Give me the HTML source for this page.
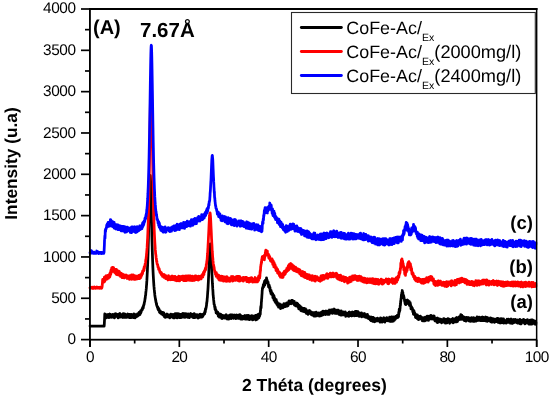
<!DOCTYPE html>
<html><head><meta charset="utf-8"><style>
html,body{margin:0;padding:0;background:#fff;}
svg{display:block;}
text{font-family:"Liberation Sans",Arial,sans-serif;text-rendering:geometricPrecision;}
</style></head><body>
<svg width="550" height="399" viewBox="0 0 550 399">
<rect width="550" height="399" fill="#fff"/>
<g fill="none" stroke-width="2.75" stroke-linejoin="round" stroke-linecap="round">
<path d="M90.00 326.1 90.12 326.1 90.24 326.1 90.36 326.1 90.48 326.1 90.60 326.1 90.72 326.1 90.84 326.1 90.96 326.1 91.08 326.1 91.20 326.1 91.32 326.1 91.44 326.1 91.56 326.1 91.68 326.1 91.80 326.1 91.92 326.1 92.04 326.1 92.16 326.1 92.28 326.1 92.40 326.1 92.52 326.1 92.64 326.1 92.76 326.1 92.88 326.1 93.00 326.1 93.12 326.1 93.24 326.1 93.36 326.1 93.48 326.1 93.60 326.1 93.72 326.1 93.84 326.1 93.96 326.1 94.08 326.1 94.20 326.1 94.32 326.1 94.44 326.1 94.56 326.1 94.68 326.1 94.80 326.1 94.92 326.1 95.04 326.1 95.16 326.1 95.28 326.1 95.40 326.1 95.52 326.1 95.64 326.1 95.76 326.1 95.88 326.1 96.00 326.1 96.12 326.1 96.24 326.1 96.36 326.1 96.48 326.1 96.60 326.1 96.72 326.1 96.84 326.1 96.96 326.1 97.08 326.1 97.20 326.1 97.32 326.1 97.44 326.1 97.56 326.1 97.68 326.1 97.80 326.1 97.92 326.1 98.04 326.1 98.16 326.1 98.28 326.1 98.40 326.1 98.52 326.1 98.64 326.1 98.76 326.1 98.88 326.1 99.00 326.1 99.12 326.1 99.24 326.1 99.36 326.1 99.48 326.1 99.60 326.1 99.72 326.1 99.84 326.1 99.96 326.1 100.08 326.1 100.20 326.1 100.32 326.1 100.44 326.1 100.56 326.1 100.68 326.1 100.80 326.1 100.92 326.1 101.04 326.1 101.16 326.1 101.28 326.1 101.40 326.1 101.52 326.1 101.64 326.1 101.76 326.1 101.88 326.1 102.00 326.1 102.12 326.1 102.24 326.1 102.36 326.0 102.48 326.0 102.60 326.0 102.72 326.0 102.84 326.0 102.96 326.0 103.08 326.0 103.20 326.0 103.32 326.0 103.44 326.0 103.56 326.0 103.68 326.0 103.80 326.0 103.92 326.0 104.04 326.0 104.16 326.0 104.28 324.7 104.40 322.3 104.52 319.8 104.64 317.4 104.76 314.0 104.88 315.0 105.00 316.6 105.12 314.0 105.24 317.1 105.36 314.3 105.48 317.0 105.60 315.2 105.72 317.0 105.84 316.3 105.96 314.5 106.08 317.5 106.20 317.7 106.32 316.0 106.44 315.8 106.56 315.9 106.68 315.0 106.80 317.3 106.92 315.5 107.04 316.0 107.16 315.2 107.28 315.4 107.40 314.7 107.52 317.4 107.64 315.9 107.76 317.1 107.88 316.0 108.00 315.3 108.12 315.7 108.24 315.4 108.36 316.0 108.48 315.6 108.60 315.7 108.72 314.5 108.84 315.1 108.96 317.7 109.08 315.2 109.20 314.8 109.32 316.3 109.44 317.4 109.56 314.4 109.68 315.7 109.80 315.2 109.92 314.0 110.04 316.7 110.16 315.9 110.28 316.0 110.40 315.1 110.52 316.4 110.64 315.3 110.76 315.7 110.88 314.7 111.00 314.6 111.12 317.3 111.24 315.3 111.36 316.2 111.48 315.8 111.60 315.4 111.72 315.3 111.84 316.6 111.96 315.6 112.08 315.7 112.20 315.9 112.32 317.1 112.44 316.6 112.56 316.3 112.68 315.3 112.80 314.4 112.92 316.9 113.04 316.9 113.16 315.7 113.28 316.4 113.40 316.7 113.52 316.7 113.64 316.8 113.76 315.4 113.88 317.5 114.00 314.5 114.12 316.8 114.24 316.4 114.36 316.8 114.48 317.8 114.60 317.4 114.72 314.6 114.84 314.0 114.96 316.7 115.08 314.7 115.20 315.8 115.32 316.7 115.44 314.1 115.56 313.7 115.68 316.1 115.80 315.9 115.92 315.5 116.04 315.8 116.16 314.9 116.28 314.2 116.40 315.6 116.52 314.8 116.64 314.0 116.76 316.3 116.88 315.7 117.00 316.2 117.12 314.7 117.24 315.1 117.36 314.7 117.48 314.8 117.60 316.0 117.72 314.9 117.84 316.1 117.96 316.1 118.08 317.9 118.20 314.3 118.32 316.7 118.44 315.7 118.56 315.7 118.68 314.2 118.80 315.2 118.92 316.5 119.04 315.6 119.16 315.8 119.28 315.4 119.40 316.9 119.52 315.7 119.64 313.6 119.76 315.0 119.88 313.6 120.00 313.6 120.12 315.1 120.24 317.1 120.36 315.8 120.48 314.5 120.60 314.7 120.72 316.9 120.84 315.9 120.96 315.8 121.08 315.7 121.20 315.8 121.32 316.6 121.44 316.3 121.56 315.9 121.68 314.6 121.80 316.3 121.92 315.0 122.04 316.9 122.16 314.4 122.28 315.6 122.40 315.7 122.52 314.3 122.64 317.5 122.76 317.3 122.88 315.2 123.00 316.5 123.12 316.1 123.24 313.6 123.36 316.0 123.48 315.7 123.60 315.8 123.72 314.6 123.84 315.4 123.96 315.5 124.08 317.0 124.20 316.1 124.32 315.7 124.44 317.3 124.56 315.1 124.68 315.3 124.80 313.8 124.92 317.3 125.04 316.7 125.16 316.7 125.28 316.4 125.40 315.8 125.52 315.9 125.64 315.4 125.76 315.5 125.88 315.7 126.00 317.3 126.12 316.3 126.24 315.6 126.36 315.1 126.48 315.0 126.60 317.3 126.72 316.2 126.84 315.7 126.96 315.3 127.08 314.5 127.20 315.6 127.32 316.5 127.44 315.2 127.56 315.4 127.68 315.4 127.80 315.7 127.92 314.0 128.04 315.4 128.16 314.7 128.28 316.5 128.40 314.8 128.52 316.2 128.64 317.1 128.76 315.3 128.88 315.0 129.00 315.8 129.12 315.6 129.24 314.5 129.36 316.0 129.48 317.6 129.60 315.3 129.72 315.3 129.84 314.5 129.96 315.8 130.08 314.3 130.20 314.4 130.32 316.8 130.44 314.6 130.56 316.7 130.68 317.1 130.80 315.9 130.92 316.2 131.04 317.6 131.16 315.5 131.28 315.1 131.40 314.3 131.52 315.7 131.64 317.2 131.76 316.7 131.88 314.8 132.00 314.9 132.12 315.3 132.24 316.1 132.36 315.6 132.48 316.0 132.60 316.1 132.72 315.5 132.84 315.8 132.96 316.0 133.08 315.8 133.20 316.3 133.32 317.7 133.44 316.4 133.56 315.9 133.68 314.2 133.80 316.2 133.92 314.0 134.04 314.5 134.16 316.7 134.28 316.6 134.40 315.7 134.52 314.2 134.64 315.5 134.76 315.2 134.88 316.5 135.00 317.8 135.12 316.1 135.24 315.1 135.36 314.8 135.48 315.8 135.60 315.7 135.72 314.8 135.84 316.0 135.96 314.8 136.08 316.9 136.20 316.8 136.32 316.8 136.44 315.3 136.56 316.2 136.68 315.6 136.80 315.4 136.92 315.4 137.04 314.5 137.16 314.3 137.28 316.2 137.40 315.2 137.52 315.5 137.64 316.1 137.76 313.6 137.88 314.3 138.00 315.1 138.12 315.2 138.24 314.4 138.36 315.6 138.48 314.7 138.60 313.4 138.72 313.5 138.84 314.9 138.96 314.5 139.08 312.4 139.20 315.0 139.32 314.3 139.44 314.8 139.56 313.2 139.68 313.1 139.80 312.3 139.92 314.7 140.04 312.8 140.16 314.1 140.28 312.1 140.40 312.6 140.52 311.0 140.64 311.9 140.76 312.8 140.88 310.8 141.00 312.5 141.12 311.7 141.24 310.5 141.36 310.7 141.48 310.5 141.60 310.6 141.72 310.1 141.84 309.6 141.96 309.8 142.08 309.0 142.20 308.6 142.32 309.2 142.44 309.6 142.56 307.7 142.68 308.4 142.80 307.7 142.92 307.2 143.04 308.1 143.16 306.8 143.28 307.8 143.40 305.9 143.52 306.3 143.64 305.5 143.76 304.8 143.88 305.1 144.00 304.2 144.12 304.2 144.24 303.3 144.36 302.2 144.48 302.2 144.60 301.7 144.72 301.5 144.84 299.9 144.96 299.6 145.08 298.0 145.20 298.5 145.32 296.8 145.44 295.6 145.56 295.5 145.68 295.0 145.80 292.8 145.92 291.9 146.04 290.9 146.16 289.5 146.28 288.7 146.40 286.8 146.52 285.3 146.64 284.1 146.76 281.9 146.88 280.4 147.00 277.9 147.12 275.7 147.24 273.2 147.36 271.7 147.48 268.4 147.60 265.7 147.72 262.5 147.84 259.2 147.96 255.6 148.08 252.1 148.20 247.4 148.32 243.0 148.44 238.5 148.56 233.5 148.68 228.8 148.80 223.4 148.92 217.7 149.04 212.0 149.16 206.6 149.28 201.2 149.40 195.5 149.52 190.8 149.64 186.0 149.76 182.4 149.88 179.0 150.00 176.8 150.12 175.5 150.24 175.4 150.36 176.5 150.48 178.4 150.60 181.1 150.72 184.7 150.84 188.9 150.96 194.0 151.08 199.3 151.20 204.7 151.32 210.3 151.44 215.8 151.56 221.5 151.68 226.8 151.80 232.2 151.92 237.3 152.04 241.6 152.16 246.0 152.28 250.3 152.40 254.1 152.52 257.7 152.64 261.2 152.76 264.2 152.88 267.6 153.00 270.1 153.12 272.8 153.24 275.1 153.36 277.1 153.48 279.1 153.60 281.2 153.72 282.9 153.84 284.9 153.96 286.4 154.08 287.3 154.20 289.2 154.32 289.9 154.44 291.4 154.56 292.7 154.68 293.0 154.80 294.9 154.92 295.8 155.04 296.6 155.16 297.3 155.28 298.1 155.40 298.5 155.52 299.6 155.64 300.1 155.76 301.0 155.88 300.9 156.00 302.3 156.12 302.8 156.24 303.1 156.36 303.4 156.48 304.5 156.60 303.5 156.72 305.3 156.84 305.5 156.96 305.9 157.08 306.4 157.20 306.0 157.32 306.6 157.44 307.5 157.56 307.7 157.68 307.9 157.80 306.9 157.92 308.6 158.04 309.4 158.16 309.5 158.28 309.2 158.40 308.1 158.52 310.2 158.64 309.6 158.76 308.4 158.88 310.4 159.00 309.1 159.12 309.5 159.24 310.2 159.36 311.8 159.48 310.7 159.60 311.4 159.72 312.7 159.84 312.7 159.96 311.5 160.08 311.6 160.20 310.9 160.32 311.5 160.44 312.5 160.56 312.6 160.68 312.5 160.80 313.4 160.92 312.0 161.04 312.7 161.16 313.5 161.28 313.5 161.40 314.0 161.52 313.5 161.64 313.0 161.76 313.7 161.88 312.6 162.00 312.2 162.12 314.2 162.24 313.7 162.36 314.1 162.48 312.4 162.60 313.7 162.72 313.6 162.84 313.4 162.96 312.5 163.08 314.0 163.20 315.2 163.32 314.8 163.44 314.0 163.56 314.6 163.68 315.4 163.80 312.9 163.92 314.7 164.04 315.4 164.16 315.6 164.28 316.6 164.40 316.2 164.52 315.5 164.64 315.5 164.76 316.0 164.88 314.8 165.00 315.4 165.12 316.3 165.24 317.3 165.36 315.3 165.48 315.4 165.60 315.7 165.72 316.8 165.84 315.5 165.96 317.0 166.08 314.7 166.20 315.4 166.32 315.4 166.44 316.4 166.56 316.7 166.68 314.2 166.80 314.8 166.92 316.0 167.04 315.1 167.16 314.2 167.28 316.8 167.40 316.2 167.52 316.2 167.64 315.3 167.76 316.8 167.88 315.6 168.00 316.9 168.12 314.9 168.24 315.0 168.36 316.0 168.48 315.1 168.60 316.5 168.72 316.1 168.84 314.9 168.96 315.9 169.08 315.5 169.20 316.8 169.32 315.2 169.44 315.4 169.56 317.1 169.68 317.9 169.80 317.9 169.92 316.0 170.04 316.1 170.16 317.4 170.28 315.8 170.40 314.9 170.52 316.0 170.64 316.4 170.76 315.1 170.88 314.2 171.00 314.5 171.12 316.6 171.24 315.1 171.36 315.8 171.48 316.1 171.60 316.5 171.72 315.6 171.84 316.4 171.96 315.0 172.08 315.5 172.20 314.9 172.32 317.1 172.44 315.9 172.56 315.1 172.68 315.5 172.80 315.7 172.92 316.6 173.04 314.3 173.16 314.8 173.28 315.5 173.40 317.9 173.52 316.9 173.64 315.8 173.76 316.6 173.88 317.9 174.00 315.6 174.12 315.5 174.24 317.1 174.36 316.4 174.48 316.5 174.60 315.3 174.72 317.8 174.84 317.6 174.96 316.4 175.08 316.5 175.20 313.7 175.32 316.5 175.44 315.6 175.56 316.2 175.68 316.5 175.80 315.4 175.92 314.0 176.04 316.1 176.16 315.0 176.28 315.4 176.40 315.1 176.52 315.4 176.64 313.7 176.76 317.0 176.88 316.0 177.00 316.9 177.12 317.8 177.24 315.7 177.36 313.8 177.48 314.8 177.60 314.4 177.72 315.1 177.84 315.7 177.96 313.6 178.08 316.0 178.20 314.1 178.32 315.9 178.44 315.5 178.56 315.3 178.68 315.5 178.80 315.0 178.92 314.9 179.04 313.8 179.16 315.5 179.28 317.5 179.40 317.6 179.52 316.9 179.64 316.3 179.76 314.8 179.88 317.0 180.00 315.4 180.12 315.4 180.24 315.2 180.36 315.6 180.48 315.1 180.60 315.4 180.72 314.4 180.84 315.1 180.96 317.6 181.08 315.5 181.20 315.3 181.32 316.1 181.44 316.3 181.56 314.4 181.68 315.3 181.80 316.5 181.92 315.8 182.04 315.7 182.16 317.2 182.28 314.9 182.40 315.7 182.52 315.0 182.64 317.1 182.76 313.5 182.88 314.9 183.00 315.0 183.12 316.3 183.24 316.2 183.36 317.1 183.48 314.0 183.60 316.4 183.72 315.3 183.84 314.9 183.96 316.2 184.08 314.7 184.20 313.5 184.32 315.2 184.44 314.1 184.56 314.9 184.68 316.0 184.80 316.0 184.92 317.3 185.04 315.4 185.16 314.0 185.28 314.8 185.40 314.7 185.52 314.4 185.64 316.1 185.76 315.0 185.88 313.6 186.00 316.4 186.12 315.5 186.24 316.0 186.36 315.8 186.48 316.3 186.60 315.7 186.72 316.9 186.84 316.1 186.96 316.1 187.08 316.1 187.20 314.1 187.32 315.5 187.44 315.4 187.56 315.9 187.68 314.2 187.80 317.4 187.92 315.8 188.04 314.4 188.16 313.9 188.28 315.4 188.40 315.6 188.52 314.9 188.64 315.7 188.76 315.0 188.88 316.2 189.00 314.9 189.12 315.6 189.24 316.7 189.36 317.7 189.48 314.6 189.60 315.2 189.72 314.8 189.84 316.5 189.96 314.4 190.08 315.1 190.20 315.6 190.32 314.6 190.44 314.6 190.56 315.1 190.68 313.5 190.80 314.1 190.92 315.2 191.04 315.8 191.16 315.4 191.28 313.8 191.40 315.1 191.52 316.4 191.64 316.2 191.76 315.5 191.88 314.7 192.00 316.2 192.12 315.0 192.24 314.4 192.36 314.7 192.48 317.1 192.60 315.8 192.72 316.7 192.84 315.0 192.96 316.5 193.08 314.9 193.20 315.4 193.32 317.6 193.44 316.3 193.56 315.0 193.68 315.4 193.80 315.8 193.92 316.7 194.04 315.0 194.16 313.7 194.28 315.2 194.40 315.5 194.52 315.6 194.64 316.8 194.76 315.7 194.88 316.2 195.00 314.3 195.12 316.3 195.24 317.5 195.36 316.3 195.48 315.8 195.60 315.7 195.72 317.4 195.84 314.6 195.96 315.5 196.08 316.1 196.20 316.4 196.32 315.2 196.44 316.0 196.56 315.5 196.68 315.9 196.80 315.7 196.92 314.7 197.04 315.8 197.16 316.7 197.28 314.9 197.40 315.6 197.52 316.6 197.64 314.9 197.76 316.1 197.88 314.9 198.00 317.1 198.12 318.0 198.24 318.0 198.36 315.8 198.48 316.8 198.60 316.2 198.72 316.2 198.84 317.6 198.96 314.8 199.08 317.1 199.20 316.1 199.32 317.5 199.44 316.3 199.56 315.5 199.68 316.4 199.80 316.8 199.92 316.2 200.04 316.6 200.16 315.6 200.28 314.2 200.40 317.0 200.52 316.8 200.64 316.2 200.76 316.1 200.88 317.0 201.00 315.6 201.12 315.4 201.24 315.8 201.36 317.1 201.48 314.7 201.60 317.1 201.72 315.3 201.84 314.9 201.96 317.0 202.08 315.7 202.20 314.6 202.32 315.4 202.44 316.5 202.56 316.7 202.68 315.2 202.80 315.9 202.92 316.1 203.04 314.8 203.16 315.5 203.28 315.0 203.40 314.4 203.52 314.2 203.64 314.5 203.76 314.3 203.88 313.5 204.00 313.4 204.12 314.5 204.24 313.5 204.36 313.8 204.48 313.8 204.60 313.0 204.72 313.8 204.84 311.3 204.96 312.3 205.08 311.1 205.20 312.3 205.32 311.8 205.44 308.8 205.56 309.1 205.68 309.7 205.80 309.3 205.92 308.8 206.04 307.6 206.16 307.4 206.28 306.8 206.40 305.7 206.52 305.5 206.64 302.9 206.76 303.5 206.88 301.6 207.00 301.6 207.12 299.9 207.24 298.3 207.36 297.6 207.48 295.5 207.60 294.0 207.72 292.0 207.84 290.8 207.96 289.1 208.08 287.2 208.20 284.6 208.32 282.6 208.44 279.8 208.56 277.1 208.68 274.6 208.80 271.9 208.92 268.6 209.04 265.7 209.16 262.7 209.28 259.7 209.40 256.6 209.52 254.2 209.64 251.3 209.76 249.2 209.88 247.0 210.00 245.6 210.12 244.5 210.24 243.8 210.36 244.2 210.48 244.4 210.60 245.6 210.72 246.9 210.84 248.5 210.96 250.7 211.08 253.4 211.20 256.0 211.32 258.8 211.44 261.6 211.56 264.1 211.68 267.4 211.80 269.7 211.92 273.1 212.04 275.4 212.16 278.0 212.28 280.6 212.40 283.2 212.52 284.8 212.64 286.7 212.76 288.9 212.88 290.3 213.00 292.4 213.12 295.1 213.24 295.3 213.36 297.5 213.48 297.7 213.60 299.7 213.72 300.4 213.84 301.6 213.96 302.8 214.08 304.4 214.20 304.2 214.32 304.9 214.44 304.8 214.56 306.5 214.68 306.5 214.80 307.7 214.92 307.6 215.04 309.3 215.16 307.1 215.28 308.7 215.40 310.0 215.52 309.4 215.64 309.4 215.76 310.1 215.88 309.5 216.00 311.0 216.12 312.8 216.24 312.3 216.36 310.8 216.48 311.2 216.60 311.8 216.72 313.2 216.84 311.9 216.96 312.2 217.08 313.7 217.20 313.9 217.32 313.0 217.44 312.5 217.56 312.3 217.68 313.2 217.80 312.2 217.92 314.8 218.04 313.7 218.16 314.8 218.28 316.2 218.40 315.8 218.52 313.8 218.64 315.8 218.76 316.1 218.88 314.5 219.00 314.4 219.12 315.3 219.24 314.1 219.36 317.1 219.48 313.9 219.60 314.8 219.72 315.6 219.84 315.7 219.96 316.1 220.08 316.3 220.20 315.9 220.32 317.2 220.44 314.2 220.56 316.2 220.68 315.5 220.80 316.4 220.92 316.5 221.04 315.4 221.16 315.7 221.28 317.1 221.40 316.7 221.52 315.7 221.64 318.4 221.76 318.5 221.88 315.0 222.00 316.8 222.12 318.5 222.24 317.3 222.36 316.8 222.48 316.4 222.60 316.1 222.72 316.4 222.84 316.1 222.96 317.4 223.08 316.3 223.20 316.2 223.32 315.5 223.44 316.7 223.56 315.8 223.68 316.6 223.80 317.8 223.92 317.1 224.04 317.3 224.16 317.2 224.28 316.9 224.40 316.7 224.52 316.5 224.64 317.6 224.76 315.7 224.88 318.2 225.00 316.9 225.12 316.1 225.24 316.4 225.36 316.2 225.48 317.0 225.60 316.1 225.72 318.1 225.84 316.1 225.96 314.8 226.08 316.2 226.20 314.8 226.32 316.9 226.44 318.0 226.56 317.6 226.68 315.5 226.80 316.1 226.92 318.8 227.04 317.3 227.16 316.9 227.28 318.0 227.40 319.0 227.52 318.3 227.64 317.1 227.76 317.3 227.88 317.6 228.00 316.3 228.12 315.8 228.24 317.0 228.36 316.0 228.48 316.9 228.60 317.1 228.72 319.1 228.84 316.1 228.96 316.8 229.08 316.8 229.20 317.4 229.32 318.1 229.44 316.4 229.56 316.1 229.68 315.2 229.80 316.0 229.92 317.5 230.04 317.0 230.16 315.9 230.28 316.5 230.40 317.0 230.52 317.5 230.64 316.3 230.76 316.7 230.88 315.0 231.00 315.7 231.12 318.6 231.24 314.8 231.36 316.6 231.48 317.2 231.60 316.5 231.72 316.1 231.84 316.8 231.96 316.9 232.08 316.8 232.20 314.9 232.32 316.7 232.44 316.0 232.56 316.3 232.68 317.1 232.80 317.6 232.92 317.8 233.04 316.3 233.16 317.9 233.28 318.1 233.40 318.1 233.52 318.3 233.64 316.7 233.76 316.7 233.88 317.7 234.00 315.4 234.12 317.1 234.24 316.3 234.36 316.4 234.48 315.0 234.60 315.9 234.72 316.8 234.84 317.8 234.96 317.9 235.08 316.7 235.20 316.6 235.32 315.9 235.44 317.2 235.56 316.5 235.68 317.4 235.80 318.7 235.92 316.7 236.04 315.2 236.16 315.8 236.28 315.2 236.40 315.5 236.52 318.1 236.64 317.0 236.76 315.1 236.88 317.4 237.00 318.1 237.12 316.3 237.24 316.0 237.36 316.3 237.48 317.0 237.60 317.4 237.72 318.0 237.84 318.0 237.96 318.0 238.08 318.2 238.20 317.5 238.32 315.1 238.44 316.6 238.56 317.1 238.68 316.4 238.80 317.8 238.92 316.4 239.04 315.8 239.16 318.4 239.28 317.5 239.40 317.1 239.52 317.8 239.64 318.0 239.76 317.2 239.88 314.7 240.00 316.2 240.12 316.4 240.24 315.8 240.36 317.1 240.48 318.2 240.60 316.4 240.72 315.7 240.84 319.1 240.96 316.5 241.08 315.6 241.20 317.2 241.32 317.4 241.44 316.2 241.56 317.8 241.68 316.5 241.80 316.0 241.92 317.2 242.04 317.9 242.16 316.3 242.28 317.4 242.40 316.9 242.52 319.2 242.64 316.3 242.76 318.6 242.88 317.0 243.00 317.0 243.12 317.9 243.24 318.1 243.36 318.5 243.48 317.5 243.60 316.5 243.72 316.6 243.84 317.7 243.96 317.8 244.08 318.7 244.20 317.6 244.32 318.3 244.44 318.8 244.56 317.4 244.68 315.6 244.80 315.9 244.92 315.7 245.04 319.0 245.16 316.3 245.28 318.6 245.40 317.9 245.52 319.1 245.64 318.4 245.76 317.2 245.88 317.1 246.00 317.4 246.12 317.5 246.24 316.7 246.36 317.3 246.48 319.1 246.60 315.5 246.72 317.6 246.84 316.4 246.96 317.6 247.08 318.3 247.20 317.3 247.32 318.2 247.44 315.7 247.56 318.6 247.68 316.7 247.80 318.1 247.92 317.6 248.04 315.3 248.16 316.6 248.28 317.7 248.40 319.1 248.52 317.8 248.64 317.7 248.76 315.9 248.88 319.0 249.00 319.5 249.12 317.5 249.24 317.3 249.36 315.8 249.48 318.5 249.60 319.7 249.72 318.3 249.84 318.9 249.96 318.1 250.08 316.5 250.20 319.0 250.32 316.2 250.44 317.4 250.56 317.9 250.68 318.6 250.80 318.1 250.92 318.0 251.04 316.8 251.16 316.2 251.28 317.7 251.40 316.9 251.52 316.2 251.64 316.3 251.76 317.1 251.88 315.7 252.00 316.2 252.12 315.9 252.24 317.9 252.36 318.1 252.48 319.9 252.60 316.1 252.72 317.0 252.84 318.7 252.96 317.5 253.08 317.4 253.20 319.6 253.32 317.4 253.44 316.5 253.56 316.3 253.68 318.1 253.80 318.1 253.92 316.3 254.04 316.7 254.16 318.4 254.28 318.4 254.40 317.1 254.52 318.5 254.64 318.5 254.76 315.9 254.88 317.5 255.00 318.3 255.12 317.2 255.24 315.7 255.36 317.6 255.48 318.7 255.60 319.6 255.72 315.7 255.84 320.0 255.96 316.5 256.08 318.7 256.20 319.0 256.32 318.6 256.44 317.7 256.56 316.2 256.68 318.1 256.80 316.6 256.92 315.1 257.04 319.4 257.16 318.0 257.28 319.1 257.40 316.1 257.52 318.6 257.64 318.7 257.76 318.6 257.88 316.8 258.00 315.5 258.12 316.5 258.24 314.3 258.36 314.5 258.48 316.3 258.60 315.0 258.72 315.8 258.84 315.7 258.96 317.8 259.08 317.0 259.20 315.4 259.32 316.6 259.44 314.3 259.56 314.6 259.68 315.9 259.80 313.4 259.92 314.3 260.04 312.7 260.16 313.4 260.28 314.1 260.40 310.5 260.52 310.6 260.64 308.5 260.76 307.2 260.88 306.2 261.00 308.2 261.12 307.8 261.24 305.0 261.36 302.0 261.48 301.8 261.60 299.0 261.72 298.6 261.84 296.4 261.96 294.7 262.08 293.3 262.20 290.4 262.32 290.1 262.44 288.1 262.56 289.0 262.68 287.4 262.80 288.3 262.92 286.9 263.04 287.6 263.16 287.4 263.28 284.9 263.40 285.0 263.52 284.4 263.64 286.0 263.76 286.8 263.88 285.7 264.00 284.1 264.12 285.9 264.24 282.4 264.36 285.4 264.48 282.8 264.60 281.1 264.72 285.2 264.84 284.5 264.96 281.5 265.08 282.6 265.20 281.9 265.32 282.1 265.44 280.1 265.56 280.8 265.68 281.9 265.80 281.4 265.92 282.3 266.04 280.9 266.16 282.8 266.28 279.6 266.40 280.4 266.52 277.9 266.64 278.9 266.76 282.0 266.88 279.7 267.00 281.6 267.12 281.2 267.24 280.3 267.36 281.3 267.48 281.4 267.60 281.7 267.72 283.3 267.84 283.4 267.96 282.3 268.08 282.2 268.20 283.9 268.32 283.8 268.44 285.4 268.56 286.8 268.68 285.8 268.80 285.2 268.92 285.4 269.04 285.0 269.16 285.3 269.28 285.5 269.40 286.5 269.52 286.8 269.64 288.5 269.76 287.6 269.88 288.1 270.00 287.3 270.12 290.8 270.24 289.9 270.36 291.6 270.48 290.9 270.60 292.0 270.72 290.4 270.84 291.8 270.96 293.6 271.08 290.3 271.20 293.2 271.32 294.0 271.44 292.9 271.56 293.5 271.68 294.3 271.80 292.5 271.92 293.9 272.04 292.7 272.16 293.2 272.28 293.5 272.40 294.3 272.52 294.9 272.64 295.5 272.76 293.7 272.88 297.7 273.00 297.0 273.12 296.8 273.24 295.9 273.36 296.4 273.48 297.4 273.60 297.5 273.72 295.4 273.84 298.4 273.96 300.0 274.08 296.0 274.20 299.4 274.32 299.0 274.44 298.7 274.56 300.6 274.68 298.0 274.80 299.8 274.92 301.5 275.04 299.8 275.16 299.8 275.28 300.5 275.40 300.1 275.52 302.5 275.64 299.9 275.76 302.1 275.88 299.9 276.00 302.3 276.12 301.6 276.24 299.7 276.36 302.0 276.48 301.0 276.60 301.9 276.72 304.3 276.84 301.5 276.96 301.7 277.08 304.7 277.20 303.4 277.32 305.2 277.44 304.0 277.56 302.8 277.68 303.9 277.80 305.6 277.92 305.4 278.04 304.5 278.16 304.7 278.28 304.6 278.40 304.1 278.52 307.1 278.64 305.0 278.76 303.8 278.88 304.6 279.00 306.1 279.12 306.1 279.24 305.3 279.36 304.8 279.48 305.6 279.60 303.8 279.72 304.3 279.84 306.8 279.96 305.4 280.08 306.5 280.20 307.5 280.32 307.0 280.44 306.4 280.56 308.6 280.68 307.3 280.80 306.2 280.92 307.5 281.04 307.2 281.16 305.9 281.28 307.0 281.40 306.9 281.52 305.0 281.64 307.0 281.76 306.8 281.88 306.5 282.00 305.1 282.12 306.5 282.24 306.8 282.36 306.8 282.48 305.4 282.60 307.3 282.72 305.1 282.84 306.2 282.96 307.8 283.08 305.5 283.20 305.6 283.32 307.4 283.44 305.6 283.56 305.7 283.68 306.2 283.80 307.0 283.92 303.6 284.04 304.8 284.16 304.5 284.28 304.3 284.40 304.5 284.52 304.5 284.64 305.7 284.76 304.3 284.88 305.3 285.00 305.6 285.12 304.2 285.24 305.1 285.36 306.7 285.48 305.2 285.60 304.0 285.72 304.6 285.84 303.6 285.96 304.8 286.08 305.4 286.20 303.5 286.32 304.1 286.44 305.5 286.56 303.7 286.68 304.4 286.80 303.0 286.92 303.1 287.04 303.4 287.16 306.1 287.28 303.4 287.40 303.3 287.52 303.2 287.64 303.5 287.76 304.4 287.88 303.8 288.00 305.7 288.12 303.7 288.24 305.0 288.36 303.7 288.48 304.0 288.60 301.7 288.72 303.1 288.84 303.1 288.96 302.8 289.08 300.9 289.20 304.0 289.32 302.5 289.44 302.4 289.56 302.5 289.68 302.5 289.80 303.2 289.92 301.3 290.04 301.6 290.16 302.9 290.28 302.6 290.40 302.0 290.52 301.7 290.64 301.4 290.76 302.2 290.88 303.5 291.00 301.0 291.12 303.8 291.24 303.0 291.36 301.5 291.48 303.0 291.60 300.6 291.72 300.3 291.84 300.9 291.96 301.9 292.08 302.1 292.20 301.9 292.32 302.7 292.44 300.4 292.56 303.2 292.68 301.2 292.80 302.1 292.92 302.4 293.04 301.7 293.16 301.5 293.28 302.0 293.40 303.1 293.52 303.8 293.64 303.9 293.76 302.2 293.88 302.5 294.00 302.4 294.12 304.0 294.24 301.4 294.36 305.0 294.48 303.2 294.60 302.9 294.72 304.2 294.84 305.0 294.96 304.3 295.08 305.2 295.20 304.2 295.32 305.5 295.44 305.6 295.56 304.2 295.68 305.9 295.80 304.6 295.92 304.6 296.04 303.5 296.16 304.3 296.28 305.6 296.40 303.4 296.52 305.6 296.64 305.4 296.76 305.4 296.88 303.0 297.00 305.2 297.12 306.1 297.24 304.7 297.36 305.7 297.48 303.5 297.60 306.5 297.72 305.2 297.84 306.9 297.96 304.1 298.08 306.9 298.20 306.0 298.32 307.2 298.44 305.4 298.56 305.9 298.68 308.8 298.80 305.8 298.92 306.1 299.04 306.6 299.16 305.9 299.28 308.4 299.40 309.1 299.52 306.6 299.64 305.5 299.76 308.8 299.88 308.8 300.00 308.6 300.12 309.1 300.24 307.0 300.36 307.8 300.48 306.6 300.60 306.6 300.72 309.4 300.84 307.7 300.96 310.7 301.08 308.7 301.20 308.0 301.32 309.6 301.44 310.8 301.56 309.5 301.68 307.7 301.80 309.6 301.92 310.8 302.04 308.8 302.16 308.6 302.28 310.7 302.40 309.8 302.52 308.5 302.64 309.4 302.76 309.0 302.88 310.2 303.00 310.1 303.12 311.3 303.24 310.8 303.36 308.4 303.48 310.6 303.60 311.2 303.72 310.8 303.84 311.5 303.96 309.8 304.08 309.4 304.20 311.5 304.32 309.4 304.44 308.4 304.56 311.8 304.68 309.9 304.80 310.4 304.92 309.2 305.04 309.4 305.16 309.6 305.28 310.5 305.40 311.4 305.52 308.8 305.64 311.9 305.76 309.8 305.88 310.0 306.00 312.0 306.12 311.2 306.24 309.7 306.36 313.4 306.48 310.5 306.60 311.8 306.72 311.8 306.84 313.1 306.96 311.1 307.08 312.8 307.20 310.9 307.32 313.0 307.44 311.0 307.56 311.5 307.68 314.0 307.80 312.3 307.92 312.2 308.04 314.3 308.16 312.5 308.28 311.3 308.40 313.1 308.52 311.0 308.64 313.6 308.76 313.7 308.88 311.8 309.00 311.8 309.12 312.7 309.24 312.6 309.36 311.5 309.48 313.3 309.60 310.5 309.72 312.2 309.84 312.3 309.96 312.5 310.08 313.1 310.20 311.5 310.32 313.5 310.44 312.7 310.56 312.2 310.68 311.5 310.80 311.7 310.92 313.4 311.04 312.0 311.16 313.2 311.28 314.3 311.40 314.3 311.52 314.9 311.64 312.9 311.76 312.1 311.88 314.4 312.00 313.7 312.12 314.6 312.24 313.4 312.36 314.7 312.48 314.4 312.60 314.3 312.72 314.1 312.84 314.0 312.96 313.8 313.08 313.9 313.20 314.7 313.32 313.1 313.44 315.6 313.56 313.6 313.68 314.9 313.80 313.7 313.92 313.6 314.04 316.1 314.16 313.6 314.28 312.5 314.40 313.2 314.52 313.7 314.64 316.2 314.76 314.3 314.88 315.1 315.00 313.0 315.12 314.5 315.24 314.9 315.36 316.2 315.48 313.5 315.60 315.0 315.72 314.7 315.84 313.2 315.96 314.4 316.08 314.1 316.20 312.2 316.32 315.0 316.44 314.9 316.56 313.8 316.68 312.8 316.80 315.9 316.92 314.5 317.04 315.4 317.16 315.8 317.28 313.6 317.40 315.1 317.52 313.9 317.64 314.1 317.76 314.0 317.88 314.1 318.00 315.3 318.12 314.2 318.24 313.9 318.36 313.7 318.48 314.4 318.60 313.0 318.72 313.4 318.84 313.9 318.96 313.3 319.08 313.8 319.20 313.2 319.32 316.1 319.44 315.3 319.56 314.3 319.68 313.8 319.80 316.0 319.92 314.1 320.04 313.7 320.16 314.1 320.28 314.1 320.40 315.3 320.52 313.7 320.64 315.9 320.76 312.7 320.88 314.4 321.00 312.5 321.12 315.6 321.24 313.2 321.36 313.5 321.48 314.6 321.60 314.9 321.72 312.3 321.84 313.1 321.96 311.9 322.08 313.6 322.20 313.3 322.32 313.0 322.44 312.6 322.56 313.0 322.68 312.5 322.80 313.9 322.92 315.0 323.04 311.2 323.16 313.2 323.28 312.8 323.40 313.8 323.52 312.2 323.64 313.1 323.76 312.1 323.88 313.9 324.00 313.3 324.12 313.0 324.24 313.5 324.36 312.8 324.48 311.4 324.60 313.7 324.72 313.4 324.84 312.9 324.96 314.1 325.08 314.3 325.20 311.8 325.32 312.1 325.44 314.6 325.56 314.4 325.68 312.1 325.80 311.5 325.92 312.1 326.04 312.3 326.16 311.0 326.28 312.8 326.40 311.3 326.52 311.4 326.64 313.7 326.76 311.9 326.88 312.6 327.00 313.3 327.12 313.5 327.24 312.2 327.36 312.6 327.48 311.6 327.60 314.4 327.72 313.2 327.84 311.2 327.96 312.4 328.08 313.2 328.20 312.9 328.32 314.4 328.44 313.8 328.56 311.7 328.68 312.2 328.80 310.9 328.92 312.5 329.04 312.4 329.16 314.4 329.28 312.3 329.40 310.0 329.52 311.4 329.64 312.2 329.76 310.7 329.88 311.1 330.00 311.6 330.12 312.4 330.24 311.8 330.36 311.0 330.48 312.8 330.60 311.3 330.72 311.3 330.84 310.4 330.96 311.0 331.08 312.5 331.20 310.0 331.32 311.7 331.44 312.5 331.56 311.3 331.68 312.0 331.80 310.5 331.92 313.1 332.04 312.8 332.16 311.9 332.28 309.7 332.40 310.4 332.52 312.6 332.64 313.4 332.76 311.8 332.88 312.8 333.00 310.8 333.12 311.2 333.24 311.4 333.36 311.8 333.48 309.7 333.60 312.4 333.72 312.8 333.84 310.0 333.96 309.8 334.08 311.6 334.20 310.5 334.32 309.0 334.44 312.1 334.56 311.3 334.68 310.6 334.80 313.3 334.92 311.2 335.04 310.2 335.16 311.1 335.28 309.9 335.40 310.2 335.52 311.5 335.64 310.5 335.76 310.7 335.88 313.0 336.00 312.2 336.12 312.2 336.24 311.9 336.36 311.9 336.48 313.0 336.60 311.4 336.72 313.5 336.84 310.5 336.96 311.3 337.08 310.1 337.20 311.3 337.32 312.3 337.44 313.3 337.56 311.1 337.68 311.8 337.80 311.5 337.92 311.1 338.04 310.7 338.16 312.1 338.28 310.1 338.40 312.2 338.52 312.2 338.64 311.4 338.76 311.1 338.88 310.7 339.00 314.4 339.12 310.9 339.24 314.1 339.36 313.1 339.48 312.1 339.60 311.2 339.72 313.7 339.84 314.5 339.96 311.6 340.08 312.3 340.20 313.9 340.32 313.1 340.44 315.0 340.56 312.2 340.68 313.5 340.80 311.6 340.92 315.2 341.04 312.2 341.16 310.8 341.28 312.9 341.40 312.9 341.52 315.2 341.64 312.8 341.76 313.2 341.88 313.8 342.00 315.0 342.12 313.2 342.24 314.4 342.36 313.9 342.48 313.0 342.60 313.4 342.72 313.4 342.84 312.4 342.96 314.8 343.08 311.9 343.20 314.8 343.32 314.6 343.44 313.4 343.56 312.7 343.68 313.4 343.80 314.1 343.92 314.5 344.04 314.0 344.16 314.8 344.28 313.1 344.40 314.0 344.52 312.1 344.64 314.7 344.76 314.0 344.88 313.4 345.00 315.2 345.12 314.7 345.24 311.8 345.36 314.0 345.48 312.4 345.60 315.2 345.72 316.3 345.84 313.5 345.96 314.2 346.08 313.9 346.20 314.5 346.32 314.9 346.44 315.6 346.56 313.2 346.68 316.0 346.80 313.3 346.92 314.6 347.04 315.6 347.16 315.2 347.28 313.4 347.40 313.7 347.52 314.0 347.64 314.4 347.76 315.8 347.88 313.1 348.00 315.0 348.12 315.1 348.24 315.0 348.36 314.9 348.48 316.1 348.60 314.9 348.72 315.3 348.84 315.0 348.96 316.3 349.08 312.2 349.20 315.7 349.32 314.0 349.44 314.0 349.56 313.2 349.68 312.2 349.80 313.8 349.92 313.5 350.04 314.7 350.16 312.6 350.28 315.7 350.40 314.5 350.52 313.9 350.64 313.3 350.76 313.2 350.88 312.9 351.00 313.5 351.12 314.1 351.24 313.9 351.36 312.5 351.48 313.7 351.60 313.0 351.72 314.2 351.84 316.0 351.96 314.6 352.08 313.6 352.20 312.1 352.32 312.4 352.44 312.0 352.56 314.7 352.68 313.0 352.80 313.9 352.92 313.1 353.04 313.9 353.16 315.3 353.28 313.0 353.40 313.4 353.52 312.9 353.64 314.7 353.76 312.6 353.88 312.5 354.00 312.2 354.12 312.1 354.24 314.2 354.36 315.8 354.48 312.5 354.60 314.7 354.72 313.9 354.84 312.4 354.96 313.3 355.08 313.3 355.20 312.8 355.32 315.6 355.44 311.4 355.56 313.9 355.68 313.8 355.80 312.8 355.92 313.6 356.04 314.4 356.16 313.6 356.28 313.9 356.40 314.2 356.52 311.3 356.64 315.1 356.76 315.7 356.88 314.6 357.00 314.7 357.12 312.1 357.24 313.5 357.36 312.8 357.48 313.0 357.60 314.8 357.72 312.9 357.84 313.6 357.96 311.7 358.08 313.7 358.20 314.0 358.32 313.1 358.44 313.1 358.56 316.0 358.68 312.6 358.80 312.8 358.92 313.1 359.04 315.4 359.16 316.3 359.28 314.5 359.40 313.4 359.52 313.7 359.64 315.4 359.76 313.2 359.88 315.9 360.00 315.8 360.12 314.4 360.24 315.1 360.36 315.2 360.48 316.1 360.60 313.3 360.72 315.8 360.84 314.1 360.96 313.7 361.08 314.7 361.20 314.3 361.32 313.5 361.44 312.9 361.56 313.6 361.68 316.3 361.80 316.9 361.92 315.5 362.04 316.1 362.16 314.2 362.28 314.8 362.40 315.2 362.52 313.7 362.64 313.8 362.76 315.1 362.88 314.6 363.00 313.8 363.12 315.5 363.24 314.8 363.36 316.2 363.48 315.1 363.60 314.8 363.72 315.3 363.84 315.0 363.96 314.5 364.08 314.8 364.20 316.1 364.32 316.0 364.44 316.8 364.56 313.5 364.68 315.0 364.80 315.0 364.92 315.7 365.04 315.0 365.16 315.0 365.28 316.5 365.40 315.9 365.52 314.5 365.64 317.3 365.76 317.0 365.88 315.3 366.00 316.9 366.12 315.2 366.24 317.3 366.36 315.9 366.48 315.3 366.60 315.9 366.72 315.5 366.84 316.6 366.96 316.6 367.08 316.5 367.20 316.0 367.32 314.4 367.44 316.8 367.56 314.7 367.68 317.1 367.80 318.1 367.92 317.2 368.04 316.5 368.16 316.8 368.28 316.9 368.40 316.5 368.52 316.6 368.64 316.2 368.76 318.6 368.88 317.4 369.00 318.5 369.12 317.2 369.24 317.6 369.36 317.4 369.48 318.2 369.60 318.6 369.72 318.0 369.84 317.1 369.96 317.0 370.08 319.8 370.20 317.7 370.32 317.8 370.44 319.7 370.56 319.4 370.68 318.8 370.80 317.9 370.92 320.6 371.04 318.9 371.16 319.1 371.28 318.4 371.40 317.0 371.52 317.2 371.64 319.2 371.76 319.2 371.88 318.6 372.00 317.6 372.12 317.4 372.24 318.6 372.36 317.5 372.48 320.1 372.60 320.4 372.72 321.4 372.84 320.3 372.96 318.7 373.08 318.5 373.20 317.3 373.32 318.9 373.44 319.4 373.56 320.7 373.68 320.4 373.80 320.4 373.92 320.1 374.04 320.6 374.16 321.5 374.28 318.8 374.40 319.5 374.52 318.5 374.64 321.8 374.76 321.4 374.88 320.8 375.00 318.7 375.12 320.2 375.24 319.7 375.36 320.1 375.48 319.8 375.60 320.6 375.72 319.6 375.84 320.9 375.96 320.3 376.08 319.7 376.20 319.9 376.32 319.5 376.44 320.9 376.56 319.7 376.68 320.3 376.80 319.6 376.92 318.4 377.04 321.0 377.16 318.8 377.28 320.7 377.40 320.5 377.52 318.2 377.64 319.0 377.76 319.4 377.88 319.1 378.00 318.7 378.12 320.8 378.24 319.7 378.36 320.4 378.48 319.5 378.60 320.3 378.72 319.2 378.84 320.0 378.96 320.6 379.08 320.0 379.20 319.5 379.32 318.8 379.44 320.2 379.56 320.4 379.68 319.7 379.80 319.2 379.92 320.6 380.04 322.2 380.16 319.7 380.28 320.4 380.40 320.4 380.52 317.8 380.64 320.1 380.76 319.2 380.88 321.5 381.00 319.7 381.12 319.1 381.24 319.8 381.36 320.2 381.48 319.4 381.60 319.9 381.72 318.5 381.84 319.8 381.96 320.9 382.08 322.2 382.20 320.8 382.32 320.3 382.44 321.3 382.56 321.1 382.68 321.8 382.80 321.2 382.92 319.9 383.04 320.3 383.16 320.2 383.28 320.3 383.40 320.2 383.52 319.1 383.64 317.8 383.76 319.3 383.88 317.8 384.00 320.1 384.12 320.0 384.24 318.2 384.36 320.8 384.48 321.0 384.60 320.1 384.72 321.8 384.84 322.1 384.96 318.7 385.08 321.1 385.20 320.5 385.32 320.4 385.44 321.0 385.56 319.1 385.68 319.3 385.80 319.0 385.92 319.1 386.04 319.8 386.16 318.3 386.28 318.7 386.40 320.5 386.52 319.7 386.64 320.2 386.76 317.7 386.88 318.9 387.00 319.1 387.12 319.8 387.24 319.1 387.36 320.7 387.48 319.6 387.60 319.7 387.72 319.7 387.84 320.4 387.96 319.1 388.08 320.9 388.20 320.1 388.32 319.8 388.44 319.6 388.56 320.1 388.68 320.7 388.80 320.6 388.92 319.9 389.04 320.5 389.16 319.6 389.28 320.8 389.40 319.4 389.52 317.2 389.64 320.9 389.76 319.5 389.88 318.1 390.00 319.2 390.12 318.4 390.24 321.5 390.36 319.9 390.48 317.6 390.60 319.9 390.72 318.9 390.84 321.4 390.96 318.1 391.08 317.1 391.20 319.3 391.32 318.8 391.44 318.7 391.56 317.0 391.68 319.6 391.80 321.0 391.92 317.0 392.04 320.4 392.16 318.5 392.28 321.3 392.40 319.6 392.52 318.9 392.64 320.3 392.76 319.6 392.88 318.4 393.00 319.8 393.12 318.4 393.24 317.0 393.36 321.2 393.48 318.6 393.60 318.3 393.72 319.3 393.84 317.2 393.96 317.4 394.08 318.3 394.20 318.3 394.32 318.9 394.44 320.1 394.56 318.3 394.68 319.3 394.80 319.4 394.92 317.4 395.04 318.7 395.16 317.3 395.28 319.4 395.40 318.6 395.52 318.0 395.64 316.4 395.76 317.8 395.88 316.7 396.00 318.2 396.12 317.2 396.24 316.3 396.36 318.1 396.48 317.8 396.60 316.2 396.72 318.0 396.84 316.3 396.96 316.1 397.08 316.5 397.20 315.4 397.32 315.6 397.44 315.8 397.56 317.5 397.68 317.4 397.80 315.3 397.92 317.3 398.04 315.3 398.16 315.7 398.28 316.1 398.40 315.3 398.52 316.7 398.64 314.2 398.76 312.1 398.88 314.3 399.00 311.9 399.12 311.5 399.24 309.1 399.36 311.9 399.48 311.2 399.60 310.6 399.72 310.3 399.84 310.6 399.96 308.1 400.08 308.4 400.20 305.5 400.32 304.9 400.44 305.4 400.56 303.7 400.68 300.8 400.80 301.6 400.92 300.0 401.04 298.3 401.16 298.7 401.28 296.7 401.40 294.7 401.52 294.6 401.64 297.1 401.76 292.8 401.88 294.1 402.00 293.8 402.12 293.2 402.24 290.5 402.36 291.4 402.48 292.4 402.60 293.6 402.72 292.5 402.84 292.4 402.96 295.2 403.08 295.8 403.20 295.5 403.32 294.9 403.44 296.5 403.56 296.7 403.68 298.0 403.80 296.2 403.92 298.2 404.04 298.4 404.16 297.9 404.28 299.8 404.40 300.1 404.52 300.1 404.64 301.5 404.76 300.0 404.88 302.0 405.00 303.1 405.12 303.3 405.24 304.1 405.36 301.5 405.48 301.0 405.60 302.9 405.72 303.0 405.84 304.6 405.96 303.0 406.08 301.3 406.20 303.0 406.32 301.1 406.44 300.3 406.56 304.0 406.68 302.1 406.80 302.4 406.92 302.2 407.04 303.5 407.16 301.8 407.28 302.8 407.40 300.4 407.52 300.0 407.64 303.1 407.76 303.1 407.88 302.1 408.00 301.7 408.12 301.7 408.24 300.7 408.36 303.2 408.48 302.2 408.60 302.2 408.72 302.3 408.84 303.2 408.96 302.8 409.08 303.3 409.20 301.4 409.32 303.4 409.44 305.3 409.56 302.7 409.68 303.3 409.80 304.6 409.92 304.9 410.04 304.8 410.16 302.6 410.28 305.3 410.40 303.8 410.52 304.5 410.64 306.3 410.76 305.7 410.88 307.2 411.00 308.9 411.12 307.8 411.24 308.1 411.36 306.6 411.48 307.2 411.60 307.0 411.72 307.9 411.84 307.5 411.96 308.2 412.08 309.0 412.20 308.3 412.32 308.1 412.44 308.4 412.56 310.7 412.68 310.5 412.80 311.8 412.92 312.1 413.04 310.8 413.16 312.1 413.28 310.1 413.40 314.1 413.52 313.5 413.64 312.1 413.76 311.3 413.88 313.1 414.00 310.9 414.12 312.2 414.24 314.1 414.36 313.6 414.48 313.1 414.60 314.9 414.72 312.9 414.84 314.5 414.96 313.8 415.08 313.7 415.20 315.3 415.32 313.9 415.44 317.2 415.56 314.7 415.68 317.7 415.80 314.5 415.92 316.5 416.04 314.7 416.16 314.6 416.28 316.4 416.40 317.0 416.52 315.0 416.64 317.8 416.76 315.7 416.88 316.8 417.00 317.2 417.12 317.5 417.24 314.9 417.36 318.8 417.48 317.7 417.60 316.7 417.72 316.1 417.84 315.5 417.96 316.0 418.08 318.1 418.20 317.3 418.32 316.5 418.44 317.2 418.56 319.6 418.68 317.6 418.80 317.4 418.92 319.5 419.04 318.6 419.16 318.1 419.28 317.4 419.40 316.4 419.52 316.9 419.64 317.6 419.76 317.9 419.88 318.6 420.00 318.8 420.12 318.5 420.24 318.5 420.36 317.2 420.48 316.1 420.60 317.7 420.72 317.3 420.84 317.6 420.96 318.1 421.08 317.0 421.20 317.2 421.32 318.3 421.44 318.6 421.56 317.8 421.68 319.0 421.80 318.3 421.92 317.4 422.04 318.6 422.16 320.6 422.28 317.9 422.40 319.9 422.52 320.2 422.64 320.3 422.76 317.8 422.88 320.9 423.00 318.8 423.12 318.5 423.24 318.5 423.36 319.4 423.48 318.9 423.60 318.6 423.72 320.2 423.84 318.1 423.96 317.7 424.08 319.8 424.20 319.7 424.32 320.1 424.44 317.8 424.56 320.2 424.68 319.5 424.80 320.9 424.92 317.6 425.04 319.2 425.16 318.6 425.28 317.1 425.40 318.1 425.52 320.0 425.64 318.3 425.76 318.0 425.88 319.7 426.00 319.8 426.12 319.8 426.24 317.8 426.36 318.5 426.48 319.7 426.60 317.8 426.72 317.7 426.84 319.4 426.96 320.2 427.08 317.2 427.20 316.2 427.32 316.8 427.44 317.2 427.56 318.2 427.68 319.0 427.80 318.1 427.92 317.5 428.04 318.4 428.16 317.1 428.28 318.1 428.40 317.4 428.52 320.3 428.64 319.0 428.76 317.1 428.88 316.9 429.00 317.5 429.12 316.2 429.24 317.1 429.36 317.1 429.48 318.9 429.60 317.4 429.72 317.0 429.84 316.3 429.96 316.5 430.08 317.7 430.20 317.5 430.32 318.9 430.44 317.0 430.56 318.8 430.68 317.9 430.80 317.6 430.92 315.3 431.04 316.1 431.16 318.3 431.28 319.0 431.40 317.7 431.52 318.2 431.64 316.9 431.76 316.9 431.88 316.6 432.00 318.4 432.12 317.6 432.24 317.0 432.36 316.8 432.48 317.8 432.60 317.5 432.72 316.2 432.84 319.0 432.96 317.5 433.08 317.3 433.20 319.0 433.32 318.6 433.44 317.5 433.56 318.3 433.68 316.6 433.80 317.2 433.92 315.8 434.04 319.4 434.16 316.1 434.28 319.0 434.40 317.5 434.52 317.4 434.64 318.4 434.76 319.0 434.88 319.4 435.00 320.8 435.12 319.4 435.24 320.0 435.36 318.5 435.48 320.0 435.60 319.5 435.72 318.9 435.84 319.4 435.96 319.6 436.08 320.0 436.20 320.3 436.32 319.4 436.44 319.2 436.56 320.9 436.68 318.4 436.80 319.6 436.92 322.1 437.04 318.2 437.16 319.7 437.28 321.2 437.40 318.6 437.52 322.6 437.64 318.2 437.76 322.0 437.88 322.2 438.00 321.5 438.12 320.2 438.24 320.9 438.36 319.5 438.48 321.4 438.60 319.3 438.72 320.2 438.84 321.6 438.96 319.3 439.08 320.1 439.20 320.7 439.32 319.1 439.44 321.8 439.56 320.9 439.68 318.9 439.80 320.5 439.92 319.7 440.04 319.9 440.16 320.7 440.28 319.8 440.40 321.7 440.52 319.8 440.64 321.7 440.76 320.6 440.88 321.6 441.00 320.0 441.12 320.1 441.24 319.4 441.36 321.3 441.48 321.7 441.60 322.9 441.72 322.1 441.84 321.0 441.96 320.5 442.08 321.1 442.20 320.7 442.32 322.3 442.44 321.8 442.56 319.8 442.68 320.0 442.80 322.2 442.92 321.1 443.04 320.5 443.16 322.1 443.28 320.3 443.40 320.5 443.52 320.3 443.64 318.6 443.76 321.7 443.88 319.5 444.00 320.2 444.12 320.0 444.24 321.6 444.36 320.8 444.48 320.9 444.60 319.0 444.72 320.8 444.84 319.2 444.96 321.2 445.08 321.3 445.20 320.9 445.32 323.1 445.44 321.5 445.56 321.6 445.68 321.1 445.80 320.7 445.92 322.0 446.04 322.1 446.16 319.5 446.28 322.1 446.40 321.5 446.52 322.0 446.64 321.5 446.76 319.6 446.88 319.7 447.00 323.0 447.12 321.3 447.24 319.4 447.36 321.4 447.48 320.6 447.60 319.0 447.72 318.8 447.84 319.3 447.96 321.3 448.08 321.0 448.20 320.8 448.32 321.4 448.44 321.7 448.56 318.9 448.68 320.8 448.80 320.2 448.92 319.7 449.04 320.5 449.16 321.0 449.28 320.8 449.40 319.5 449.52 320.6 449.64 323.3 449.76 320.0 449.88 319.3 450.00 321.5 450.12 321.8 450.24 321.7 450.36 319.9 450.48 322.3 450.60 320.3 450.72 319.9 450.84 320.5 450.96 321.0 451.08 321.9 451.20 321.8 451.32 321.0 451.44 322.0 451.56 321.1 451.68 321.9 451.80 319.4 451.92 319.2 452.04 321.7 452.16 319.3 452.28 320.5 452.40 320.7 452.52 320.2 452.64 320.2 452.76 322.2 452.88 318.5 453.00 321.6 453.12 322.8 453.24 320.6 453.36 320.5 453.48 321.3 453.60 322.5 453.72 319.2 453.84 320.5 453.96 320.2 454.08 321.0 454.20 320.5 454.32 321.0 454.44 319.8 454.56 320.3 454.68 319.5 454.80 319.5 454.92 320.0 455.04 320.0 455.16 318.8 455.28 321.8 455.40 319.9 455.52 318.5 455.64 321.2 455.76 319.1 455.88 320.5 456.00 319.9 456.12 320.1 456.24 320.0 456.36 319.2 456.48 319.8 456.60 321.9 456.72 317.5 456.84 319.8 456.96 320.1 457.08 318.5 457.20 318.1 457.32 321.7 457.44 319.0 457.56 321.5 457.68 319.8 457.80 319.2 457.92 319.5 458.04 319.6 458.16 320.1 458.28 319.2 458.40 318.7 458.52 318.7 458.64 319.9 458.76 319.2 458.88 317.1 459.00 317.4 459.12 318.3 459.24 317.2 459.36 317.4 459.48 316.6 459.60 317.3 459.72 317.9 459.84 318.5 459.96 317.3 460.08 319.4 460.20 317.0 460.32 319.2 460.44 318.0 460.56 317.4 460.68 316.3 460.80 314.7 460.92 316.8 461.04 317.2 461.16 319.2 461.28 315.6 461.40 319.3 461.52 317.0 461.64 318.1 461.76 315.2 461.88 317.6 462.00 317.1 462.12 318.3 462.24 317.7 462.36 316.4 462.48 318.7 462.60 318.5 462.72 318.4 462.84 318.9 462.96 319.1 463.08 317.9 463.20 316.5 463.32 316.5 463.44 319.6 463.56 318.9 463.68 318.3 463.80 317.8 463.92 318.4 464.04 318.4 464.16 318.1 464.28 317.7 464.40 320.7 464.52 318.8 464.64 318.0 464.76 317.3 464.88 317.9 465.00 319.6 465.12 319.6 465.24 318.6 465.36 318.9 465.48 318.5 465.60 317.6 465.72 320.3 465.84 319.3 465.96 321.1 466.08 318.0 466.20 318.7 466.32 319.9 466.44 318.6 466.56 317.4 466.68 317.9 466.80 319.0 466.92 319.3 467.04 318.8 467.16 320.1 467.28 320.1 467.40 319.3 467.52 319.0 467.64 318.7 467.76 319.6 467.88 320.0 468.00 319.1 468.12 319.5 468.24 318.7 468.36 317.5 468.48 318.0 468.60 319.9 468.72 319.6 468.84 320.8 468.96 319.1 469.08 320.0 469.20 320.6 469.32 320.2 469.44 318.5 469.56 318.9 469.68 319.3 469.80 318.1 469.92 319.7 470.04 320.3 470.16 318.6 470.28 321.4 470.40 318.9 470.52 319.0 470.64 318.9 470.76 318.4 470.88 319.7 471.00 319.3 471.12 321.1 471.24 319.9 471.36 319.9 471.48 319.0 471.60 317.7 471.72 319.2 471.84 318.4 471.96 320.3 472.08 319.3 472.20 321.1 472.32 320.1 472.44 320.2 472.56 319.5 472.68 319.5 472.80 320.0 472.92 320.3 473.04 318.5 473.16 319.8 473.28 321.4 473.40 319.1 473.52 319.0 473.64 318.5 473.76 317.6 473.88 320.5 474.00 319.3 474.12 319.5 474.24 321.2 474.36 321.4 474.48 318.2 474.60 320.4 474.72 319.9 474.84 319.6 474.96 319.7 475.08 319.2 475.20 320.9 475.32 319.8 475.44 319.5 475.56 320.5 475.68 320.1 475.80 319.7 475.92 319.5 476.04 321.1 476.16 319.7 476.28 319.0 476.40 318.2 476.52 318.8 476.64 318.0 476.76 319.2 476.88 319.4 477.00 316.9 477.12 319.1 477.24 319.8 477.36 319.3 477.48 318.0 477.60 320.5 477.72 318.3 477.84 317.7 477.96 317.9 478.08 319.1 478.20 320.1 478.32 320.3 478.44 319.3 478.56 317.7 478.68 318.3 478.80 318.1 478.92 318.8 479.04 317.1 479.16 319.2 479.28 319.7 479.40 318.9 479.52 319.5 479.64 318.0 479.76 317.4 479.88 318.3 480.00 320.3 480.12 320.1 480.24 318.5 480.36 320.3 480.48 318.6 480.60 320.6 480.72 319.5 480.84 318.5 480.96 319.8 481.08 318.1 481.20 317.9 481.32 317.3 481.44 319.2 481.56 318.9 481.68 318.8 481.80 318.5 481.92 320.5 482.04 318.5 482.16 318.1 482.28 320.3 482.40 320.5 482.52 319.3 482.64 317.0 482.76 318.3 482.88 319.6 483.00 319.0 483.12 320.7 483.24 317.5 483.36 319.7 483.48 318.3 483.60 320.5 483.72 318.9 483.84 320.2 483.96 318.3 484.08 317.5 484.20 317.9 484.32 318.4 484.44 318.0 484.56 320.4 484.68 320.6 484.80 319.4 484.92 318.0 485.04 319.0 485.16 318.4 485.28 320.8 485.40 319.6 485.52 319.8 485.64 318.8 485.76 317.0 485.88 318.4 486.00 318.0 486.12 319.7 486.24 319.4 486.36 318.4 486.48 318.9 486.60 321.1 486.72 318.3 486.84 318.4 486.96 319.1 487.08 318.6 487.20 318.9 487.32 320.0 487.44 321.3 487.56 317.5 487.68 319.4 487.80 319.5 487.92 319.4 488.04 319.3 488.16 319.1 488.28 320.6 488.40 319.0 488.52 319.4 488.64 319.6 488.76 319.7 488.88 319.4 489.00 320.7 489.12 319.6 489.24 319.8 489.36 319.6 489.48 318.5 489.60 318.7 489.72 318.5 489.84 319.9 489.96 318.9 490.08 318.5 490.20 320.0 490.32 320.3 490.44 317.8 490.56 321.6 490.68 319.8 490.80 319.7 490.92 321.0 491.04 319.9 491.16 319.2 491.28 322.0 491.40 318.7 491.52 319.8 491.64 320.8 491.76 318.7 491.88 319.8 492.00 320.3 492.12 322.1 492.24 319.0 492.36 319.9 492.48 320.7 492.60 320.1 492.72 318.7 492.84 320.4 492.96 320.1 493.08 320.5 493.20 321.3 493.32 321.2 493.44 320.5 493.56 320.4 493.68 318.9 493.80 320.0 493.92 320.4 494.04 319.7 494.16 320.2 494.28 319.2 494.40 321.9 494.52 322.4 494.64 319.8 494.76 320.6 494.88 320.0 495.00 321.6 495.12 320.7 495.24 320.3 495.36 320.0 495.48 320.4 495.60 319.2 495.72 321.0 495.84 319.5 495.96 320.9 496.08 320.5 496.20 321.6 496.32 320.4 496.44 321.5 496.56 319.4 496.68 321.1 496.80 320.2 496.92 320.6 497.04 320.5 497.16 321.5 497.28 318.3 497.40 320.8 497.52 318.9 497.64 321.8 497.76 318.4 497.88 319.4 498.00 318.7 498.12 322.4 498.24 319.2 498.36 320.7 498.48 320.0 498.60 318.6 498.72 320.3 498.84 321.4 498.96 320.4 499.08 321.7 499.20 320.3 499.32 320.7 499.44 320.3 499.56 321.1 499.68 322.8 499.80 321.1 499.92 321.0 500.04 320.1 500.16 319.9 500.28 322.4 500.40 319.6 500.52 319.8 500.64 320.7 500.76 320.4 500.88 323.0 501.00 318.7 501.12 321.3 501.24 321.7 501.36 319.7 501.48 320.2 501.60 321.4 501.72 322.7 501.84 319.9 501.96 319.2 502.08 322.1 502.20 322.7 502.32 320.6 502.44 318.8 502.56 322.6 502.68 320.8 502.80 322.3 502.92 321.0 503.04 320.7 503.16 320.6 503.28 322.7 503.40 322.7 503.52 318.9 503.64 320.1 503.76 323.1 503.88 320.7 504.00 319.6 504.12 321.1 504.24 321.0 504.36 321.0 504.48 320.6 504.60 320.8 504.72 320.6 504.84 321.5 504.96 320.3 505.08 320.8 505.20 321.0 505.32 322.6 505.44 321.6 505.56 321.1 505.68 321.8 505.80 321.6 505.92 322.4 506.04 321.7 506.16 323.2 506.28 322.7 506.40 321.2 506.52 320.7 506.64 322.2 506.76 321.8 506.88 321.1 507.00 319.6 507.12 319.2 507.24 321.6 507.36 322.1 507.48 322.1 507.60 319.8 507.72 322.4 507.84 320.7 507.96 321.7 508.08 321.7 508.20 320.4 508.32 320.6 508.44 319.1 508.56 320.3 508.68 319.3 508.80 321.8 508.92 321.3 509.04 322.3 509.16 321.7 509.28 320.6 509.40 321.7 509.52 320.9 509.64 322.0 509.76 321.6 509.88 320.2 510.00 321.3 510.12 321.4 510.24 321.0 510.36 322.3 510.48 323.2 510.60 320.9 510.72 320.9 510.84 319.1 510.96 321.2 511.08 320.9 511.20 319.1 511.32 321.7 511.44 322.0 511.56 320.5 511.68 320.9 511.80 320.3 511.92 322.2 512.04 319.7 512.16 321.0 512.28 323.5 512.40 321.4 512.52 321.9 512.64 321.2 512.76 320.1 512.88 321.4 513.00 321.8 513.12 320.3 513.24 321.8 513.36 322.8 513.48 322.6 513.60 319.7 513.72 320.3 513.84 319.7 513.96 322.6 514.08 322.1 514.20 322.2 514.32 320.5 514.44 320.2 514.56 321.5 514.68 321.6 514.80 320.5 514.92 321.6 515.04 322.2 515.16 321.7 515.28 320.3 515.40 319.3 515.52 321.2 515.64 321.7 515.76 321.2 515.88 321.0 516.00 320.7 516.12 322.3 516.24 321.4 516.36 321.6 516.48 320.4 516.60 320.8 516.72 321.7 516.84 320.4 516.96 320.1 517.08 321.2 517.20 322.8 517.32 321.7 517.44 323.1 517.56 321.4 517.68 321.2 517.80 320.0 517.92 320.9 518.04 323.1 518.16 321.9 518.28 322.4 518.40 322.3 518.52 321.6 518.64 321.3 518.76 321.7 518.88 322.3 519.00 322.1 519.12 322.1 519.24 321.8 519.36 320.7 519.48 321.3 519.60 320.6 519.72 322.7 519.84 319.4 519.96 321.4 520.08 323.8 520.20 321.2 520.32 320.4 520.44 321.6 520.56 323.0 520.68 321.5 520.80 322.3 520.92 321.8 521.04 321.2 521.16 323.8 521.28 321.7 521.40 321.1 521.52 321.1 521.64 322.1 521.76 322.1 521.88 322.5 522.00 321.8 522.12 320.1 522.24 322.3 522.36 321.3 522.48 321.4 522.60 320.1 522.72 321.1 522.84 320.9 522.96 321.7 523.08 320.1 523.20 321.8 523.32 321.9 523.44 320.5 523.56 321.0 523.68 320.8 523.80 322.7 523.92 319.5 524.04 321.4 524.16 319.9 524.28 321.3 524.40 322.7 524.52 321.1 524.64 321.9 524.76 320.8 524.88 323.9 525.00 322.8 525.12 323.0 525.24 320.3 525.36 320.6 525.48 323.0 525.60 321.6 525.72 321.5 525.84 322.2 525.96 320.4 526.08 322.6 526.20 321.8 526.32 322.3 526.44 321.1 526.56 322.4 526.68 321.0 526.80 322.9 526.92 323.1 527.04 322.8 527.16 322.4 527.28 322.5 527.40 319.6 527.52 322.8 527.64 321.5 527.76 322.0 527.88 321.5 528.00 320.3 528.12 321.3 528.24 322.6 528.36 323.4 528.48 321.2 528.60 320.9 528.72 323.5 528.84 320.9 528.96 324.1 529.08 321.9 529.20 320.9 529.32 323.0 529.44 323.8 529.56 320.3 529.68 323.6 529.80 321.6 529.92 323.5 530.04 321.5 530.16 320.2 530.28 322.5 530.40 322.9 530.52 324.1 530.64 323.8 530.76 322.7 530.88 321.7 531.00 321.4 531.12 321.6 531.24 321.0 531.36 321.7 531.48 319.8 531.60 322.2 531.72 321.9 531.84 324.2 531.96 322.8 532.08 321.5 532.20 322.6 532.32 320.6 532.44 321.3 532.56 319.9 532.68 323.6 532.80 322.7 532.92 320.7 533.04 321.9 533.16 323.1 533.28 322.6 533.40 322.4 533.52 321.1 533.64 321.3 533.76 322.1 533.88 323.0 534.00 321.1 534.12 320.8 534.24 323.3 534.36 321.0 534.48 323.2 534.60 322.3 534.72 323.0 534.84 324.0 534.96 322.8 535.08 322.9 535.20 321.1 535.32 321.3 535.44 322.8 535.56 323.8 535.68 323.6 535.80 324.3 535.92 322.4" stroke="#000000" />
<path d="M90.00 287.9 90.12 288.1 90.24 287.8 90.36 287.8 90.48 287.5 90.60 288.1 90.72 287.5 90.84 288.0 90.96 287.4 91.08 288.2 91.20 287.5 91.32 288.1 91.44 287.3 91.56 287.7 91.68 288.2 91.80 287.6 91.92 287.8 92.04 287.7 92.16 287.1 92.28 287.9 92.40 287.9 92.52 287.5 92.64 288.0 92.76 287.6 92.88 287.5 93.00 287.8 93.12 287.6 93.24 288.5 93.36 287.3 93.48 288.0 93.60 288.1 93.72 287.2 93.84 287.3 93.96 288.0 94.08 287.7 94.20 287.9 94.32 288.1 94.44 287.7 94.56 287.5 94.68 287.0 94.80 287.9 94.92 287.5 95.04 287.9 95.16 287.9 95.28 287.4 95.40 288.3 95.52 288.1 95.64 288.1 95.76 287.4 95.88 287.7 96.00 287.6 96.12 287.7 96.24 287.5 96.36 287.9 96.48 287.9 96.60 287.9 96.72 287.6 96.84 288.2 96.96 287.8 97.08 287.0 97.20 287.6 97.32 287.8 97.44 288.1 97.56 287.7 97.68 287.7 97.80 287.6 97.92 288.0 98.04 287.6 98.16 287.6 98.28 287.6 98.40 287.9 98.52 287.6 98.64 287.3 98.76 288.0 98.88 287.6 99.00 287.9 99.12 287.9 99.24 288.1 99.36 288.1 99.48 287.6 99.60 287.7 99.72 287.4 99.84 288.3 99.96 287.9 100.08 288.2 100.20 287.7 100.32 287.1 100.44 288.2 100.56 287.8 100.68 287.8 100.80 287.8 100.92 287.9 101.04 287.9 101.16 287.3 101.28 288.1 101.40 287.6 101.52 287.6 101.64 288.3 101.76 288.0 101.88 287.6 102.00 287.4 102.12 286.6 102.24 285.4 102.36 283.8 102.48 282.0 102.60 280.0 102.72 279.3 102.84 281.0 102.96 281.6 103.08 281.7 103.20 279.5 103.32 280.5 103.44 280.8 103.56 279.3 103.68 279.7 103.80 282.2 103.92 279.8 104.04 280.6 104.16 278.9 104.28 279.4 104.40 277.1 104.52 279.1 104.64 280.5 104.76 281.5 104.88 280.4 105.00 279.7 105.12 278.8 105.24 278.0 105.36 278.4 105.48 279.3 105.60 277.5 105.72 279.5 105.84 277.1 105.96 276.0 106.08 276.9 106.20 276.0 106.32 276.3 106.44 279.3 106.56 277.6 106.68 278.0 106.80 279.1 106.92 279.1 107.04 276.9 107.16 279.0 107.28 277.8 107.40 277.3 107.52 277.7 107.64 275.3 107.76 276.0 107.88 276.8 108.00 277.6 108.12 276.3 108.24 276.5 108.36 277.8 108.48 278.2 108.60 277.3 108.72 277.8 108.84 275.6 108.96 275.5 109.08 276.1 109.20 275.2 109.32 274.8 109.44 277.3 109.56 274.8 109.68 273.7 109.80 275.4 109.92 276.8 110.04 274.5 110.16 275.5 110.28 273.1 110.40 272.7 110.52 272.1 110.64 272.4 110.76 274.4 110.88 270.4 111.00 273.4 111.12 269.8 111.24 270.4 111.36 271.4 111.48 271.0 111.60 270.4 111.72 267.8 111.84 270.1 111.96 268.2 112.08 271.7 112.20 268.8 112.32 269.2 112.44 267.4 112.56 268.4 112.68 267.5 112.80 270.3 112.92 268.9 113.04 270.0 113.16 268.6 113.28 268.9 113.40 271.2 113.52 268.6 113.64 267.7 113.76 270.4 113.88 268.7 114.00 269.6 114.12 271.4 114.24 269.4 114.36 271.5 114.48 269.7 114.60 272.5 114.72 272.4 114.84 270.3 114.96 270.7 115.08 270.0 115.20 271.4 115.32 272.6 115.44 269.5 115.56 272.5 115.68 269.8 115.80 270.5 115.92 269.4 116.04 274.1 116.16 271.8 116.28 272.1 116.40 271.1 116.52 273.3 116.64 269.7 116.76 272.2 116.88 274.7 117.00 271.9 117.12 272.4 117.24 273.3 117.36 271.6 117.48 272.7 117.60 273.9 117.72 273.0 117.84 273.3 117.96 272.5 118.08 273.4 118.20 273.2 118.32 275.0 118.44 274.2 118.56 273.1 118.68 271.0 118.80 274.4 118.92 274.5 119.04 272.6 119.16 271.3 119.28 272.5 119.40 275.0 119.52 272.7 119.64 273.5 119.76 274.4 119.88 275.7 120.00 274.3 120.12 274.2 120.24 273.8 120.36 276.4 120.48 275.8 120.60 274.5 120.72 273.0 120.84 273.8 120.96 275.5 121.08 274.0 121.20 276.0 121.32 275.4 121.44 275.4 121.56 275.9 121.68 275.7 121.80 274.2 121.92 274.9 122.04 277.7 122.16 274.0 122.28 274.9 122.40 276.8 122.52 275.4 122.64 274.7 122.76 274.1 122.88 276.4 123.00 277.0 123.12 277.5 123.24 276.0 123.36 277.2 123.48 274.8 123.60 276.3 123.72 275.4 123.84 276.4 123.96 277.2 124.08 277.6 124.20 275.2 124.32 278.0 124.44 276.0 124.56 275.4 124.68 276.4 124.80 275.0 124.92 276.8 125.04 277.1 125.16 276.6 125.28 277.5 125.40 276.5 125.52 276.8 125.64 275.2 125.76 276.9 125.88 275.9 126.00 276.3 126.12 276.8 126.24 277.1 126.36 275.0 126.48 275.1 126.60 276.6 126.72 277.5 126.84 277.4 126.96 278.0 127.08 278.5 127.20 277.5 127.32 276.9 127.44 275.8 127.56 275.9 127.68 276.4 127.80 277.3 127.92 277.2 128.04 277.0 128.16 276.8 128.28 277.7 128.40 277.3 128.52 277.4 128.64 277.4 128.76 276.4 128.88 275.8 129.00 277.6 129.12 277.5 129.24 276.8 129.36 276.6 129.48 279.4 129.60 276.2 129.72 276.8 129.84 277.4 129.96 275.7 130.08 277.2 130.20 279.1 130.32 278.1 130.44 277.8 130.56 277.8 130.68 277.2 130.80 278.2 130.92 276.9 131.04 276.6 131.16 277.2 131.28 278.1 131.40 277.5 131.52 277.8 131.64 274.8 131.76 278.4 131.88 279.3 132.00 278.6 132.12 276.7 132.24 276.1 132.36 277.4 132.48 275.9 132.60 277.9 132.72 276.5 132.84 278.1 132.96 278.6 133.08 274.8 133.20 277.4 133.32 276.2 133.44 275.4 133.56 276.3 133.68 276.8 133.80 278.2 133.92 275.4 134.04 278.2 134.16 279.3 134.28 277.8 134.40 277.7 134.52 277.1 134.64 275.9 134.76 277.7 134.88 277.6 135.00 278.0 135.12 279.4 135.24 278.0 135.36 277.7 135.48 278.9 135.60 275.8 135.72 276.0 135.84 276.8 135.96 276.5 136.08 278.0 136.20 276.9 136.32 279.1 136.44 278.9 136.56 278.1 136.68 276.8 136.80 277.9 136.92 278.1 137.04 276.1 137.16 277.6 137.28 278.0 137.40 277.4 137.52 278.8 137.64 278.4 137.76 276.3 137.88 277.3 138.00 276.3 138.12 277.7 138.24 276.2 138.36 278.0 138.48 277.5 138.60 278.0 138.72 276.9 138.84 275.5 138.96 278.7 139.08 276.8 139.20 278.3 139.32 277.3 139.44 277.5 139.56 278.6 139.68 277.1 139.80 278.0 139.92 275.2 140.04 277.4 140.16 276.3 140.28 276.3 140.40 276.4 140.52 276.7 140.64 277.8 140.76 274.4 140.88 275.9 141.00 275.1 141.12 276.6 141.24 274.9 141.36 275.5 141.48 274.6 141.60 275.3 141.72 275.4 141.84 273.9 141.96 274.1 142.08 272.6 142.20 273.9 142.32 274.1 142.44 272.6 142.56 273.8 142.68 270.9 142.80 270.8 142.92 270.9 143.04 271.3 143.16 271.4 143.28 271.0 143.40 270.7 143.52 271.0 143.64 269.7 143.76 268.8 143.88 268.4 144.00 270.4 144.12 267.1 144.24 268.0 144.36 268.7 144.48 267.5 144.60 266.1 144.72 266.2 144.84 266.2 144.96 265.9 145.08 264.0 145.20 264.4 145.32 263.4 145.44 263.2 145.56 262.7 145.68 260.9 145.80 259.5 145.92 259.7 146.04 259.5 146.16 257.9 146.28 256.6 146.40 256.4 146.52 253.7 146.64 253.4 146.76 251.3 146.88 250.1 147.00 248.6 147.12 247.4 147.24 244.6 147.36 242.7 147.48 240.2 147.60 238.5 147.72 235.6 147.84 233.1 147.96 229.6 148.08 226.5 148.20 223.3 148.32 219.1 148.44 215.1 148.56 210.6 148.68 205.5 148.80 200.0 148.92 194.9 149.04 188.7 149.16 182.4 149.28 175.1 149.40 168.0 149.52 160.4 149.64 152.6 149.76 144.7 149.88 136.3 150.00 127.7 150.12 119.4 150.24 111.3 150.36 103.4 150.48 96.3 150.60 90.0 150.72 84.5 150.84 80.6 150.96 78.2 151.08 77.0 151.20 77.6 151.32 79.7 151.44 83.3 151.56 88.4 151.68 94.3 151.80 101.2 151.92 108.7 152.04 116.9 152.16 125.1 152.28 133.6 152.40 142.3 152.52 150.5 152.64 158.1 152.76 166.1 152.88 173.4 153.00 180.1 153.12 186.9 153.24 192.5 153.36 198.3 153.48 203.6 153.60 208.6 153.72 213.7 153.84 217.4 153.96 221.4 154.08 225.1 154.20 228.7 154.32 231.7 154.44 234.9 154.56 237.0 154.68 239.2 154.80 241.7 154.92 243.9 155.04 245.4 155.16 247.6 155.28 249.9 155.40 250.3 155.52 252.0 155.64 253.9 155.76 254.1 155.88 255.1 156.00 256.0 156.12 257.7 156.24 258.6 156.36 259.1 156.48 260.0 156.60 261.5 156.72 261.9 156.84 261.2 156.96 262.7 157.08 263.4 157.20 264.3 157.32 264.2 157.44 264.4 157.56 265.0 157.68 264.6 157.80 266.2 157.92 266.2 158.04 267.4 158.16 266.7 158.28 267.5 158.40 267.4 158.52 267.7 158.64 269.3 158.76 268.7 158.88 269.7 159.00 268.8 159.12 270.0 159.24 268.9 159.36 270.1 159.48 270.3 159.60 271.4 159.72 271.3 159.84 271.2 159.96 272.3 160.08 272.0 160.20 272.4 160.32 272.8 160.44 272.3 160.56 272.3 160.68 273.0 160.80 272.5 160.92 273.4 161.04 274.2 161.16 274.1 161.28 273.2 161.40 272.5 161.52 273.7 161.64 273.8 161.76 275.1 161.88 273.8 162.00 274.1 162.12 275.1 162.24 274.1 162.36 274.5 162.48 276.4 162.60 276.3 162.72 275.6 162.84 275.4 162.96 274.3 163.08 275.9 163.20 275.5 163.32 275.7 163.44 275.1 163.56 275.7 163.68 275.6 163.80 276.2 163.92 277.4 164.04 276.4 164.16 274.5 164.28 275.2 164.40 274.7 164.52 275.6 164.64 277.0 164.76 276.9 164.88 276.0 165.00 277.0 165.12 276.0 165.24 275.3 165.36 275.4 165.48 276.1 165.60 278.5 165.72 275.7 165.84 278.5 165.96 278.6 166.08 277.1 166.20 277.3 166.32 276.7 166.44 277.3 166.56 278.1 166.68 277.4 166.80 278.5 166.92 278.8 167.04 277.9 167.16 277.9 167.28 277.5 167.40 278.0 167.52 276.4 167.64 278.1 167.76 277.9 167.88 276.8 168.00 280.0 168.12 276.7 168.24 276.8 168.36 278.1 168.48 275.7 168.60 277.0 168.72 276.2 168.84 276.8 168.96 277.7 169.08 278.3 169.20 279.1 169.32 278.8 169.44 279.3 169.56 278.6 169.68 277.5 169.80 279.2 169.92 277.5 170.04 277.3 170.16 279.8 170.28 278.9 170.40 278.3 170.52 278.9 170.64 279.1 170.76 276.6 170.88 278.0 171.00 276.8 171.12 278.3 171.24 277.4 171.36 279.7 171.48 278.8 171.60 277.3 171.72 278.2 171.84 276.8 171.96 278.3 172.08 278.8 172.20 278.5 172.32 276.0 172.44 277.9 172.56 278.8 172.68 278.6 172.80 279.6 172.92 276.8 173.04 278.9 173.16 277.5 173.28 278.5 173.40 278.8 173.52 279.1 173.64 277.6 173.76 278.5 173.88 277.0 174.00 276.7 174.12 279.0 174.24 278.3 174.36 276.5 174.48 277.4 174.60 278.4 174.72 280.2 174.84 279.6 174.96 279.3 175.08 276.3 175.20 278.3 175.32 278.9 175.44 278.8 175.56 278.9 175.68 278.1 175.80 280.4 175.92 280.1 176.04 278.3 176.16 277.3 176.28 280.8 176.40 277.8 176.52 279.8 176.64 280.6 176.76 277.3 176.88 278.8 177.00 278.0 177.12 279.0 177.24 278.8 177.36 280.7 177.48 279.1 177.60 278.4 177.72 279.7 177.84 278.1 177.96 278.0 178.08 280.8 178.20 277.5 178.32 277.9 178.44 278.5 178.56 277.2 178.68 276.1 178.80 279.7 178.92 277.5 179.04 277.8 179.16 278.0 179.28 277.3 179.40 277.2 179.52 278.6 179.64 280.9 179.76 279.3 179.88 279.3 180.00 276.6 180.12 278.4 180.24 277.0 180.36 279.3 180.48 278.1 180.60 278.5 180.72 278.3 180.84 277.7 180.96 276.6 181.08 279.1 181.20 276.8 181.32 277.0 181.44 278.1 181.56 277.6 181.68 278.7 181.80 279.6 181.92 278.7 182.04 278.6 182.16 278.4 182.28 279.4 182.40 276.2 182.52 278.8 182.64 277.3 182.76 276.9 182.88 278.4 183.00 277.9 183.12 279.1 183.24 279.7 183.36 276.1 183.48 278.3 183.60 280.7 183.72 279.4 183.84 280.1 183.96 278.5 184.08 276.6 184.20 277.0 184.32 279.2 184.44 279.5 184.56 277.5 184.68 278.0 184.80 278.6 184.92 276.2 185.04 277.9 185.16 280.2 185.28 280.7 185.40 278.2 185.52 280.5 185.64 277.7 185.76 277.3 185.88 276.0 186.00 279.4 186.12 277.8 186.24 280.7 186.36 278.7 186.48 278.5 186.60 276.1 186.72 280.0 186.84 277.8 186.96 278.0 187.08 275.9 187.20 279.3 187.32 279.4 187.44 277.5 187.56 278.3 187.68 278.7 187.80 279.3 187.92 278.3 188.04 280.2 188.16 277.9 188.28 277.4 188.40 277.6 188.52 275.9 188.64 277.2 188.76 279.3 188.88 278.4 189.00 277.2 189.12 278.6 189.24 275.8 189.36 277.8 189.48 278.8 189.60 279.0 189.72 277.3 189.84 279.3 189.96 280.4 190.08 277.7 190.20 279.1 190.32 276.4 190.44 275.9 190.56 278.9 190.68 278.3 190.80 278.5 190.92 277.5 191.04 277.9 191.16 279.2 191.28 280.3 191.40 278.0 191.52 276.3 191.64 279.8 191.76 279.0 191.88 279.1 192.00 278.5 192.12 280.7 192.24 278.4 192.36 278.9 192.48 276.1 192.60 277.6 192.72 277.5 192.84 278.3 192.96 278.7 193.08 277.4 193.20 280.3 193.32 277.1 193.44 277.8 193.56 278.6 193.68 276.8 193.80 279.0 193.92 279.1 194.04 278.0 194.16 280.5 194.28 278.4 194.40 278.6 194.52 277.2 194.64 276.4 194.76 277.6 194.88 277.9 195.00 277.8 195.12 279.2 195.24 276.0 195.36 277.0 195.48 276.2 195.60 279.8 195.72 277.6 195.84 277.7 195.96 277.0 196.08 279.3 196.20 277.8 196.32 278.5 196.44 276.0 196.56 279.6 196.68 278.7 196.80 278.9 196.92 279.6 197.04 278.0 197.16 278.0 197.28 279.0 197.40 278.7 197.52 277.9 197.64 278.2 197.76 277.6 197.88 278.9 198.00 279.2 198.12 278.1 198.24 280.2 198.36 276.3 198.48 277.8 198.60 280.0 198.72 277.5 198.84 276.2 198.96 279.6 199.08 278.6 199.20 276.6 199.32 278.8 199.44 276.8 199.56 276.4 199.68 277.7 199.80 277.3 199.92 276.6 200.04 277.4 200.16 276.6 200.28 277.8 200.40 277.6 200.52 278.4 200.64 277.1 200.76 276.1 200.88 276.1 201.00 277.2 201.12 279.0 201.24 278.1 201.36 276.3 201.48 277.9 201.60 275.5 201.72 277.7 201.84 276.0 201.96 277.1 202.08 276.8 202.20 275.7 202.32 276.1 202.44 274.5 202.56 275.4 202.68 276.4 202.80 277.2 202.92 275.6 203.04 274.8 203.16 273.5 203.28 275.4 203.40 272.5 203.52 273.1 203.64 274.0 203.76 272.3 203.88 274.7 204.00 274.0 204.12 272.2 204.24 271.9 204.36 270.9 204.48 270.6 204.60 271.9 204.72 271.8 204.84 271.2 204.96 270.7 205.08 269.7 205.20 270.2 205.32 268.3 205.44 269.2 205.56 269.9 205.68 269.4 205.80 267.5 205.92 267.1 206.04 267.8 206.16 267.4 206.28 264.4 206.40 264.5 206.52 264.1 206.64 263.9 206.76 261.6 206.88 261.5 207.00 259.9 207.12 260.0 207.24 257.8 207.36 256.1 207.48 254.5 207.60 253.5 207.72 251.6 207.84 248.9 207.96 247.5 208.08 244.8 208.20 242.8 208.32 240.3 208.44 237.9 208.56 235.6 208.68 233.0 208.80 230.8 208.92 228.3 209.04 225.4 209.16 222.7 209.28 220.8 209.40 218.0 209.52 216.1 209.64 215.3 209.76 214.1 209.88 213.5 210.00 212.9 210.12 212.9 210.24 213.8 210.36 215.2 210.48 216.4 210.60 218.3 210.72 220.3 210.84 222.7 210.96 225.7 211.08 228.2 211.20 230.3 211.32 232.9 211.44 235.7 211.56 238.6 211.68 240.4 211.80 243.1 211.92 244.6 212.04 246.9 212.16 249.7 212.28 251.8 212.40 252.6 212.52 254.5 212.64 256.8 212.76 257.6 212.88 258.9 213.00 260.7 213.12 261.7 213.24 263.4 213.36 264.2 213.48 264.2 213.60 265.3 213.72 266.1 213.84 265.9 213.96 266.8 214.08 268.9 214.20 267.5 214.32 270.0 214.44 269.9 214.56 270.1 214.68 271.0 214.80 271.4 214.92 272.4 215.04 271.4 215.16 271.8 215.28 272.1 215.40 274.3 215.52 273.8 215.64 272.3 215.76 273.1 215.88 273.0 216.00 273.9 216.12 274.3 216.24 276.3 216.36 272.7 216.48 275.7 216.60 275.3 216.72 274.3 216.84 275.1 216.96 274.9 217.08 275.6 217.20 276.7 217.32 274.3 217.44 277.3 217.56 275.7 217.68 277.8 217.80 276.8 217.92 277.8 218.04 277.2 218.16 277.9 218.28 276.9 218.40 276.1 218.52 277.8 218.64 278.0 218.76 279.5 218.88 275.3 219.00 277.3 219.12 278.8 219.24 276.4 219.36 277.6 219.48 280.2 219.60 279.6 219.72 277.1 219.84 279.7 219.96 279.4 220.08 279.0 220.20 278.6 220.32 278.5 220.44 277.3 220.56 277.7 220.68 279.1 220.80 278.5 220.92 280.4 221.04 278.0 221.16 276.2 221.28 278.1 221.40 278.8 221.52 278.9 221.64 278.6 221.76 277.6 221.88 280.3 222.00 277.8 222.12 279.4 222.24 278.3 222.36 277.2 222.48 280.3 222.60 276.4 222.72 277.7 222.84 279.2 222.96 278.3 223.08 279.6 223.20 278.6 223.32 278.2 223.44 281.1 223.56 278.5 223.68 278.6 223.80 277.5 223.92 277.9 224.04 279.6 224.16 279.5 224.28 278.8 224.40 278.0 224.52 279.6 224.64 276.8 224.76 278.4 224.88 278.6 225.00 277.9 225.12 279.0 225.24 278.1 225.36 277.9 225.48 281.0 225.60 279.8 225.72 280.3 225.84 279.0 225.96 280.1 226.08 279.8 226.20 280.4 226.32 281.3 226.44 278.7 226.56 279.2 226.68 278.9 226.80 276.6 226.92 277.3 227.04 279.0 227.16 279.7 227.28 278.3 227.40 280.3 227.52 280.5 227.64 278.5 227.76 280.7 227.88 281.1 228.00 279.5 228.12 277.8 228.24 280.7 228.36 278.8 228.48 278.5 228.60 279.1 228.72 278.3 228.84 280.3 228.96 279.9 229.08 280.4 229.20 279.7 229.32 278.0 229.44 278.8 229.56 280.0 229.68 278.5 229.80 281.4 229.92 278.7 230.04 278.3 230.16 280.4 230.28 279.9 230.40 278.9 230.52 278.7 230.64 279.5 230.76 280.0 230.88 279.9 231.00 278.6 231.12 279.5 231.24 280.0 231.36 279.9 231.48 276.5 231.60 277.9 231.72 278.0 231.84 278.7 231.96 279.2 232.08 280.1 232.20 279.7 232.32 278.8 232.44 279.0 232.56 281.1 232.68 278.2 232.80 279.3 232.92 280.8 233.04 279.4 233.16 276.5 233.28 279.4 233.40 278.5 233.52 278.8 233.64 280.2 233.76 279.5 233.88 278.6 234.00 280.0 234.12 279.4 234.24 279.0 234.36 279.3 234.48 279.2 234.60 278.5 234.72 278.3 234.84 278.9 234.96 277.7 235.08 277.3 235.20 280.5 235.32 278.6 235.44 278.8 235.56 278.7 235.68 278.9 235.80 278.9 235.92 278.9 236.04 277.9 236.16 280.0 236.28 278.0 236.40 280.1 236.52 276.5 236.64 277.5 236.76 280.0 236.88 278.6 237.00 278.0 237.12 279.3 237.24 277.5 237.36 278.9 237.48 276.4 237.60 278.2 237.72 278.0 237.84 279.5 237.96 279.9 238.08 277.8 238.20 280.8 238.32 278.1 238.44 276.4 238.56 276.4 238.68 280.8 238.80 278.8 238.92 278.1 239.04 278.0 239.16 277.6 239.28 280.6 239.40 278.8 239.52 281.1 239.64 278.7 239.76 276.5 239.88 280.0 240.00 278.5 240.12 278.7 240.24 280.9 240.36 278.7 240.48 280.4 240.60 279.0 240.72 278.1 240.84 279.7 240.96 278.3 241.08 280.6 241.20 280.3 241.32 279.2 241.44 279.8 241.56 279.8 241.68 278.8 241.80 280.2 241.92 278.8 242.04 279.9 242.16 278.0 242.28 279.3 242.40 279.7 242.52 278.2 242.64 278.7 242.76 278.5 242.88 280.1 243.00 278.3 243.12 279.8 243.24 281.1 243.36 279.7 243.48 277.3 243.60 279.4 243.72 280.5 243.84 278.9 243.96 280.6 244.08 280.0 244.20 279.8 244.32 279.0 244.44 278.7 244.56 279.0 244.68 279.4 244.80 280.0 244.92 279.9 245.04 279.0 245.16 279.4 245.28 279.9 245.40 277.4 245.52 278.4 245.64 278.4 245.76 279.2 245.88 279.1 246.00 279.1 246.12 278.4 246.24 280.3 246.36 279.8 246.48 277.4 246.60 279.5 246.72 278.1 246.84 281.6 246.96 278.9 247.08 279.0 247.20 279.6 247.32 279.3 247.44 279.5 247.56 281.5 247.68 279.8 247.80 280.6 247.92 281.0 248.04 278.4 248.16 281.7 248.28 280.4 248.40 280.8 248.52 278.5 248.64 280.6 248.76 280.1 248.88 279.0 249.00 282.1 249.12 280.3 249.24 279.4 249.36 279.9 249.48 280.8 249.60 281.1 249.72 280.4 249.84 281.2 249.96 281.5 250.08 278.2 250.20 279.1 250.32 278.6 250.44 279.9 250.56 281.5 250.68 280.6 250.80 278.5 250.92 279.4 251.04 281.1 251.16 279.1 251.28 279.7 251.40 280.2 251.52 277.6 251.64 280.8 251.76 280.2 251.88 280.5 252.00 278.6 252.12 278.9 252.24 279.1 252.36 280.2 252.48 280.0 252.60 280.0 252.72 282.1 252.84 281.5 252.96 279.0 253.08 279.1 253.20 282.0 253.32 279.5 253.44 281.6 253.56 281.9 253.68 279.3 253.80 279.6 253.92 280.1 254.04 278.9 254.16 278.8 254.28 279.5 254.40 281.1 254.52 279.5 254.64 279.8 254.76 279.4 254.88 278.3 255.00 281.9 255.12 277.5 255.24 279.2 255.36 280.8 255.48 278.3 255.60 280.8 255.72 281.6 255.84 279.0 255.96 280.4 256.08 278.7 256.20 280.7 256.32 280.2 256.44 280.4 256.56 281.8 256.68 280.7 256.80 281.8 256.92 280.9 257.04 278.7 257.16 280.5 257.28 280.8 257.40 278.4 257.52 281.9 257.64 280.3 257.76 280.7 257.88 279.1 258.00 280.1 258.12 280.2 258.24 279.1 258.36 279.4 258.48 276.6 258.60 280.5 258.72 277.2 258.84 275.8 258.96 276.9 259.08 276.8 259.20 278.3 259.32 276.3 259.44 277.5 259.56 275.4 259.68 278.2 259.80 275.5 259.92 276.4 260.04 271.9 260.16 273.1 260.28 270.2 260.40 271.2 260.52 270.5 260.64 266.8 260.76 266.5 260.88 265.6 261.00 264.3 261.12 264.4 261.24 263.3 261.36 261.8 261.48 262.9 261.60 262.7 261.72 259.5 261.84 259.6 261.96 259.5 262.08 258.4 262.20 257.0 262.32 258.1 262.44 257.6 262.56 257.5 262.68 256.5 262.80 259.3 262.92 259.1 263.04 256.5 263.16 257.0 263.28 258.7 263.40 256.4 263.52 257.9 263.64 257.6 263.76 256.8 263.88 257.5 264.00 255.9 264.12 257.3 264.24 255.4 264.36 259.8 264.48 258.7 264.60 257.9 264.72 256.3 264.84 256.7 264.96 256.5 265.08 255.7 265.20 255.1 265.32 252.3 265.44 253.5 265.56 251.8 265.68 250.5 265.80 250.1 265.92 252.2 266.04 253.1 266.16 250.3 266.28 254.3 266.40 254.1 266.52 252.0 266.64 252.1 266.76 252.7 266.88 254.2 267.00 252.7 267.12 251.9 267.24 253.9 267.36 251.1 267.48 254.0 267.60 255.4 267.72 254.5 267.84 255.3 267.96 255.1 268.08 255.5 268.20 255.0 268.32 254.0 268.44 255.0 268.56 255.4 268.68 257.2 268.80 257.9 268.92 256.6 269.04 255.3 269.16 255.6 269.28 256.5 269.40 258.6 269.52 257.5 269.64 257.2 269.76 256.6 269.88 258.8 270.00 258.3 270.12 258.1 270.24 258.4 270.36 260.6 270.48 258.5 270.60 261.0 270.72 260.7 270.84 259.4 270.96 260.6 271.08 259.6 271.20 258.9 271.32 259.8 271.44 259.2 271.56 261.2 271.68 260.8 271.80 261.7 271.92 262.2 272.04 258.9 272.16 262.0 272.28 259.5 272.40 262.2 272.52 261.1 272.64 262.5 272.76 264.3 272.88 260.7 273.00 263.2 273.12 263.1 273.24 261.0 273.36 264.4 273.48 263.8 273.60 263.4 273.72 263.3 273.84 266.9 273.96 264.1 274.08 262.5 274.20 263.8 274.32 264.7 274.44 264.9 274.56 265.5 274.68 264.5 274.80 266.7 274.92 265.6 275.04 264.7 275.16 265.6 275.28 266.3 275.40 268.1 275.52 267.8 275.64 267.0 275.76 267.6 275.88 268.1 276.00 270.5 276.12 267.4 276.24 269.0 276.36 269.5 276.48 267.6 276.60 269.2 276.72 269.4 276.84 268.8 276.96 270.2 277.08 271.0 277.20 271.3 277.32 269.9 277.44 270.5 277.56 273.0 277.68 269.3 277.80 271.2 277.92 272.2 278.04 271.5 278.16 272.3 278.28 271.9 278.40 272.8 278.52 273.6 278.64 271.9 278.76 272.7 278.88 272.5 279.00 272.3 279.12 273.0 279.24 271.8 279.36 274.3 279.48 275.7 279.60 275.9 279.72 275.5 279.84 272.9 279.96 276.2 280.08 273.6 280.20 274.7 280.32 277.2 280.44 273.8 280.56 276.3 280.68 275.8 280.80 275.5 280.92 274.8 281.04 276.5 281.16 275.4 281.28 277.2 281.40 277.4 281.52 274.2 281.64 275.2 281.76 275.4 281.88 274.3 282.00 274.4 282.12 275.8 282.24 275.4 282.36 273.6 282.48 275.0 282.60 276.2 282.72 274.1 282.84 274.4 282.96 277.5 283.08 277.0 283.20 273.2 283.32 273.4 283.44 275.4 283.56 273.3 283.68 274.3 283.80 273.9 283.92 275.0 284.04 271.6 284.16 271.5 284.28 272.3 284.40 274.9 284.52 273.3 284.64 271.2 284.76 273.8 284.88 273.9 285.00 272.5 285.12 272.3 285.24 273.1 285.36 273.9 285.48 272.4 285.60 272.7 285.72 271.8 285.84 271.2 285.96 270.4 286.08 271.7 286.20 270.8 286.32 270.7 286.44 272.0 286.56 271.3 286.68 271.6 286.80 268.4 286.92 270.8 287.04 269.2 287.16 268.8 287.28 268.5 287.40 270.9 287.52 270.3 287.64 268.2 287.76 267.5 287.88 268.7 288.00 268.0 288.12 270.4 288.24 266.4 288.36 265.7 288.48 267.5 288.60 267.7 288.72 267.6 288.84 268.2 288.96 269.6 289.08 266.5 289.20 266.1 289.32 264.4 289.44 266.7 289.56 267.3 289.68 265.7 289.80 267.4 289.92 265.8 290.04 267.4 290.16 265.8 290.28 264.0 290.40 264.7 290.52 263.6 290.64 263.5 290.76 266.1 290.88 266.9 291.00 268.4 291.12 266.0 291.24 265.8 291.36 264.9 291.48 267.6 291.60 266.9 291.72 265.8 291.84 267.5 291.96 267.4 292.08 264.5 292.20 267.8 292.32 267.2 292.44 266.6 292.56 266.7 292.68 269.5 292.80 269.3 292.92 269.8 293.04 266.2 293.16 266.9 293.28 268.9 293.40 266.4 293.52 267.1 293.64 265.8 293.76 270.5 293.88 269.6 294.00 269.0 294.12 268.7 294.24 268.1 294.36 268.2 294.48 269.5 294.60 268.0 294.72 270.5 294.84 268.4 294.96 268.1 295.08 270.9 295.20 269.2 295.32 270.1 295.44 269.0 295.56 267.2 295.68 270.4 295.80 268.2 295.92 271.3 296.04 268.1 296.16 267.8 296.28 270.5 296.40 270.8 296.52 270.4 296.64 268.9 296.76 271.6 296.88 268.7 297.00 270.0 297.12 269.7 297.24 270.3 297.36 271.9 297.48 270.1 297.60 271.6 297.72 271.9 297.84 269.0 297.96 269.7 298.08 270.8 298.20 270.6 298.32 271.8 298.44 269.0 298.56 272.4 298.68 272.5 298.80 271.4 298.92 270.0 299.04 271.8 299.16 271.2 299.28 272.6 299.40 271.9 299.52 273.0 299.64 271.6 299.76 274.0 299.88 269.8 300.00 271.1 300.12 273.0 300.24 270.6 300.36 273.5 300.48 271.1 300.60 272.8 300.72 271.6 300.84 272.3 300.96 273.1 301.08 272.9 301.20 272.6 301.32 275.6 301.44 273.2 301.56 272.1 301.68 274.5 301.80 274.4 301.92 275.0 302.04 275.8 302.16 272.5 302.28 275.0 302.40 275.2 302.52 273.9 302.64 274.2 302.76 271.5 302.88 273.3 303.00 276.3 303.12 271.9 303.24 273.5 303.36 274.6 303.48 275.0 303.60 276.4 303.72 272.2 303.84 274.6 303.96 275.6 304.08 273.0 304.20 274.6 304.32 277.1 304.44 276.4 304.56 275.5 304.68 272.4 304.80 274.8 304.92 275.5 305.04 274.7 305.16 275.1 305.28 277.7 305.40 275.0 305.52 274.1 305.64 275.7 305.76 275.0 305.88 275.1 306.00 275.4 306.12 276.6 306.24 276.0 306.36 274.2 306.48 275.6 306.60 276.4 306.72 275.3 306.84 277.4 306.96 277.0 307.08 274.8 307.20 276.5 307.32 278.7 307.44 278.2 307.56 276.2 307.68 277.5 307.80 275.6 307.92 274.7 308.04 277.2 308.16 276.9 308.28 277.3 308.40 276.7 308.52 277.2 308.64 276.2 308.76 277.5 308.88 278.0 309.00 276.9 309.12 278.1 309.24 274.9 309.36 276.2 309.48 279.0 309.60 279.5 309.72 277.7 309.84 277.3 309.96 275.9 310.08 278.0 310.20 278.5 310.32 275.7 310.44 278.3 310.56 278.2 310.68 278.2 310.80 276.3 310.92 278.4 311.04 275.9 311.16 279.6 311.28 278.0 311.40 276.4 311.52 279.5 311.64 279.3 311.76 277.1 311.88 280.4 312.00 276.7 312.12 278.4 312.24 279.5 312.36 275.6 312.48 279.3 312.60 278.0 312.72 278.1 312.84 276.8 312.96 278.6 313.08 276.8 313.20 277.1 313.32 277.7 313.44 276.8 313.56 280.3 313.68 276.7 313.80 277.5 313.92 278.0 314.04 278.5 314.16 279.5 314.28 279.5 314.40 278.2 314.52 278.1 314.64 278.6 314.76 279.7 314.88 279.5 315.00 278.0 315.12 276.2 315.24 281.2 315.36 280.0 315.48 279.1 315.60 279.3 315.72 278.2 315.84 277.6 315.96 278.5 316.08 278.7 316.20 278.2 316.32 277.2 316.44 278.6 316.56 279.8 316.68 278.5 316.80 279.1 316.92 276.7 317.04 278.9 317.16 279.1 317.28 277.7 317.40 277.1 317.52 279.8 317.64 278.3 317.76 280.0 317.88 278.9 318.00 280.2 318.12 279.0 318.24 277.6 318.36 279.4 318.48 279.1 318.60 280.2 318.72 278.8 318.84 278.8 318.96 280.4 319.08 280.7 319.20 280.1 319.32 280.4 319.44 279.7 319.56 280.0 319.68 280.1 319.80 279.5 319.92 279.0 320.04 279.1 320.16 281.3 320.28 278.8 320.40 278.4 320.52 278.2 320.64 278.6 320.76 278.9 320.88 277.2 321.00 276.0 321.12 278.8 321.24 276.4 321.36 278.7 321.48 278.5 321.60 279.7 321.72 280.3 321.84 278.7 321.96 277.5 322.08 276.6 322.20 277.1 322.32 278.1 322.44 275.5 322.56 278.0 322.68 277.9 322.80 278.6 322.92 277.4 323.04 277.9 323.16 276.8 323.28 277.1 323.40 275.4 323.52 277.7 323.64 279.4 323.76 277.7 323.88 277.9 324.00 276.2 324.12 279.1 324.24 276.3 324.36 278.2 324.48 277.3 324.60 276.0 324.72 278.4 324.84 277.1 324.96 277.2 325.08 277.5 325.20 276.9 325.32 276.4 325.44 277.4 325.56 276.3 325.68 276.8 325.80 275.9 325.92 274.8 326.04 275.8 326.16 275.9 326.28 276.5 326.40 278.0 326.52 274.3 326.64 276.5 326.76 273.8 326.88 275.0 327.00 275.6 327.12 273.7 327.24 273.8 327.36 276.3 327.48 276.2 327.60 275.9 327.72 275.0 327.84 278.4 327.96 275.7 328.08 274.8 328.20 277.9 328.32 276.5 328.44 275.2 328.56 277.2 328.68 275.8 328.80 276.4 328.92 275.8 329.04 274.2 329.16 276.7 329.28 275.6 329.40 274.1 329.52 274.4 329.64 276.5 329.76 274.8 329.88 275.2 330.00 275.9 330.12 275.2 330.24 273.1 330.36 275.8 330.48 276.1 330.60 276.0 330.72 276.9 330.84 275.3 330.96 275.7 331.08 276.7 331.20 274.3 331.32 276.8 331.44 276.7 331.56 275.5 331.68 276.8 331.80 275.5 331.92 273.3 332.04 275.8 332.16 274.7 332.28 274.8 332.40 274.4 332.52 275.9 332.64 274.8 332.76 273.2 332.88 274.7 333.00 274.9 333.12 273.2 333.24 273.6 333.36 273.7 333.48 273.5 333.60 274.7 333.72 275.6 333.84 276.8 333.96 276.0 334.08 275.8 334.20 276.0 334.32 276.3 334.44 274.3 334.56 275.6 334.68 275.2 334.80 274.7 334.92 274.4 335.04 274.4 335.16 274.7 335.28 273.6 335.40 275.9 335.52 275.2 335.64 275.5 335.76 275.8 335.88 276.3 336.00 274.8 336.12 275.4 336.24 273.6 336.36 273.2 336.48 273.3 336.60 277.7 336.72 273.6 336.84 276.5 336.96 277.8 337.08 275.5 337.20 278.1 337.32 278.5 337.44 277.4 337.56 278.8 337.68 277.1 337.80 275.5 337.92 277.1 338.04 276.0 338.16 275.0 338.28 275.1 338.40 279.2 338.52 276.1 338.64 276.8 338.76 276.1 338.88 277.1 339.00 276.7 339.12 276.6 339.24 275.6 339.36 275.4 339.48 276.3 339.60 277.7 339.72 279.9 339.84 278.8 339.96 279.8 340.08 278.2 340.20 277.5 340.32 276.0 340.44 277.7 340.56 275.2 340.68 277.4 340.80 279.9 340.92 278.3 341.04 279.3 341.16 277.5 341.28 276.3 341.40 277.5 341.52 277.6 341.64 279.7 341.76 280.7 341.88 277.4 342.00 277.9 342.12 278.2 342.24 278.0 342.36 276.9 342.48 278.6 342.60 279.0 342.72 279.1 342.84 277.2 342.96 278.6 343.08 276.6 343.20 280.0 343.32 277.6 343.44 278.6 343.56 278.4 343.68 278.3 343.80 277.7 343.92 276.9 344.04 281.3 344.16 279.5 344.28 279.6 344.40 281.8 344.52 279.2 344.64 280.1 344.76 279.5 344.88 281.0 345.00 280.2 345.12 280.0 345.24 279.3 345.36 280.0 345.48 281.2 345.60 277.3 345.72 279.7 345.84 279.4 345.96 279.6 346.08 277.5 346.20 280.9 346.32 279.0 346.44 279.8 346.56 279.6 346.68 278.1 346.80 279.7 346.92 278.0 347.04 279.2 347.16 280.0 347.28 280.5 347.40 280.6 347.52 280.4 347.64 283.1 347.76 281.2 347.88 279.0 348.00 279.7 348.12 279.6 348.24 280.2 348.36 279.6 348.48 279.2 348.60 282.3 348.72 280.2 348.84 279.7 348.96 279.7 349.08 279.7 349.20 281.6 349.32 280.4 349.44 281.2 349.56 277.2 349.68 280.1 349.80 280.9 349.92 282.0 350.04 279.5 350.16 277.3 350.28 280.1 350.40 278.6 350.52 277.0 350.64 278.4 350.76 280.5 350.88 280.6 351.00 279.9 351.12 277.7 351.24 281.4 351.36 277.4 351.48 278.7 351.60 276.9 351.72 280.3 351.84 279.2 351.96 279.7 352.08 278.6 352.20 278.3 352.32 278.6 352.44 276.0 352.56 279.5 352.68 279.3 352.80 277.6 352.92 278.1 353.04 278.4 353.16 279.9 353.28 278.4 353.40 277.9 353.52 277.2 353.64 275.9 353.76 276.9 353.88 277.7 354.00 277.2 354.12 277.7 354.24 278.5 354.36 278.2 354.48 278.0 354.60 278.5 354.72 278.0 354.84 277.7 354.96 278.4 355.08 275.6 355.20 279.4 355.32 276.2 355.44 278.9 355.56 277.9 355.68 279.3 355.80 278.0 355.92 276.8 356.04 279.4 356.16 278.3 356.28 278.2 356.40 278.2 356.52 279.4 356.64 279.2 356.76 278.5 356.88 276.3 357.00 277.7 357.12 278.4 357.24 280.5 357.36 278.8 357.48 278.2 357.60 279.9 357.72 278.3 357.84 278.4 357.96 278.7 358.08 276.6 358.20 279.7 358.32 279.1 358.44 278.2 358.56 277.2 358.68 278.9 358.80 280.4 358.92 277.9 359.04 277.4 359.16 279.3 359.28 276.8 359.40 276.2 359.52 278.3 359.64 278.0 359.76 278.5 359.88 278.2 360.00 279.4 360.12 278.7 360.24 278.2 360.36 278.4 360.48 279.8 360.60 280.3 360.72 280.2 360.84 280.0 360.96 276.6 361.08 277.9 361.20 278.8 361.32 279.5 361.44 277.3 361.56 281.1 361.68 279.7 361.80 278.6 361.92 279.6 362.04 279.0 362.16 278.5 362.28 280.1 362.40 278.9 362.52 277.8 362.64 278.8 362.76 279.4 362.88 278.3 363.00 281.2 363.12 278.3 363.24 281.9 363.36 280.8 363.48 278.6 363.60 279.9 363.72 281.3 363.84 279.6 363.96 278.4 364.08 280.0 364.20 282.3 364.32 278.1 364.44 280.7 364.56 280.0 364.68 279.9 364.80 279.6 364.92 279.7 365.04 281.4 365.16 280.9 365.28 278.9 365.40 282.1 365.52 278.6 365.64 281.1 365.76 280.5 365.88 281.8 366.00 280.8 366.12 281.7 366.24 280.3 366.36 281.6 366.48 280.9 366.60 282.9 366.72 279.6 366.84 282.0 366.96 281.1 367.08 280.8 367.20 279.9 367.32 281.2 367.44 278.8 367.56 279.0 367.68 281.6 367.80 278.8 367.92 282.5 368.04 280.4 368.16 281.1 368.28 280.9 368.40 281.3 368.52 280.4 368.64 280.3 368.76 280.7 368.88 282.1 369.00 282.3 369.12 282.4 369.24 281.3 369.36 280.6 369.48 278.8 369.60 281.7 369.72 282.0 369.84 280.4 369.96 282.0 370.08 282.6 370.20 281.1 370.32 282.3 370.44 281.4 370.56 278.8 370.68 280.4 370.80 280.5 370.92 281.7 371.04 280.0 371.16 280.5 371.28 279.9 371.40 281.1 371.52 281.2 371.64 282.3 371.76 282.1 371.88 281.4 372.00 281.5 372.12 281.3 372.24 281.3 372.36 283.1 372.48 278.6 372.60 281.0 372.72 281.6 372.84 282.7 372.96 279.9 373.08 281.7 373.20 282.4 373.32 280.7 373.44 278.9 373.56 280.9 373.68 279.8 373.80 282.2 373.92 280.3 374.04 283.6 374.16 281.6 374.28 280.4 374.40 280.8 374.52 280.1 374.64 281.9 374.76 283.3 374.88 281.2 375.00 282.6 375.12 280.3 375.24 281.9 375.36 283.9 375.48 279.8 375.60 283.1 375.72 283.0 375.84 279.2 375.96 279.8 376.08 280.4 376.20 282.8 376.32 281.1 376.44 281.4 376.56 282.5 376.68 281.8 376.80 282.0 376.92 281.3 377.04 283.1 377.16 280.7 377.28 283.8 377.40 281.3 377.52 280.8 377.64 282.6 377.76 282.3 377.88 279.3 378.00 282.1 378.12 280.1 378.24 280.8 378.36 282.8 378.48 280.8 378.60 282.3 378.72 281.4 378.84 284.3 378.96 281.8 379.08 280.4 379.20 280.5 379.32 280.7 379.44 282.0 379.56 281.8 379.68 283.1 379.80 282.0 379.92 282.0 380.04 282.2 380.16 281.7 380.28 282.2 380.40 282.8 380.52 282.8 380.64 281.1 380.76 279.6 380.88 280.8 381.00 282.1 381.12 279.2 381.24 281.2 381.36 282.3 381.48 281.0 381.60 280.3 381.72 283.9 381.84 283.4 381.96 281.4 382.08 283.4 382.20 283.3 382.32 280.3 382.44 284.1 382.56 280.5 382.68 281.3 382.80 280.3 382.92 281.7 383.04 280.0 383.16 281.6 383.28 283.0 383.40 281.9 383.52 281.3 383.64 283.5 383.76 280.5 383.88 282.8 384.00 281.2 384.12 281.9 384.24 281.6 384.36 281.7 384.48 281.5 384.60 280.6 384.72 280.8 384.84 282.1 384.96 281.4 385.08 280.1 385.20 280.6 385.32 280.6 385.44 281.4 385.56 281.7 385.68 281.6 385.80 280.7 385.92 281.5 386.04 279.8 386.16 278.9 386.28 281.4 386.40 279.4 386.52 280.2 386.64 279.9 386.76 282.2 386.88 279.9 387.00 281.7 387.12 280.8 387.24 279.8 387.36 279.4 387.48 281.9 387.60 281.8 387.72 282.3 387.84 283.6 387.96 281.7 388.08 281.7 388.20 281.2 388.32 281.4 388.44 280.9 388.56 280.2 388.68 283.8 388.80 279.0 388.92 281.6 389.04 281.8 389.16 281.4 389.28 280.0 389.40 281.0 389.52 280.7 389.64 279.9 389.76 281.2 389.88 280.7 390.00 280.5 390.12 282.0 390.24 279.9 390.36 281.7 390.48 280.4 390.60 281.7 390.72 281.2 390.84 281.4 390.96 279.9 391.08 280.2 391.20 280.1 391.32 281.3 391.44 282.0 391.56 282.4 391.68 280.5 391.80 281.2 391.92 279.1 392.04 278.6 392.16 280.0 392.28 280.2 392.40 279.1 392.52 278.8 392.64 281.7 392.76 280.0 392.88 278.9 393.00 283.5 393.12 281.2 393.24 280.6 393.36 281.8 393.48 280.0 393.60 283.0 393.72 279.1 393.84 279.3 393.96 280.8 394.08 280.0 394.20 282.7 394.32 279.0 394.44 280.1 394.56 281.3 394.68 281.7 394.80 282.2 394.92 281.4 395.04 283.5 395.16 280.2 395.28 280.9 395.40 281.7 395.52 280.1 395.64 280.1 395.76 279.7 395.88 279.4 396.00 278.7 396.12 279.3 396.24 278.0 396.36 280.3 396.48 277.7 396.60 282.2 396.72 281.6 396.84 280.8 396.96 279.1 397.08 278.5 397.20 280.6 397.32 279.2 397.44 279.6 397.56 277.9 397.68 280.0 397.80 277.6 397.92 278.6 398.04 276.2 398.16 277.1 398.28 278.2 398.40 276.6 398.52 276.2 398.64 277.3 398.76 275.9 398.88 277.1 399.00 272.8 399.12 275.5 399.24 275.0 399.36 272.1 399.48 272.0 399.60 274.3 399.72 271.5 399.84 271.7 399.96 272.8 400.08 270.9 400.20 270.9 400.32 268.3 400.44 268.8 400.56 268.8 400.68 266.9 400.80 263.1 400.92 265.4 401.04 263.8 401.16 262.0 401.28 264.3 401.40 259.8 401.52 263.7 401.64 259.9 401.76 262.1 401.88 260.1 402.00 258.9 402.12 261.0 402.24 261.7 402.36 262.3 402.48 263.3 402.60 261.2 402.72 263.3 402.84 264.1 402.96 263.5 403.08 263.3 403.20 263.9 403.32 266.7 403.44 267.4 403.56 266.0 403.68 266.0 403.80 269.9 403.92 267.1 404.04 269.7 404.16 268.9 404.28 268.0 404.40 270.7 404.52 270.6 404.64 272.9 404.76 274.0 404.88 271.5 405.00 273.4 405.12 273.7 405.24 272.1 405.36 272.0 405.48 275.4 405.60 272.6 405.72 272.7 405.84 271.9 405.96 271.7 406.08 270.7 406.20 272.0 406.32 272.3 406.44 269.8 406.56 268.2 406.68 269.6 406.80 267.2 406.92 267.9 407.04 269.8 407.16 270.5 407.28 268.0 407.40 265.9 407.52 267.8 407.64 264.0 407.76 265.2 407.88 267.6 408.00 266.3 408.12 263.3 408.24 262.5 408.36 265.5 408.48 264.3 408.60 263.5 408.72 264.7 408.84 263.4 408.96 261.7 409.08 265.0 409.20 263.2 409.32 262.7 409.44 262.6 409.56 264.8 409.68 263.7 409.80 265.7 409.92 264.9 410.04 266.8 410.16 265.2 410.28 265.2 410.40 263.8 410.52 265.1 410.64 267.8 410.76 270.0 410.88 266.3 411.00 267.0 411.12 269.1 411.24 269.7 411.36 268.7 411.48 270.1 411.60 268.5 411.72 270.5 411.84 272.5 411.96 273.8 412.08 271.9 412.20 272.1 412.32 273.3 412.44 274.4 412.56 273.9 412.68 272.7 412.80 274.4 412.92 275.4 413.04 273.6 413.16 273.2 413.28 275.8 413.40 275.9 413.52 276.9 413.64 276.1 413.76 275.5 413.88 276.1 414.00 275.7 414.12 275.9 414.24 276.5 414.36 276.7 414.48 278.8 414.60 276.0 414.72 277.5 414.84 277.0 414.96 279.7 415.08 278.3 415.20 277.6 415.32 279.2 415.44 278.4 415.56 277.8 415.68 280.4 415.80 279.5 415.92 280.9 416.04 280.3 416.16 279.9 416.28 279.2 416.40 277.8 416.52 280.2 416.64 279.5 416.76 280.4 416.88 279.6 417.00 278.9 417.12 278.5 417.24 280.7 417.36 281.4 417.48 279.5 417.60 280.5 417.72 281.6 417.84 278.9 417.96 279.6 418.08 278.6 418.20 281.5 418.32 280.4 418.44 279.5 418.56 278.1 418.68 279.9 418.80 281.4 418.92 279.9 419.04 279.7 419.16 281.1 419.28 278.8 419.40 280.4 419.52 281.1 419.64 279.4 419.76 279.4 419.88 280.8 420.00 280.4 420.12 280.2 420.24 280.8 420.36 280.9 420.48 279.5 420.60 279.8 420.72 281.2 420.84 282.1 420.96 282.4 421.08 279.7 421.20 282.2 421.32 281.8 421.44 280.8 421.56 281.5 421.68 282.0 421.80 283.2 421.92 279.7 422.04 281.8 422.16 280.9 422.28 280.8 422.40 282.5 422.52 282.2 422.64 279.9 422.76 280.8 422.88 281.5 423.00 279.5 423.12 282.3 423.24 281.1 423.36 281.3 423.48 281.5 423.60 283.3 423.72 281.1 423.84 280.5 423.96 283.1 424.08 280.3 424.20 280.2 424.32 279.1 424.44 282.1 424.56 281.1 424.68 281.3 424.80 280.9 424.92 280.5 425.04 279.6 425.16 279.6 425.28 281.0 425.40 280.6 425.52 282.5 425.64 279.5 425.76 279.8 425.88 279.1 426.00 282.0 426.12 278.7 426.24 281.2 426.36 281.9 426.48 279.9 426.60 281.0 426.72 277.6 426.84 279.5 426.96 277.9 427.08 280.1 427.20 279.9 427.32 278.9 427.44 281.0 427.56 280.2 427.68 279.1 427.80 279.1 427.92 277.8 428.04 279.4 428.16 282.1 428.28 278.7 428.40 280.0 428.52 278.8 428.64 280.4 428.76 279.9 428.88 279.0 429.00 277.1 429.12 278.6 429.24 280.7 429.36 278.9 429.48 279.9 429.60 278.5 429.72 276.8 429.84 279.5 429.96 279.4 430.08 278.2 430.20 278.5 430.32 279.3 430.44 278.2 430.56 279.3 430.68 278.7 430.80 276.4 430.92 278.7 431.04 278.1 431.16 277.8 431.28 279.3 431.40 278.2 431.52 279.5 431.64 280.2 431.76 279.0 431.88 276.9 432.00 277.9 432.12 280.1 432.24 278.9 432.36 278.4 432.48 279.5 432.60 280.4 432.72 280.3 432.84 281.0 432.96 279.4 433.08 280.3 433.20 280.5 433.32 281.0 433.44 278.8 433.56 281.1 433.68 280.0 433.80 283.6 433.92 284.0 434.04 284.3 434.16 283.5 434.28 282.1 434.40 284.1 434.52 282.6 434.64 283.7 434.76 281.8 434.88 282.2 435.00 283.5 435.12 285.1 435.24 282.9 435.36 285.5 435.48 285.5 435.60 281.4 435.72 283.0 435.84 281.9 435.96 282.9 436.08 282.4 436.20 283.0 436.32 284.3 436.44 284.3 436.56 283.4 436.68 283.1 436.80 283.3 436.92 283.3 437.04 283.9 437.16 283.2 437.28 283.8 437.40 281.6 437.52 284.2 437.64 285.4 437.76 283.5 437.88 281.5 438.00 285.0 438.12 282.9 438.24 280.8 438.36 283.1 438.48 284.1 438.60 283.8 438.72 284.9 438.84 284.2 438.96 283.6 439.08 281.0 439.20 282.1 439.32 283.7 439.44 284.3 439.56 282.2 439.68 282.7 439.80 284.1 439.92 281.2 440.04 281.1 440.16 283.3 440.28 283.9 440.40 283.0 440.52 281.1 440.64 283.6 440.76 282.0 440.88 284.4 441.00 283.5 441.12 284.0 441.24 284.5 441.36 283.0 441.48 284.7 441.60 285.2 441.72 284.2 441.84 285.4 441.96 283.0 442.08 284.9 442.20 284.1 442.32 282.6 442.44 283.7 442.56 283.2 442.68 283.1 442.80 284.0 442.92 285.2 443.04 283.5 443.16 284.0 443.28 282.1 443.40 284.0 443.52 285.4 443.64 284.9 443.76 284.5 443.88 283.3 444.00 282.8 444.12 283.9 444.24 282.4 444.36 282.5 444.48 285.2 444.60 282.9 444.72 286.3 444.84 282.3 444.96 284.6 445.08 282.7 445.20 284.3 445.32 282.8 445.44 284.2 445.56 284.0 445.68 283.6 445.80 284.8 445.92 286.0 446.04 283.4 446.16 285.2 446.28 284.2 446.40 284.1 446.52 286.6 446.64 281.6 446.76 283.2 446.88 281.8 447.00 283.6 447.12 283.7 447.24 286.5 447.36 284.4 447.48 286.2 447.60 285.5 447.72 283.4 447.84 284.5 447.96 285.9 448.08 284.1 448.20 284.1 448.32 284.4 448.44 281.9 448.56 282.8 448.68 284.2 448.80 284.4 448.92 282.6 449.04 283.3 449.16 283.5 449.28 283.5 449.40 284.5 449.52 283.8 449.64 283.8 449.76 281.9 449.88 282.3 450.00 284.0 450.12 281.6 450.24 283.9 450.36 282.7 450.48 282.5 450.60 284.3 450.72 282.6 450.84 282.4 450.96 282.6 451.08 283.5 451.20 285.9 451.32 280.9 451.44 283.3 451.56 283.0 451.68 284.5 451.80 282.9 451.92 280.8 452.04 284.9 452.16 281.9 452.28 283.2 452.40 281.5 452.52 281.8 452.64 282.6 452.76 284.2 452.88 284.2 453.00 282.4 453.12 283.7 453.24 282.6 453.36 283.2 453.48 283.3 453.60 283.8 453.72 282.3 453.84 282.8 453.96 283.3 454.08 283.1 454.20 282.0 454.32 285.1 454.44 282.3 454.56 283.8 454.68 283.1 454.80 284.4 454.92 280.3 455.04 285.3 455.16 282.4 455.28 281.1 455.40 282.7 455.52 285.0 455.64 283.1 455.76 280.9 455.88 281.8 456.00 283.9 456.12 280.5 456.24 281.9 456.36 281.7 456.48 284.6 456.60 281.6 456.72 283.5 456.84 281.0 456.96 280.8 457.08 283.0 457.20 282.5 457.32 279.5 457.44 282.4 457.56 282.3 457.68 280.7 457.80 281.7 457.92 281.7 458.04 280.7 458.16 280.5 458.28 280.3 458.40 280.8 458.52 279.4 458.64 280.9 458.76 279.1 458.88 280.9 459.00 280.7 459.12 279.4 459.24 281.7 459.36 283.0 459.48 282.2 459.60 278.8 459.72 282.0 459.84 280.6 459.96 280.3 460.08 279.5 460.20 280.2 460.32 281.9 460.44 280.8 460.56 279.5 460.68 279.1 460.80 279.4 460.92 280.6 461.04 282.1 461.16 278.4 461.28 279.7 461.40 279.2 461.52 278.8 461.64 280.3 461.76 280.5 461.88 278.1 462.00 278.6 462.12 281.4 462.24 280.4 462.36 280.7 462.48 279.5 462.60 279.7 462.72 280.8 462.84 279.6 462.96 278.9 463.08 280.3 463.20 281.5 463.32 279.1 463.44 281.8 463.56 281.4 463.68 279.5 463.80 280.6 463.92 280.6 464.04 281.5 464.16 281.6 464.28 279.2 464.40 279.2 464.52 282.1 464.64 281.1 464.76 281.5 464.88 281.4 465.00 282.9 465.12 279.6 465.24 282.5 465.36 280.2 465.48 282.1 465.60 282.9 465.72 279.6 465.84 281.9 465.96 281.1 466.08 281.1 466.20 281.6 466.32 280.3 466.44 280.4 466.56 282.5 466.68 282.7 466.80 281.0 466.92 280.0 467.04 284.4 467.16 283.2 467.28 282.4 467.40 280.7 467.52 281.3 467.64 282.3 467.76 280.9 467.88 284.1 468.00 282.4 468.12 282.7 468.24 281.0 468.36 281.2 468.48 281.4 468.60 282.8 468.72 282.1 468.84 282.1 468.96 282.9 469.08 282.9 469.20 284.5 469.32 282.4 469.44 281.5 469.56 282.8 469.68 284.6 469.80 282.2 469.92 283.0 470.04 282.5 470.16 283.5 470.28 283.4 470.40 282.1 470.52 282.9 470.64 284.3 470.76 284.6 470.88 284.4 471.00 284.4 471.12 283.0 471.24 283.0 471.36 284.6 471.48 282.1 471.60 283.5 471.72 281.3 471.84 283.2 471.96 282.8 472.08 282.2 472.20 284.3 472.32 282.7 472.44 283.1 472.56 283.2 472.68 282.6 472.80 285.3 472.92 282.9 473.04 283.7 473.16 281.9 473.28 282.9 473.40 283.0 473.52 283.0 473.64 282.7 473.76 283.6 473.88 285.3 474.00 283.2 474.12 283.2 474.24 282.8 474.36 285.8 474.48 285.2 474.60 283.9 474.72 284.1 474.84 282.3 474.96 283.0 475.08 283.4 475.20 283.3 475.32 282.1 475.44 282.2 475.56 283.7 475.68 283.5 475.80 280.6 475.92 283.2 476.04 284.6 476.16 282.2 476.28 283.3 476.40 281.2 476.52 284.0 476.64 281.6 476.76 281.4 476.88 282.5 477.00 285.4 477.12 282.1 477.24 281.3 477.36 283.4 477.48 283.1 477.60 284.8 477.72 281.2 477.84 280.8 477.96 282.4 478.08 283.2 478.20 283.1 478.32 284.0 478.44 280.8 478.56 281.6 478.68 282.5 478.80 283.6 478.92 283.2 479.04 282.1 479.16 281.3 479.28 283.6 479.40 283.7 479.52 285.0 479.64 282.3 479.76 284.5 479.88 281.0 480.00 281.8 480.12 281.6 480.24 281.8 480.36 281.3 480.48 281.7 480.60 282.3 480.72 281.8 480.84 283.1 480.96 282.2 481.08 282.3 481.20 284.1 481.32 282.6 481.44 282.4 481.56 282.2 481.68 282.3 481.80 282.9 481.92 281.2 482.04 283.5 482.16 284.0 482.28 283.5 482.40 281.5 482.52 280.1 482.64 281.5 482.76 282.3 482.88 283.1 483.00 281.9 483.12 281.7 483.24 284.0 483.36 281.3 483.48 283.5 483.60 283.3 483.72 280.5 483.84 282.5 483.96 281.5 484.08 281.0 484.20 280.0 484.32 280.3 484.44 282.7 484.56 281.8 484.68 282.6 484.80 281.0 484.92 281.9 485.04 282.0 485.16 280.4 485.28 280.3 485.40 282.9 485.52 282.5 485.64 281.2 485.76 282.2 485.88 283.2 486.00 284.6 486.12 281.3 486.24 283.2 486.36 285.0 486.48 282.5 486.60 284.2 486.72 280.0 486.84 284.2 486.96 282.5 487.08 280.2 487.20 283.4 487.32 283.8 487.44 284.0 487.56 284.0 487.68 282.5 487.80 281.6 487.92 282.0 488.04 282.5 488.16 283.1 488.28 282.0 488.40 282.7 488.52 283.7 488.64 283.0 488.76 285.2 488.88 285.2 489.00 281.3 489.12 282.0 489.24 281.1 489.36 281.3 489.48 283.4 489.60 281.5 489.72 281.4 489.84 282.4 489.96 283.7 490.08 282.3 490.20 282.3 490.32 283.9 490.44 283.4 490.56 283.4 490.68 284.0 490.80 281.6 490.92 283.1 491.04 282.1 491.16 284.1 491.28 283.9 491.40 281.6 491.52 284.5 491.64 281.5 491.76 284.3 491.88 283.2 492.00 281.9 492.12 281.6 492.24 282.6 492.36 282.9 492.48 282.1 492.60 283.7 492.72 281.3 492.84 283.0 492.96 283.0 493.08 280.7 493.20 283.4 493.32 281.5 493.44 280.6 493.56 282.3 493.68 282.8 493.80 284.2 493.92 282.5 494.04 284.9 494.16 284.9 494.28 284.5 494.40 284.8 494.52 283.6 494.64 282.5 494.76 284.0 494.88 284.4 495.00 283.5 495.12 282.9 495.24 281.3 495.36 284.1 495.48 283.7 495.60 281.7 495.72 283.4 495.84 284.2 495.96 283.2 496.08 284.3 496.20 284.2 496.32 281.5 496.44 283.0 496.56 283.9 496.68 284.5 496.80 285.1 496.92 281.0 497.04 283.3 497.16 284.3 497.28 284.9 497.40 285.5 497.52 282.3 497.64 283.0 497.76 282.2 497.88 284.5 498.00 281.9 498.12 285.0 498.24 284.7 498.36 284.1 498.48 281.1 498.60 282.7 498.72 284.5 498.84 281.8 498.96 283.3 499.08 283.5 499.20 284.7 499.32 284.0 499.44 284.0 499.56 283.1 499.68 283.6 499.80 283.5 499.92 284.6 500.04 283.5 500.16 285.0 500.28 281.6 500.40 285.2 500.52 283.5 500.64 285.1 500.76 283.8 500.88 284.8 501.00 285.6 501.12 283.1 501.24 283.9 501.36 283.6 501.48 284.1 501.60 281.8 501.72 283.6 501.84 283.5 501.96 282.9 502.08 283.6 502.20 282.0 502.32 285.6 502.44 284.4 502.56 286.2 502.68 282.8 502.80 282.5 502.92 284.3 503.04 281.9 503.16 284.2 503.28 283.1 503.40 283.6 503.52 284.3 503.64 284.0 503.76 286.3 503.88 284.8 504.00 282.4 504.12 285.2 504.24 282.3 504.36 284.1 504.48 282.5 504.60 283.0 504.72 285.6 504.84 283.3 504.96 283.2 505.08 283.3 505.20 283.6 505.32 285.8 505.44 282.6 505.56 282.5 505.68 284.7 505.80 282.1 505.92 283.6 506.04 285.4 506.16 284.0 506.28 283.4 506.40 283.2 506.52 282.9 506.64 283.3 506.76 284.2 506.88 285.6 507.00 285.2 507.12 283.4 507.24 283.2 507.36 284.9 507.48 281.8 507.60 283.5 507.72 283.7 507.84 282.7 507.96 282.8 508.08 284.5 508.20 282.0 508.32 283.0 508.44 283.3 508.56 284.2 508.68 282.4 508.80 285.4 508.92 283.7 509.04 283.8 509.16 283.6 509.28 283.3 509.40 282.9 509.52 285.5 509.64 284.4 509.76 284.0 509.88 285.3 510.00 283.2 510.12 284.9 510.24 284.1 510.36 283.0 510.48 285.1 510.60 282.3 510.72 284.9 510.84 283.0 510.96 284.6 511.08 285.8 511.20 284.8 511.32 283.4 511.44 284.1 511.56 283.7 511.68 282.7 511.80 282.8 511.92 284.2 512.04 284.8 512.16 282.0 512.28 284.1 512.40 284.8 512.52 284.3 512.64 282.9 512.76 285.4 512.88 282.7 513.00 285.0 513.12 286.1 513.24 281.8 513.36 284.5 513.48 284.6 513.60 284.5 513.72 283.2 513.84 283.8 513.96 282.5 514.08 284.4 514.20 284.9 514.32 283.4 514.44 283.1 514.56 283.6 514.68 284.2 514.80 284.3 514.92 284.1 515.04 284.3 515.16 282.6 515.28 281.8 515.40 285.0 515.52 286.0 515.64 282.5 515.76 283.4 515.88 284.6 516.00 285.4 516.12 285.0 516.24 285.8 516.36 284.2 516.48 284.8 516.60 284.8 516.72 283.7 516.84 285.7 516.96 285.0 517.08 285.5 517.20 283.8 517.32 285.5 517.44 283.0 517.56 284.8 517.68 281.9 517.80 283.0 517.92 285.2 518.04 283.7 518.16 284.5 518.28 282.3 518.40 286.2 518.52 285.0 518.64 284.3 518.76 284.8 518.88 284.7 519.00 286.0 519.12 284.6 519.24 282.5 519.36 284.0 519.48 285.9 519.60 285.0 519.72 283.8 519.84 285.1 519.96 284.5 520.08 285.1 520.20 282.4 520.32 283.2 520.44 285.2 520.56 284.1 520.68 284.8 520.80 286.8 520.92 284.0 521.04 284.7 521.16 283.7 521.28 283.6 521.40 284.3 521.52 282.6 521.64 282.0 521.76 286.1 521.88 284.3 522.00 285.8 522.12 284.5 522.24 284.6 522.36 285.2 522.48 285.3 522.60 282.9 522.72 285.9 522.84 283.2 522.96 284.7 523.08 287.0 523.20 284.5 523.32 286.5 523.44 284.0 523.56 285.2 523.68 284.5 523.80 285.0 523.92 283.4 524.04 283.3 524.16 284.9 524.28 282.5 524.40 283.4 524.52 285.2 524.64 283.7 524.76 283.4 524.88 283.1 525.00 284.7 525.12 284.0 525.24 284.7 525.36 284.3 525.48 286.7 525.60 284.0 525.72 282.1 525.84 284.6 525.96 284.5 526.08 284.7 526.20 282.6 526.32 285.9 526.44 284.5 526.56 284.5 526.68 282.6 526.80 285.1 526.92 284.4 527.04 286.2 527.16 284.0 527.28 283.0 527.40 284.7 527.52 283.4 527.64 285.1 527.76 283.2 527.88 284.4 528.00 284.3 528.12 284.5 528.24 283.9 528.36 283.6 528.48 284.5 528.60 283.9 528.72 284.8 528.84 284.3 528.96 282.2 529.08 284.5 529.20 286.3 529.32 285.0 529.44 285.3 529.56 285.2 529.68 284.0 529.80 283.0 529.92 285.6 530.04 285.9 530.16 285.3 530.28 285.1 530.40 285.1 530.52 284.6 530.64 285.0 530.76 284.6 530.88 285.0 531.00 283.5 531.12 283.9 531.24 285.3 531.36 284.2 531.48 282.3 531.60 284.8 531.72 282.3 531.84 287.0 531.96 285.5 532.08 285.5 532.20 283.9 532.32 283.3 532.44 284.4 532.56 284.7 532.68 283.8 532.80 284.9 532.92 285.5 533.04 285.4 533.16 283.5 533.28 282.3 533.40 284.7 533.52 283.9 533.64 285.3 533.76 286.7 533.88 286.7 534.00 285.1 534.12 286.1 534.24 286.7 534.36 284.8 534.48 285.1 534.60 285.8 534.72 284.7 534.84 284.2 534.96 283.9 535.08 284.8 535.20 284.0 535.32 285.7 535.44 284.4 535.56 286.5 535.68 286.2 535.80 283.3 535.92 286.1" stroke="#ff0000" />
<path d="M90.00 252.6 90.12 253.2 90.24 252.7 90.36 252.2 90.48 252.4 90.60 251.7 90.72 251.9 90.84 251.8 90.96 251.4 91.08 251.4 91.20 250.7 91.32 251.2 91.44 250.6 91.56 251.5 91.68 251.6 91.80 251.9 91.92 251.5 92.04 253.1 92.16 251.9 92.28 252.2 92.40 251.9 92.52 253.0 92.64 252.3 92.76 253.1 92.88 252.4 93.00 253.1 93.12 252.8 93.24 253.4 93.36 252.8 93.48 252.6 93.60 253.2 93.72 252.5 93.84 252.6 93.96 253.3 94.08 252.2 94.20 253.3 94.32 252.8 94.44 252.6 94.56 253.1 94.68 253.2 94.80 252.7 94.92 252.9 95.04 253.3 95.16 253.3 95.28 253.0 95.40 252.7 95.52 252.6 95.64 252.7 95.76 253.3 95.88 253.2 96.00 253.1 96.12 253.4 96.24 252.5 96.36 252.3 96.48 252.1 96.60 252.9 96.72 251.0 96.84 251.8 96.96 251.7 97.08 251.6 97.20 252.7 97.32 252.3 97.44 252.3 97.56 251.7 97.68 252.4 97.80 252.1 97.92 252.4 98.04 252.6 98.16 252.4 98.28 253.0 98.40 253.6 98.52 253.4 98.64 253.1 98.76 252.2 98.88 253.5 99.00 253.4 99.12 252.9 99.24 252.8 99.36 253.3 99.48 252.6 99.60 253.3 99.72 252.5 99.84 252.6 99.96 253.0 100.08 252.4 100.20 253.0 100.32 253.2 100.44 252.4 100.56 253.4 100.68 252.8 100.80 253.2 100.92 253.1 101.04 252.8 101.16 252.8 101.28 252.3 101.40 252.7 101.52 252.7 101.64 253.7 101.76 253.4 101.88 252.4 102.00 253.3 102.12 253.1 102.24 252.8 102.36 253.2 102.48 253.3 102.60 252.8 102.72 252.9 102.84 253.1 102.96 252.6 103.08 253.1 103.20 253.0 103.32 252.7 103.44 252.6 103.56 253.1 103.68 253.4 103.80 253.1 103.92 252.6 104.04 252.4 104.16 249.6 104.28 247.2 104.40 244.8 104.52 240.4 104.64 239.3 104.76 237.3 104.88 235.6 105.00 238.5 105.12 235.6 105.24 230.3 105.36 232.2 105.48 229.4 105.60 231.4 105.72 229.5 105.84 228.8 105.96 229.0 106.08 229.0 106.20 228.2 106.32 227.5 106.44 227.3 106.56 227.9 106.68 225.2 106.80 226.5 106.92 226.0 107.04 225.2 107.16 226.9 107.28 223.8 107.40 225.0 107.52 224.1 107.64 226.1 107.76 224.4 107.88 225.0 108.00 225.4 108.12 222.3 108.24 225.2 108.36 223.3 108.48 223.9 108.60 224.0 108.72 225.2 108.84 224.9 108.96 226.3 109.08 223.8 109.20 222.7 109.32 222.6 109.44 224.1 109.56 225.4 109.68 223.4 109.80 221.9 109.92 223.0 110.04 222.9 110.16 222.7 110.28 221.6 110.40 219.6 110.52 222.1 110.64 224.5 110.76 223.3 110.88 219.9 111.00 223.2 111.12 220.5 111.24 226.2 111.36 223.7 111.48 221.7 111.60 224.7 111.72 222.5 111.84 224.6 111.96 223.8 112.08 222.2 112.20 224.9 112.32 222.1 112.44 226.1 112.56 224.3 112.68 222.8 112.80 221.7 112.92 226.8 113.04 226.6 113.16 222.7 113.28 227.0 113.40 224.9 113.52 224.4 113.64 224.7 113.76 224.5 113.88 227.0 114.00 225.2 114.12 222.4 114.24 228.2 114.36 226.5 114.48 223.7 114.60 224.8 114.72 224.0 114.84 225.5 114.96 226.1 115.08 225.9 115.20 224.7 115.32 224.5 115.44 227.0 115.56 225.6 115.68 229.0 115.80 224.7 115.92 227.1 116.04 226.1 116.16 225.0 116.28 228.1 116.40 226.4 116.52 225.0 116.64 225.9 116.76 227.9 116.88 224.7 117.00 228.5 117.12 227.6 117.24 226.2 117.36 228.7 117.48 229.3 117.60 227.7 117.72 227.1 117.84 229.6 117.96 229.2 118.08 225.7 118.20 226.8 118.32 226.8 118.44 226.6 118.56 225.0 118.68 228.6 118.80 227.4 118.92 227.5 119.04 229.5 119.16 226.6 119.28 227.4 119.40 228.0 119.52 227.0 119.64 227.5 119.76 228.8 119.88 227.7 120.00 229.7 120.12 226.8 120.24 228.2 120.36 225.9 120.48 227.8 120.60 227.0 120.72 230.1 120.84 229.2 120.96 228.9 121.08 230.9 121.20 230.4 121.32 229.4 121.44 227.4 121.56 226.3 121.68 228.4 121.80 228.0 121.92 227.6 122.04 228.2 122.16 226.3 122.28 230.9 122.40 227.1 122.52 227.8 122.64 229.7 122.76 226.5 122.88 230.3 123.00 230.4 123.12 228.6 123.24 227.5 123.36 228.4 123.48 226.4 123.60 231.1 123.72 229.2 123.84 228.0 123.96 227.8 124.08 230.0 124.20 231.3 124.32 227.3 124.44 228.3 124.56 226.6 124.68 230.2 124.80 229.4 124.92 232.3 125.04 229.1 125.16 228.6 125.28 228.2 125.40 230.5 125.52 226.9 125.64 230.4 125.76 229.7 125.88 228.6 126.00 228.0 126.12 230.9 126.24 232.0 126.36 228.7 126.48 230.1 126.60 231.9 126.72 228.5 126.84 229.0 126.96 227.7 127.08 229.2 127.20 229.3 127.32 228.9 127.44 228.4 127.56 227.2 127.68 227.6 127.80 228.1 127.92 230.4 128.04 228.8 128.16 228.3 128.28 230.5 128.40 230.4 128.52 228.5 128.64 228.7 128.76 230.5 128.88 230.1 129.00 228.4 129.12 230.0 129.24 229.6 129.36 231.2 129.48 228.4 129.60 230.9 129.72 230.3 129.84 228.2 129.96 231.2 130.08 231.0 130.20 227.8 130.32 232.5 130.44 228.1 130.56 228.4 130.68 229.3 130.80 230.8 130.92 230.6 131.04 229.6 131.16 231.7 131.28 230.3 131.40 231.7 131.52 232.7 131.64 230.0 131.76 226.8 131.88 229.1 132.00 228.2 132.12 229.9 132.24 229.9 132.36 228.0 132.48 228.2 132.60 229.4 132.72 229.5 132.84 226.8 132.96 231.2 133.08 229.8 133.20 229.8 133.32 230.2 133.44 228.4 133.56 229.7 133.68 231.3 133.80 231.3 133.92 230.4 134.04 229.4 134.16 228.6 134.28 231.6 134.40 230.5 134.52 229.1 134.64 226.8 134.76 228.5 134.88 227.0 135.00 231.4 135.12 229.9 135.24 228.6 135.36 229.2 135.48 232.5 135.60 231.3 135.72 227.7 135.84 229.4 135.96 227.8 136.08 227.1 136.20 229.7 136.32 232.3 136.44 231.6 136.56 229.5 136.68 228.9 136.80 229.7 136.92 230.8 137.04 227.3 137.16 226.7 137.28 231.8 137.40 229.6 137.52 231.4 137.64 229.5 137.76 231.2 137.88 228.3 138.00 229.8 138.12 231.1 138.24 230.4 138.36 228.4 138.48 230.1 138.60 228.0 138.72 227.0 138.84 229.5 138.96 230.6 139.08 229.9 139.20 227.0 139.32 229.8 139.44 229.5 139.56 227.9 139.68 225.8 139.80 229.7 139.92 229.5 140.04 229.0 140.16 226.0 140.28 226.3 140.40 229.4 140.52 229.1 140.64 228.6 140.76 227.5 140.88 228.2 141.00 226.9 141.12 227.0 141.24 226.2 141.36 227.5 141.48 226.5 141.60 228.0 141.72 227.6 141.84 225.6 141.96 228.6 142.08 224.9 142.20 226.6 142.32 227.1 142.44 227.2 142.56 223.2 142.68 226.5 142.80 226.5 142.92 226.5 143.04 222.4 143.16 223.7 143.28 224.1 143.40 223.5 143.52 225.2 143.64 222.8 143.76 224.6 143.88 223.6 144.00 221.2 144.12 221.4 144.24 221.6 144.36 221.9 144.48 222.5 144.60 220.9 144.72 221.7 144.84 218.9 144.96 218.1 145.08 219.3 145.20 219.6 145.32 218.4 145.44 217.3 145.56 218.1 145.68 218.8 145.80 216.5 145.92 215.4 146.04 214.7 146.16 216.2 146.28 213.9 146.40 213.6 146.52 213.1 146.64 212.1 146.76 209.6 146.88 209.8 147.00 208.5 147.12 206.9 147.24 205.8 147.36 203.3 147.48 201.8 147.60 199.7 147.72 198.2 147.84 195.2 147.96 193.2 148.08 189.8 148.20 187.2 148.32 183.9 148.44 180.4 148.56 176.6 148.68 172.3 148.80 167.8 148.92 162.4 149.04 158.0 149.16 151.9 149.28 146.0 149.40 139.6 149.52 133.3 149.64 125.9 149.76 118.9 149.88 111.5 150.00 103.9 150.12 96.0 150.24 88.2 150.36 80.3 150.48 73.4 150.60 66.5 150.72 60.3 150.84 54.9 150.96 50.5 151.08 47.3 151.20 45.6 151.32 45.2 151.44 45.8 151.56 48.4 151.68 51.8 151.80 56.6 151.92 62.2 152.04 68.7 152.16 75.7 152.28 83.1 152.40 90.4 152.52 98.5 152.64 106.2 152.76 113.6 152.88 121.4 153.00 128.1 153.12 135.5 153.24 142.3 153.36 148.0 153.48 154.2 153.60 159.6 153.72 164.8 153.84 169.0 153.96 174.1 154.08 178.0 154.20 182.0 154.32 185.2 154.44 188.8 154.56 191.3 154.68 194.2 154.80 196.9 154.92 198.6 155.04 201.0 155.16 202.5 155.28 204.4 155.40 205.3 155.52 207.6 155.64 209.2 155.76 209.6 155.88 211.3 156.00 212.1 156.12 211.9 156.24 213.8 156.36 215.4 156.48 214.8 156.60 214.4 156.72 216.7 156.84 216.6 156.96 219.4 157.08 218.3 157.20 218.8 157.32 218.8 157.44 220.1 157.56 219.8 157.68 219.9 157.80 221.1 157.92 220.8 158.04 223.2 158.16 221.1 158.28 222.6 158.40 222.3 158.52 221.9 158.64 225.4 158.76 221.8 158.88 225.8 159.00 223.0 159.12 224.9 159.24 227.3 159.36 223.1 159.48 224.1 159.60 227.3 159.72 226.3 159.84 225.7 159.96 226.5 160.08 225.7 160.20 227.1 160.32 229.0 160.44 227.0 160.56 227.8 160.68 229.2 160.80 230.4 160.92 227.5 161.04 228.8 161.16 227.9 161.28 228.0 161.40 228.4 161.52 228.3 161.64 227.1 161.76 226.9 161.88 228.5 162.00 229.6 162.12 231.0 162.24 228.8 162.36 229.3 162.48 230.4 162.60 230.5 162.72 229.4 162.84 229.5 162.96 232.0 163.08 229.2 163.20 229.0 163.32 227.5 163.44 230.2 163.56 229.3 163.68 232.2 163.80 229.3 163.92 230.8 164.04 230.9 164.16 231.9 164.28 228.0 164.40 231.8 164.52 229.7 164.64 229.5 164.76 229.3 164.88 229.1 165.00 229.2 165.12 226.8 165.24 230.3 165.36 229.7 165.48 228.3 165.60 229.5 165.72 232.3 165.84 230.1 165.96 229.0 166.08 231.9 166.20 228.4 166.32 229.3 166.44 228.7 166.56 229.2 166.68 230.5 166.80 230.2 166.92 228.4 167.04 229.2 167.16 229.5 167.28 228.8 167.40 229.3 167.52 228.3 167.64 228.3 167.76 229.3 167.88 227.8 168.00 229.8 168.12 228.9 168.24 227.9 168.36 228.3 168.48 228.4 168.60 228.8 168.72 229.2 168.84 228.7 168.96 227.8 169.08 231.0 169.20 230.2 169.32 229.0 169.44 230.2 169.56 229.3 169.68 228.4 169.80 228.9 169.92 231.6 170.04 230.1 170.16 230.2 170.28 228.1 170.40 229.5 170.52 231.5 170.64 229.1 170.76 230.0 170.88 230.3 171.00 229.4 171.12 230.7 171.24 228.7 171.36 229.0 171.48 227.4 171.60 231.2 171.72 228.7 171.84 228.4 171.96 230.2 172.08 227.5 172.20 228.2 172.32 227.0 172.44 228.2 172.56 227.6 172.68 228.9 172.80 227.9 172.92 227.2 173.04 227.6 173.16 227.8 173.28 227.2 173.40 229.3 173.52 228.9 173.64 228.1 173.76 226.1 173.88 228.6 174.00 226.0 174.12 228.1 174.24 227.8 174.36 226.9 174.48 226.5 174.60 226.7 174.72 230.7 174.84 227.3 174.96 227.3 175.08 229.0 175.20 228.2 175.32 229.1 175.44 225.7 175.56 225.9 175.68 230.5 175.80 227.4 175.92 227.0 176.04 227.6 176.16 228.8 176.28 225.6 176.40 227.7 176.52 227.2 176.64 228.2 176.76 227.5 176.88 226.4 177.00 225.9 177.12 224.1 177.24 228.6 177.36 224.9 177.48 226.5 177.60 229.5 177.72 226.4 177.84 227.9 177.96 226.6 178.08 227.9 178.20 226.9 178.32 226.1 178.44 228.8 178.56 226.4 178.68 224.8 178.80 226.3 178.92 227.5 179.04 225.1 179.16 227.8 179.28 227.8 179.40 229.6 179.52 225.6 179.64 227.5 179.76 224.1 179.88 225.9 180.00 226.6 180.12 227.0 180.24 226.3 180.36 226.2 180.48 225.4 180.60 225.7 180.72 226.7 180.84 227.1 180.96 227.2 181.08 227.7 181.20 227.9 181.32 223.5 181.44 225.3 181.56 225.8 181.68 225.1 181.80 227.5 181.92 227.1 182.04 225.8 182.16 226.1 182.28 227.7 182.40 225.3 182.52 225.4 182.64 227.1 182.76 226.5 182.88 227.8 183.00 226.2 183.12 226.8 183.24 224.8 183.36 224.2 183.48 225.6 183.60 222.4 183.72 226.1 183.84 226.9 183.96 225.5 184.08 225.1 184.20 226.9 184.32 225.2 184.44 226.7 184.56 228.3 184.68 226.2 184.80 226.5 184.92 225.8 185.04 225.4 185.16 225.4 185.28 225.1 185.40 226.5 185.52 222.5 185.64 224.5 185.76 225.8 185.88 223.5 186.00 224.6 186.12 223.7 186.24 225.3 186.36 225.9 186.48 226.7 186.60 225.3 186.72 223.4 186.84 224.8 186.96 225.2 187.08 226.4 187.20 221.2 187.32 224.8 187.44 221.5 187.56 225.2 187.68 224.8 187.80 224.8 187.92 225.4 188.04 224.6 188.16 223.0 188.28 224.5 188.40 225.7 188.52 223.7 188.64 223.9 188.76 222.0 188.88 225.4 189.00 222.9 189.12 222.5 189.24 222.9 189.36 222.3 189.48 223.1 189.60 225.3 189.72 224.6 189.84 225.5 189.96 225.5 190.08 222.0 190.20 224.0 190.32 225.4 190.44 226.2 190.56 221.0 190.68 221.0 190.80 223.7 190.92 222.5 191.04 221.5 191.16 223.5 191.28 221.7 191.40 219.7 191.52 222.7 191.64 222.9 191.76 223.6 191.88 224.0 192.00 222.9 192.12 222.2 192.24 221.5 192.36 220.0 192.48 221.8 192.60 223.8 192.72 223.3 192.84 225.3 192.96 222.0 193.08 219.6 193.20 223.3 193.32 223.6 193.44 220.3 193.56 219.6 193.68 222.2 193.80 222.9 193.92 220.2 194.04 221.3 194.16 220.6 194.28 220.0 194.40 219.7 194.52 221.8 194.64 221.0 194.76 220.5 194.88 218.3 195.00 223.9 195.12 219.9 195.24 221.0 195.36 219.5 195.48 221.6 195.60 218.8 195.72 221.1 195.84 220.6 195.96 222.2 196.08 219.2 196.20 219.8 196.32 220.3 196.44 223.6 196.56 218.4 196.68 220.9 196.80 219.4 196.92 220.8 197.04 221.2 197.16 220.4 197.28 220.5 197.40 220.5 197.52 219.2 197.64 219.6 197.76 217.5 197.88 219.3 198.00 218.6 198.12 219.3 198.24 220.7 198.36 220.1 198.48 220.1 198.60 221.0 198.72 216.3 198.84 219.9 198.96 219.2 199.08 219.0 199.20 217.2 199.32 219.8 199.44 220.6 199.56 220.3 199.68 218.7 199.80 219.6 199.92 219.9 200.04 221.1 200.16 220.2 200.28 218.6 200.40 218.5 200.52 218.5 200.64 218.5 200.76 217.4 200.88 219.1 201.00 217.0 201.12 216.7 201.24 218.3 201.36 216.9 201.48 217.3 201.60 214.7 201.72 218.6 201.84 217.4 201.96 217.1 202.08 217.8 202.20 217.4 202.32 216.1 202.44 219.7 202.56 216.2 202.68 218.1 202.80 219.2 202.92 215.7 203.04 216.6 203.16 215.3 203.28 217.7 203.40 215.7 203.52 214.6 203.64 217.7 203.76 217.1 203.88 214.6 204.00 217.2 204.12 215.8 204.24 218.1 204.36 217.5 204.48 214.4 204.60 214.7 204.72 213.7 204.84 214.9 204.96 214.7 205.08 215.4 205.20 214.4 205.32 212.3 205.44 213.0 205.56 215.6 205.68 215.1 205.80 213.3 205.92 213.2 206.04 213.0 206.16 213.0 206.28 210.8 206.40 213.6 206.52 211.6 206.64 212.3 206.76 209.5 206.88 211.9 207.00 212.9 207.12 208.8 207.24 212.6 207.36 211.1 207.48 209.5 207.60 208.2 207.72 210.8 207.84 209.5 207.96 209.4 208.08 208.1 208.20 207.2 208.32 208.4 208.44 206.1 208.56 207.3 208.68 204.4 208.80 204.5 208.92 203.4 209.04 205.1 209.16 201.7 209.28 201.4 209.40 202.0 209.52 200.7 209.64 201.0 209.76 199.6 209.88 197.5 210.00 196.2 210.12 193.1 210.24 192.1 210.36 190.7 210.48 188.9 210.60 186.2 210.72 184.3 210.84 181.9 210.96 180.3 211.08 177.3 211.20 174.2 211.32 171.3 211.44 168.6 211.56 165.4 211.68 162.8 211.80 159.8 211.92 158.4 212.04 156.9 212.16 155.7 212.28 155.4 212.40 155.6 212.52 157.1 212.64 158.1 212.76 159.6 212.88 162.1 213.00 165.4 213.12 168.5 213.24 171.3 213.36 174.3 213.48 176.9 213.60 178.9 213.72 181.9 213.84 183.8 213.96 186.8 214.08 188.4 214.20 191.2 214.32 192.8 214.44 193.4 214.56 196.6 214.68 198.1 214.80 197.9 214.92 200.2 215.04 201.7 215.16 202.0 215.28 203.8 215.40 204.2 215.52 205.8 215.64 205.8 215.76 206.1 215.88 207.4 216.00 208.3 216.12 208.4 216.24 208.2 216.36 208.4 216.48 209.3 216.60 209.5 216.72 210.8 216.84 211.1 216.96 211.2 217.08 211.7 217.20 212.2 217.32 214.1 217.44 214.0 217.56 212.3 217.68 213.7 217.80 213.2 217.92 213.7 218.04 213.8 218.16 213.5 218.28 212.9 218.40 212.2 218.52 215.2 218.64 216.7 218.76 214.3 218.88 216.2 219.00 215.2 219.12 216.2 219.24 215.0 219.36 215.8 219.48 216.1 219.60 213.7 219.72 216.7 219.84 216.4 219.96 214.0 220.08 217.6 220.20 216.8 220.32 217.3 220.44 217.6 220.56 216.6 220.68 215.8 220.80 216.7 220.92 216.9 221.04 220.4 221.16 220.1 221.28 217.0 221.40 217.2 221.52 218.3 221.64 218.7 221.76 217.0 221.88 216.7 222.00 220.8 222.12 219.7 222.24 216.1 222.36 215.8 222.48 217.2 222.60 218.8 222.72 219.3 222.84 218.1 222.96 216.3 223.08 219.0 223.20 219.6 223.32 218.8 223.44 218.2 223.56 219.7 223.68 218.9 223.80 217.4 223.92 219.2 224.04 217.3 224.16 220.6 224.28 219.9 224.40 217.8 224.52 219.6 224.64 221.2 224.76 216.5 224.88 219.3 225.00 221.9 225.12 217.3 225.24 219.4 225.36 217.6 225.48 219.6 225.60 216.8 225.72 217.4 225.84 219.1 225.96 220.1 226.08 220.5 226.20 220.6 226.32 221.7 226.44 221.1 226.56 221.2 226.68 218.7 226.80 220.0 226.92 223.4 227.04 223.4 227.16 221.6 227.28 221.5 227.40 221.9 227.52 219.9 227.64 223.5 227.76 220.0 227.88 220.5 228.00 223.8 228.12 217.7 228.24 221.3 228.36 218.2 228.48 219.8 228.60 220.7 228.72 220.4 228.84 221.2 228.96 219.8 229.08 220.8 229.20 219.2 229.32 220.5 229.44 219.0 229.56 222.2 229.68 219.2 229.80 222.3 229.92 220.6 230.04 220.9 230.16 223.1 230.28 221.6 230.40 218.5 230.52 222.2 230.64 218.5 230.76 221.9 230.88 221.0 231.00 219.5 231.12 221.8 231.24 221.2 231.36 224.8 231.48 221.1 231.60 224.8 231.72 224.0 231.84 220.9 231.96 220.7 232.08 224.0 232.20 221.8 232.32 222.3 232.44 221.7 232.56 220.2 232.68 221.5 232.80 220.7 232.92 219.8 233.04 221.8 233.16 225.0 233.28 224.8 233.40 222.2 233.52 222.6 233.64 223.2 233.76 224.5 233.88 223.0 234.00 221.8 234.12 221.9 234.24 224.3 234.36 225.7 234.48 221.6 234.60 219.5 234.72 223.9 234.84 222.6 234.96 222.9 235.08 224.6 235.20 222.9 235.32 220.7 235.44 219.7 235.56 222.8 235.68 221.0 235.80 223.3 235.92 220.9 236.04 222.4 236.16 220.7 236.28 222.4 236.40 222.3 236.52 224.0 236.64 225.1 236.76 222.8 236.88 221.8 237.00 226.2 237.12 223.7 237.24 224.1 237.36 224.2 237.48 225.5 237.60 224.8 237.72 224.3 237.84 224.5 237.96 222.0 238.08 222.4 238.20 223.2 238.32 223.5 238.44 223.4 238.56 223.9 238.68 223.5 238.80 222.8 238.92 221.0 239.04 224.9 239.16 224.5 239.28 222.2 239.40 224.4 239.52 224.3 239.64 223.8 239.76 220.8 239.88 221.8 240.00 222.8 240.12 226.3 240.24 222.4 240.36 223.3 240.48 222.1 240.60 223.1 240.72 224.4 240.84 220.8 240.96 220.8 241.08 225.0 241.20 224.0 241.32 223.0 241.44 225.5 241.56 225.6 241.68 221.0 241.80 223.8 241.92 225.9 242.04 223.1 242.16 223.7 242.28 225.7 242.40 223.8 242.52 222.3 242.64 223.2 242.76 222.2 242.88 225.2 243.00 221.6 243.12 225.9 243.24 221.8 243.36 224.5 243.48 222.1 243.60 223.9 243.72 226.1 243.84 226.3 243.96 226.6 244.08 224.4 244.20 224.7 244.32 224.9 244.44 225.6 244.56 224.0 244.68 226.4 244.80 225.2 244.92 226.5 245.04 225.5 245.16 225.8 245.28 223.6 245.40 224.1 245.52 222.8 245.64 224.4 245.76 224.6 245.88 226.2 246.00 222.9 246.12 228.1 246.24 224.8 246.36 227.0 246.48 226.6 246.60 221.9 246.72 224.6 246.84 227.4 246.96 222.0 247.08 226.3 247.20 223.7 247.32 224.4 247.44 225.5 247.56 222.2 247.68 225.5 247.80 224.2 247.92 224.1 248.04 226.4 248.16 228.5 248.28 225.9 248.40 226.2 248.52 225.3 248.64 224.3 248.76 225.8 248.88 227.9 249.00 225.8 249.12 226.9 249.24 225.2 249.36 228.8 249.48 223.0 249.60 226.5 249.72 226.5 249.84 226.1 249.96 223.9 250.08 223.9 250.20 225.3 250.32 225.9 250.44 223.8 250.56 224.1 250.68 226.7 250.80 227.4 250.92 224.9 251.04 224.7 251.16 224.7 251.28 229.1 251.40 226.7 251.52 225.8 251.64 227.6 251.76 229.2 251.88 227.9 252.00 223.8 252.12 225.9 252.24 225.4 252.36 225.6 252.48 224.2 252.60 225.5 252.72 224.5 252.84 226.8 252.96 226.3 253.08 224.1 253.20 223.6 253.32 225.6 253.44 227.5 253.56 227.2 253.68 226.4 253.80 223.4 253.92 225.8 254.04 225.4 254.16 226.1 254.28 224.8 254.40 226.0 254.52 225.7 254.64 230.1 254.76 228.0 254.88 226.6 255.00 226.9 255.12 226.8 255.24 227.3 255.36 226.4 255.48 227.1 255.60 228.8 255.72 228.5 255.84 227.7 255.96 229.4 256.08 227.7 256.20 225.8 256.32 224.6 256.44 226.3 256.56 227.4 256.68 228.1 256.80 229.3 256.92 226.7 257.04 226.3 257.16 228.9 257.28 229.6 257.40 227.0 257.52 228.3 257.64 230.0 257.76 228.4 257.88 227.8 258.00 224.8 258.12 230.1 258.24 229.1 258.36 228.3 258.48 227.4 258.60 226.2 258.72 228.1 258.84 228.1 258.96 230.1 259.08 226.5 259.20 230.8 259.32 228.6 259.44 230.5 259.56 227.1 259.68 229.2 259.80 230.7 259.92 229.0 260.04 226.5 260.16 228.4 260.28 229.8 260.40 226.8 260.52 226.8 260.64 229.5 260.76 227.7 260.88 230.3 261.00 227.4 261.12 226.4 261.24 228.2 261.36 231.8 261.48 228.1 261.60 229.5 261.72 230.0 261.84 228.2 261.96 231.5 262.08 229.4 262.20 228.8 262.32 224.4 262.44 223.3 262.56 222.0 262.68 223.8 262.80 222.7 262.92 223.2 263.04 223.5 263.16 219.7 263.28 218.7 263.40 219.0 263.52 220.0 263.64 215.5 263.76 217.0 263.88 214.9 264.00 214.0 264.12 215.0 264.24 211.7 264.36 210.5 264.48 212.5 264.60 210.6 264.72 209.5 264.84 208.9 264.96 209.2 265.08 207.6 265.20 209.6 265.32 209.2 265.44 211.0 265.56 210.8 265.68 210.3 265.80 208.8 265.92 209.4 266.04 208.4 266.16 212.7 266.28 209.3 266.40 210.7 266.52 212.1 266.64 207.9 266.76 208.9 266.88 209.7 267.00 208.9 267.12 208.6 267.24 209.9 267.36 213.0 267.48 211.9 267.60 210.6 267.72 210.3 267.84 207.4 267.96 210.9 268.08 210.2 268.20 207.5 268.32 209.3 268.44 208.4 268.56 207.7 268.68 206.7 268.80 206.9 268.92 206.2 269.04 208.2 269.16 207.8 269.28 207.5 269.40 206.4 269.52 205.8 269.64 209.4 269.76 203.0 269.88 207.6 270.00 206.0 270.12 205.8 270.24 205.2 270.36 205.9 270.48 204.7 270.60 204.6 270.72 207.0 270.84 204.8 270.96 209.0 271.08 209.7 271.20 205.1 271.32 206.1 271.44 209.2 271.56 209.4 271.68 209.6 271.80 210.3 271.92 211.1 272.04 211.6 272.16 213.3 272.28 210.8 272.40 212.4 272.52 208.8 272.64 211.4 272.76 210.0 272.88 214.4 273.00 215.7 273.12 213.5 273.24 210.8 273.36 212.9 273.48 213.3 273.60 213.8 273.72 215.5 273.84 215.4 273.96 211.0 274.08 216.5 274.20 213.8 274.32 213.9 274.44 217.2 274.56 214.8 274.68 213.2 274.80 213.5 274.92 215.9 275.04 217.5 275.16 218.6 275.28 216.2 275.40 215.9 275.52 219.5 275.64 216.4 275.76 219.6 275.88 217.9 276.00 218.1 276.12 217.5 276.24 218.6 276.36 217.6 276.48 217.5 276.60 218.5 276.72 217.9 276.84 219.7 276.96 219.5 277.08 219.2 277.20 219.4 277.32 219.5 277.44 222.8 277.56 220.2 277.68 219.4 277.80 220.1 277.92 221.7 278.04 220.5 278.16 220.8 278.28 220.8 278.40 221.6 278.52 222.1 278.64 222.4 278.76 219.2 278.88 220.3 279.00 219.0 279.12 223.6 279.24 224.2 279.36 224.7 279.48 223.0 279.60 224.8 279.72 223.0 279.84 223.1 279.96 221.0 280.08 222.3 280.20 222.8 280.32 225.4 280.44 226.7 280.56 223.5 280.68 225.0 280.80 225.0 280.92 223.5 281.04 222.1 281.16 223.8 281.28 222.9 281.40 224.9 281.52 225.3 281.64 225.4 281.76 225.6 281.88 226.8 282.00 224.7 282.12 227.7 282.24 223.8 282.36 226.8 282.48 227.4 282.60 225.7 282.72 224.6 282.84 228.3 282.96 226.4 283.08 228.9 283.20 229.0 283.32 227.9 283.44 228.1 283.56 229.9 283.68 229.0 283.80 227.1 283.92 229.0 284.04 229.8 284.16 229.4 284.28 229.6 284.40 229.2 284.52 229.4 284.64 228.0 284.76 227.2 284.88 231.2 285.00 228.3 285.12 229.6 285.24 226.8 285.36 229.4 285.48 227.8 285.60 232.3 285.72 227.4 285.84 227.4 285.96 230.4 286.08 230.7 286.20 225.7 286.32 229.2 286.44 230.1 286.56 226.7 286.68 229.7 286.80 227.7 286.92 226.9 287.04 227.9 287.16 227.7 287.28 226.1 287.40 231.5 287.52 227.5 287.64 227.0 287.76 229.5 287.88 228.0 288.00 230.2 288.12 227.6 288.24 228.5 288.36 228.1 288.48 228.1 288.60 227.5 288.72 227.6 288.84 230.4 288.96 226.6 289.08 226.8 289.20 227.1 289.32 228.5 289.44 228.2 289.56 229.0 289.68 225.3 289.80 227.8 289.92 227.1 290.04 226.8 290.16 227.5 290.28 224.1 290.40 227.6 290.52 227.3 290.64 224.8 290.76 226.9 290.88 229.4 291.00 226.3 291.12 227.8 291.24 226.5 291.36 225.5 291.48 225.3 291.60 226.1 291.72 228.7 291.84 227.9 291.96 225.4 292.08 228.1 292.20 226.3 292.32 225.4 292.44 227.3 292.56 225.2 292.68 224.2 292.80 228.8 292.92 223.9 293.04 227.8 293.16 224.6 293.28 227.0 293.40 226.8 293.52 226.5 293.64 224.1 293.76 227.1 293.88 227.3 294.00 226.0 294.12 227.4 294.24 229.1 294.36 226.5 294.48 228.1 294.60 225.9 294.72 228.4 294.84 228.9 294.96 231.2 295.08 229.4 295.20 228.7 295.32 230.3 295.44 226.6 295.56 229.9 295.68 227.4 295.80 227.4 295.92 230.2 296.04 228.9 296.16 230.6 296.28 226.3 296.40 229.1 296.52 227.9 296.64 228.4 296.76 225.9 296.88 230.4 297.00 229.3 297.12 227.5 297.24 227.0 297.36 227.8 297.48 231.5 297.60 229.2 297.72 228.9 297.84 230.2 297.96 229.5 298.08 230.0 298.20 230.8 298.32 230.2 298.44 231.2 298.56 228.0 298.68 230.0 298.80 229.4 298.92 230.2 299.04 230.0 299.16 229.2 299.28 229.7 299.40 231.8 299.52 229.5 299.64 228.5 299.76 231.4 299.88 232.0 300.00 230.2 300.12 230.8 300.24 229.4 300.36 230.4 300.48 232.6 300.60 232.1 300.72 231.2 300.84 230.6 300.96 228.5 301.08 231.6 301.20 231.9 301.32 232.9 301.44 234.5 301.56 232.0 301.68 232.9 301.80 229.8 301.92 233.4 302.04 233.0 302.16 233.8 302.28 232.8 302.40 232.5 302.52 234.2 302.64 230.9 302.76 233.0 302.88 233.7 303.00 230.9 303.12 230.4 303.24 232.9 303.36 232.5 303.48 233.3 303.60 233.4 303.72 231.3 303.84 233.1 303.96 234.3 304.08 232.1 304.20 232.3 304.32 231.0 304.44 234.1 304.56 235.9 304.68 230.8 304.80 234.2 304.92 234.5 305.04 232.3 305.16 232.6 305.28 231.6 305.40 232.1 305.52 233.6 305.64 234.5 305.76 233.7 305.88 234.9 306.00 233.9 306.12 231.9 306.24 236.0 306.36 235.6 306.48 232.8 306.60 236.7 306.72 234.7 306.84 234.3 306.96 237.1 307.08 230.9 307.20 231.7 307.32 235.4 307.44 234.0 307.56 232.9 307.68 236.8 307.80 235.3 307.92 232.6 308.04 233.6 308.16 236.0 308.28 237.5 308.40 231.7 308.52 235.2 308.64 234.3 308.76 232.2 308.88 234.7 309.00 232.4 309.12 234.1 309.24 237.5 309.36 235.8 309.48 236.3 309.60 236.0 309.72 235.7 309.84 236.7 309.96 233.4 310.08 234.7 310.20 236.6 310.32 234.1 310.44 234.6 310.56 237.2 310.68 237.8 310.80 234.5 310.92 234.2 311.04 236.4 311.16 235.9 311.28 234.5 311.40 236.5 311.52 236.4 311.64 235.7 311.76 238.8 311.88 237.8 312.00 237.0 312.12 237.3 312.24 238.9 312.36 237.5 312.48 234.7 312.60 236.4 312.72 236.0 312.84 235.0 312.96 236.3 313.08 236.4 313.20 235.9 313.32 235.3 313.44 237.4 313.56 233.6 313.68 237.4 313.80 236.2 313.92 236.6 314.04 233.0 314.16 238.9 314.28 233.6 314.40 235.0 314.52 237.3 314.64 235.4 314.76 235.8 314.88 233.2 315.00 235.8 315.12 236.8 315.24 237.6 315.36 236.1 315.48 236.9 315.60 237.3 315.72 235.6 315.84 235.5 315.96 239.8 316.08 235.4 316.20 238.7 316.32 236.9 316.44 239.1 316.56 235.8 316.68 237.7 316.80 237.4 316.92 236.6 317.04 237.4 317.16 235.8 317.28 236.9 317.40 236.4 317.52 238.3 317.64 237.0 317.76 235.0 317.88 236.6 318.00 237.0 318.12 235.8 318.24 239.3 318.36 237.9 318.48 238.6 318.60 236.2 318.72 236.8 318.84 239.0 318.96 235.2 319.08 238.0 319.20 237.6 319.32 236.7 319.44 237.7 319.56 235.9 319.68 237.9 319.80 235.6 319.92 235.5 320.04 239.6 320.16 236.3 320.28 234.1 320.40 238.9 320.52 236.1 320.64 234.0 320.76 237.1 320.88 238.7 321.00 237.7 321.12 239.8 321.24 236.9 321.36 238.0 321.48 235.5 321.60 237.3 321.72 239.4 321.84 237.7 321.96 237.2 322.08 233.8 322.20 236.3 322.32 234.8 322.44 238.0 322.56 235.6 322.68 237.3 322.80 235.1 322.92 239.6 323.04 234.8 323.16 236.8 323.28 239.7 323.40 236.9 323.52 235.1 323.64 237.4 323.76 238.0 323.88 237.8 324.00 233.3 324.12 236.7 324.24 233.0 324.36 239.3 324.48 236.4 324.60 235.5 324.72 237.2 324.84 236.9 324.96 234.3 325.08 238.6 325.20 235.7 325.32 233.3 325.44 238.2 325.56 238.4 325.68 237.9 325.80 236.8 325.92 234.5 326.04 237.3 326.16 238.7 326.28 237.1 326.40 238.3 326.52 234.5 326.64 237.3 326.76 237.1 326.88 233.3 327.00 233.0 327.12 234.4 327.24 235.7 327.36 236.2 327.48 235.1 327.60 235.3 327.72 235.2 327.84 235.5 327.96 236.3 328.08 236.1 328.20 235.2 328.32 235.7 328.44 234.5 328.56 236.5 328.68 234.4 328.80 237.8 328.92 235.1 329.04 235.6 329.16 233.9 329.28 234.5 329.40 235.3 329.52 235.0 329.64 234.0 329.76 233.1 329.88 235.0 330.00 235.1 330.12 235.7 330.24 236.8 330.36 234.3 330.48 231.6 330.60 234.5 330.72 231.8 330.84 232.7 330.96 236.3 331.08 235.6 331.20 233.6 331.32 233.6 331.44 234.4 331.56 231.8 331.68 235.3 331.80 233.9 331.92 237.4 332.04 232.8 332.16 236.0 332.28 233.3 332.40 236.0 332.52 232.8 332.64 235.5 332.76 233.6 332.88 232.9 333.00 234.0 333.12 235.0 333.24 234.8 333.36 236.7 333.48 235.4 333.60 230.8 333.72 233.4 333.84 230.9 333.96 233.4 334.08 235.0 334.20 231.8 334.32 232.1 334.44 234.1 334.56 233.4 334.68 236.4 334.80 234.5 334.92 234.8 335.04 236.8 335.16 233.2 335.28 234.0 335.40 232.5 335.52 234.5 335.64 235.8 335.76 236.3 335.88 234.1 336.00 233.1 336.12 233.0 336.24 232.0 336.36 234.4 336.48 236.4 336.60 231.0 336.72 231.0 336.84 236.6 336.96 231.8 337.08 234.9 337.20 232.4 337.32 235.7 337.44 235.7 337.56 234.8 337.68 235.8 337.80 234.6 337.92 235.5 338.04 237.5 338.16 236.4 338.28 233.6 338.40 233.4 338.52 234.3 338.64 234.3 338.76 234.8 338.88 233.8 339.00 235.8 339.12 234.9 339.24 235.4 339.36 234.9 339.48 235.9 339.60 233.0 339.72 237.4 339.84 235.5 339.96 235.7 340.08 236.0 340.20 236.7 340.32 236.2 340.44 235.4 340.56 234.8 340.68 232.5 340.80 235.5 340.92 234.7 341.04 234.7 341.16 238.3 341.28 232.3 341.40 235.4 341.52 237.2 341.64 236.8 341.76 237.3 341.88 233.3 342.00 233.8 342.12 236.4 342.24 235.0 342.36 238.2 342.48 235.8 342.60 235.8 342.72 236.2 342.84 235.1 342.96 235.8 343.08 234.5 343.20 235.6 343.32 234.9 343.44 236.1 343.56 233.4 343.68 233.3 343.80 236.5 343.92 236.1 344.04 234.3 344.16 235.5 344.28 234.2 344.40 238.9 344.52 233.4 344.64 238.6 344.76 234.6 344.88 236.6 345.00 235.6 345.12 235.4 345.24 237.5 345.36 237.4 345.48 235.6 345.60 234.6 345.72 239.2 345.84 238.4 345.96 236.4 346.08 235.7 346.20 236.6 346.32 236.3 346.44 238.0 346.56 234.6 346.68 236.1 346.80 234.9 346.92 238.2 347.04 239.0 347.16 236.0 347.28 237.0 347.40 238.3 347.52 235.6 347.64 234.6 347.76 237.7 347.88 236.9 348.00 235.7 348.12 238.4 348.24 236.5 348.36 233.2 348.48 236.6 348.60 236.0 348.72 239.1 348.84 236.0 348.96 235.7 349.08 236.7 349.20 236.4 349.32 233.8 349.44 236.2 349.56 235.5 349.68 238.3 349.80 239.1 349.92 234.2 350.04 234.5 350.16 234.7 350.28 235.0 350.40 234.9 350.52 236.1 350.64 237.7 350.76 233.9 350.88 233.5 351.00 233.1 351.12 237.8 351.24 238.1 351.36 233.5 351.48 233.4 351.60 236.2 351.72 237.7 351.84 237.6 351.96 236.3 352.08 237.1 352.20 236.5 352.32 235.1 352.44 239.0 352.56 236.0 352.68 234.2 352.80 235.2 352.92 233.5 353.04 236.0 353.16 237.7 353.28 233.9 353.40 237.7 353.52 239.0 353.64 236.5 353.76 234.1 353.88 234.6 354.00 235.4 354.12 233.9 354.24 233.9 354.36 235.5 354.48 235.6 354.60 236.9 354.72 234.0 354.84 238.9 354.96 237.6 355.08 237.3 355.20 234.8 355.32 238.7 355.44 235.3 355.56 238.8 355.68 237.6 355.80 234.4 355.92 235.1 356.04 238.9 356.16 237.5 356.28 235.6 356.40 236.2 356.52 236.2 356.64 234.7 356.76 235.6 356.88 234.9 357.00 235.3 357.12 236.7 357.24 234.5 357.36 237.2 357.48 236.2 357.60 237.3 357.72 237.5 357.84 238.1 357.96 237.1 358.08 237.2 358.20 235.8 358.32 237.0 358.44 234.7 358.56 235.8 358.68 237.4 358.80 236.1 358.92 236.9 359.04 234.5 359.16 238.4 359.28 235.3 359.40 236.9 359.52 236.3 359.64 237.8 359.76 235.7 359.88 234.7 360.00 233.3 360.12 235.9 360.24 234.5 360.36 237.3 360.48 238.7 360.60 233.1 360.72 234.4 360.84 237.0 360.96 238.5 361.08 237.0 361.20 237.0 361.32 237.4 361.44 237.5 361.56 239.2 361.68 237.6 361.80 234.6 361.92 235.9 362.04 237.0 362.16 235.4 362.28 236.3 362.40 235.9 362.52 235.6 362.64 237.8 362.76 236.1 362.88 235.0 363.00 235.6 363.12 236.9 363.24 239.9 363.36 237.2 363.48 239.2 363.60 237.7 363.72 233.5 363.84 237.5 363.96 235.5 364.08 234.8 364.20 235.2 364.32 239.8 364.44 234.4 364.56 236.0 364.68 238.9 364.80 238.1 364.92 234.3 365.04 236.9 365.16 236.2 365.28 236.8 365.40 238.3 365.52 236.2 365.64 236.6 365.76 239.5 365.88 234.3 366.00 236.7 366.12 238.1 366.24 235.4 366.36 236.4 366.48 235.3 366.60 237.8 366.72 236.5 366.84 238.9 366.96 239.3 367.08 237.8 367.20 237.1 367.32 238.2 367.44 237.9 367.56 235.9 367.68 239.6 367.80 238.3 367.92 239.3 368.04 235.9 368.16 239.5 368.28 241.2 368.40 239.2 368.52 235.9 368.64 238.4 368.76 238.3 368.88 238.7 369.00 238.1 369.12 239.3 369.24 237.8 369.36 239.0 369.48 237.5 369.60 238.8 369.72 240.3 369.84 238.0 369.96 239.9 370.08 237.4 370.20 238.3 370.32 238.6 370.44 241.0 370.56 237.8 370.68 241.1 370.80 236.8 370.92 238.9 371.04 240.7 371.16 240.4 371.28 237.7 371.40 237.4 371.52 240.8 371.64 237.4 371.76 240.5 371.88 238.7 372.00 239.6 372.12 242.7 372.24 242.2 372.36 241.1 372.48 237.6 372.60 240.4 372.72 240.0 372.84 239.8 372.96 242.2 373.08 237.3 373.20 240.6 373.32 240.3 373.44 239.0 373.56 243.0 373.68 238.2 373.80 240.4 373.92 240.5 374.04 237.1 374.16 238.1 374.28 238.9 374.40 241.8 374.52 242.1 374.64 241.6 374.76 241.1 374.88 237.4 375.00 241.1 375.12 240.0 375.24 242.8 375.36 243.1 375.48 244.0 375.60 242.2 375.72 242.4 375.84 239.4 375.96 241.3 376.08 239.2 376.20 242.7 376.32 239.4 376.44 241.0 376.56 240.1 376.68 240.7 376.80 242.2 376.92 240.6 377.04 241.9 377.16 240.0 377.28 243.9 377.40 240.7 377.52 243.4 377.64 244.9 377.76 238.5 377.88 240.3 378.00 241.6 378.12 243.8 378.24 241.1 378.36 242.5 378.48 240.7 378.60 242.8 378.72 240.0 378.84 243.3 378.96 238.6 379.08 238.9 379.20 244.9 379.32 242.2 379.44 240.5 379.56 245.0 379.68 243.6 379.80 243.8 379.92 241.2 380.04 242.9 380.16 242.7 380.28 239.2 380.40 242.9 380.52 241.6 380.64 244.0 380.76 244.0 380.88 240.9 381.00 240.9 381.12 242.2 381.24 243.0 381.36 241.2 381.48 241.7 381.60 242.9 381.72 242.6 381.84 243.8 381.96 242.3 382.08 240.5 382.20 239.0 382.32 243.2 382.44 241.4 382.56 241.3 382.68 241.4 382.80 239.3 382.92 241.3 383.04 238.6 383.16 241.3 383.28 240.4 383.40 244.9 383.52 242.6 383.64 241.6 383.76 242.2 383.88 243.1 384.00 240.7 384.12 241.5 384.24 241.3 384.36 245.0 384.48 242.0 384.60 238.7 384.72 243.2 384.84 245.0 384.96 240.3 385.08 245.0 385.20 241.8 385.32 243.5 385.44 241.0 385.56 241.5 385.68 239.9 385.80 240.2 385.92 238.6 386.04 243.8 386.16 240.0 386.28 242.5 386.40 242.4 386.52 240.8 386.64 242.0 386.76 241.7 386.88 241.1 387.00 242.0 387.12 242.0 387.24 240.2 387.36 239.8 387.48 240.5 387.60 242.1 387.72 244.2 387.84 244.3 387.96 242.4 388.08 243.5 388.20 242.1 388.32 243.7 388.44 242.1 388.56 242.5 388.68 241.4 388.80 241.9 388.92 245.0 389.04 239.9 389.16 241.9 389.28 240.9 389.40 243.5 389.52 244.9 389.64 241.4 389.76 238.6 389.88 242.9 390.00 242.9 390.12 239.1 390.24 241.5 390.36 241.8 390.48 238.6 390.60 243.0 390.72 242.6 390.84 242.3 390.96 240.1 391.08 240.7 391.20 240.8 391.32 242.7 391.44 240.3 391.56 244.3 391.68 242.5 391.80 238.6 391.92 244.7 392.04 242.1 392.16 240.9 392.28 242.0 392.40 238.7 392.52 242.0 392.64 238.4 392.76 239.9 392.88 243.8 393.00 243.6 393.12 240.9 393.24 239.9 393.36 243.0 393.48 241.3 393.60 241.7 393.72 242.4 393.84 239.5 393.96 242.5 394.08 237.9 394.20 243.6 394.32 238.5 394.44 240.0 394.56 239.9 394.68 242.2 394.80 242.2 394.92 241.5 395.04 241.8 395.16 241.6 395.28 240.7 395.40 237.6 395.52 237.4 395.64 237.4 395.76 240.5 395.88 240.2 396.00 240.3 396.12 240.9 396.24 240.1 396.36 238.8 396.48 237.9 396.60 237.2 396.72 242.3 396.84 241.8 396.96 238.0 397.08 239.7 397.20 240.9 397.32 242.8 397.44 239.1 397.56 240.3 397.68 241.9 397.80 237.0 397.92 238.7 398.04 239.8 398.16 238.6 398.28 242.9 398.40 241.2 398.52 240.0 398.64 238.1 398.76 241.1 398.88 240.6 399.00 238.7 399.12 238.8 399.24 237.0 399.36 239.3 399.48 240.8 399.60 241.0 399.72 240.3 399.84 240.6 399.96 238.2 400.08 238.4 400.20 241.2 400.32 239.9 400.44 237.7 400.56 239.8 400.68 240.3 400.80 240.0 400.92 238.9 401.04 237.8 401.16 239.3 401.28 241.4 401.40 238.7 401.52 237.2 401.64 238.9 401.76 236.1 401.88 238.5 402.00 237.5 402.12 239.3 402.24 237.6 402.36 238.8 402.48 239.9 402.60 236.1 402.72 234.7 402.84 236.6 402.96 235.3 403.08 235.4 403.20 233.8 403.32 235.4 403.44 234.3 403.56 230.6 403.68 233.0 403.80 233.5 403.92 234.5 404.04 231.1 404.16 230.3 404.28 233.1 404.40 229.7 404.52 230.5 404.64 230.6 404.76 230.6 404.88 229.0 405.00 226.7 405.12 229.9 405.24 227.2 405.36 226.8 405.48 230.5 405.60 228.5 405.72 225.0 405.84 225.6 405.96 225.7 406.08 224.6 406.20 222.3 406.32 226.6 406.44 226.2 406.56 225.0 406.68 223.7 406.80 224.4 406.92 225.5 407.04 223.1 407.16 224.7 407.28 224.7 407.40 227.2 407.52 226.9 407.64 224.7 407.76 226.2 407.88 230.6 408.00 226.4 408.12 228.7 408.24 227.8 408.36 231.3 408.48 229.5 408.60 229.3 408.72 228.4 408.84 230.4 408.96 232.5 409.08 232.7 409.20 229.7 409.32 234.9 409.44 232.3 409.56 231.4 409.68 233.7 409.80 232.8 409.92 233.3 410.04 233.4 410.16 234.1 410.28 233.1 410.40 230.9 410.52 234.3 410.64 232.4 410.76 235.0 410.88 233.6 411.00 233.5 411.12 232.6 411.24 234.2 411.36 231.3 411.48 229.9 411.60 231.9 411.72 227.8 411.84 230.1 411.96 230.8 412.08 229.5 412.20 232.0 412.32 230.8 412.44 229.5 412.56 228.4 412.68 230.6 412.80 227.4 412.92 227.5 413.04 229.2 413.16 228.8 413.28 230.9 413.40 227.3 413.52 224.4 413.64 228.5 413.76 229.3 413.88 226.9 414.00 229.6 414.12 230.2 414.24 226.5 414.36 227.1 414.48 226.1 414.60 229.3 414.72 229.9 414.84 230.0 414.96 227.2 415.08 228.3 415.20 227.4 415.32 227.4 415.44 228.1 415.56 228.1 415.68 230.7 415.80 232.0 415.92 232.7 416.04 231.9 416.16 231.2 416.28 232.6 416.40 233.8 416.52 232.7 416.64 233.6 416.76 233.4 416.88 233.3 417.00 234.6 417.12 232.8 417.24 236.4 417.36 232.2 417.48 235.7 417.60 232.8 417.72 237.6 417.84 236.6 417.96 234.0 418.08 234.7 418.20 233.6 418.32 235.5 418.44 236.4 418.56 239.0 418.68 233.7 418.80 238.0 418.92 235.1 419.04 236.7 419.16 237.7 419.28 237.3 419.40 237.2 419.52 236.3 419.64 236.7 419.76 237.1 419.88 238.9 420.00 234.6 420.12 236.3 420.24 235.1 420.36 235.6 420.48 236.0 420.60 239.2 420.72 240.7 420.84 239.8 420.96 235.7 421.08 237.8 421.20 235.9 421.32 238.6 421.44 240.0 421.56 239.0 421.68 239.5 421.80 237.9 421.92 235.0 422.04 235.1 422.16 238.2 422.28 239.4 422.40 240.6 422.52 238.0 422.64 238.8 422.76 239.2 422.88 240.6 423.00 238.8 423.12 237.2 423.24 240.9 423.36 239.8 423.48 239.9 423.60 237.2 423.72 239.4 423.84 236.6 423.96 236.3 424.08 239.2 424.20 239.0 424.32 240.7 424.44 242.2 424.56 239.9 424.68 242.9 424.80 239.1 424.92 241.4 425.04 238.2 425.16 240.5 425.28 239.9 425.40 240.0 425.52 241.3 425.64 237.2 425.76 240.5 425.88 239.0 426.00 240.5 426.12 240.9 426.24 239.6 426.36 239.6 426.48 238.3 426.60 241.1 426.72 239.0 426.84 240.9 426.96 237.8 427.08 242.3 427.20 238.4 427.32 241.9 427.44 239.3 427.56 240.9 427.68 239.7 427.80 241.1 427.92 239.9 428.04 242.0 428.16 241.0 428.28 241.0 428.40 242.6 428.52 238.7 428.64 241.9 428.76 239.9 428.88 237.3 429.00 240.5 429.12 239.4 429.24 242.5 429.36 238.9 429.48 239.7 429.60 240.0 429.72 236.5 429.84 240.4 429.96 237.9 430.08 241.8 430.20 242.3 430.32 239.5 430.44 236.9 430.56 239.8 430.68 239.7 430.80 240.6 430.92 238.9 431.04 237.4 431.16 239.1 431.28 237.8 431.40 242.2 431.52 238.1 431.64 238.2 431.76 239.2 431.88 237.2 432.00 238.5 432.12 239.0 432.24 238.4 432.36 238.7 432.48 241.1 432.60 239.8 432.72 236.9 432.84 238.3 432.96 240.2 433.08 237.9 433.20 239.1 433.32 238.9 433.44 239.8 433.56 238.6 433.68 238.7 433.80 237.5 433.92 239.4 434.04 237.3 434.16 241.6 434.28 238.8 434.40 238.5 434.52 240.2 434.64 238.8 434.76 239.1 434.88 238.9 435.00 237.9 435.12 237.6 435.24 238.0 435.36 241.0 435.48 238.2 435.60 238.6 435.72 238.6 435.84 240.5 435.96 242.6 436.08 237.9 436.20 240.4 436.32 239.7 436.44 239.0 436.56 240.4 436.68 237.5 436.80 241.0 436.92 240.1 437.04 238.1 437.16 242.4 437.28 241.2 437.40 241.8 437.52 237.5 437.64 239.5 437.76 239.1 437.88 241.0 438.00 242.3 438.12 237.0 438.24 240.2 438.36 240.0 438.48 241.8 438.60 240.2 438.72 238.2 438.84 240.0 438.96 238.7 439.08 239.1 439.20 240.5 439.32 239.7 439.44 241.0 439.56 238.1 439.68 243.8 439.80 242.7 439.92 241.9 440.04 238.6 440.16 237.6 440.28 239.4 440.40 240.5 440.52 244.1 440.64 243.1 440.76 240.1 440.88 243.0 441.00 243.0 441.12 241.1 441.24 243.1 441.36 241.7 441.48 240.1 441.60 239.3 441.72 241.1 441.84 242.9 441.96 239.1 442.08 238.8 442.20 242.3 442.32 238.3 442.44 244.5 442.56 240.8 442.68 242.8 442.80 244.7 442.92 239.3 443.04 240.0 443.16 244.9 443.28 241.3 443.40 241.6 443.52 242.2 443.64 243.6 443.76 244.1 443.88 242.2 444.00 241.5 444.12 242.0 444.24 242.6 444.36 244.3 444.48 242.4 444.60 245.2 444.72 240.9 444.84 243.2 444.96 245.2 445.08 244.5 445.20 243.0 445.32 241.0 445.44 241.3 445.56 242.3 445.68 243.1 445.80 242.2 445.92 240.3 446.04 241.5 446.16 243.6 446.28 244.1 446.40 240.5 446.52 242.3 446.64 240.2 446.76 242.0 446.88 246.2 447.00 243.1 447.12 242.5 447.24 242.1 447.36 241.2 447.48 240.1 447.60 243.1 447.72 242.8 447.84 245.7 447.96 240.7 448.08 244.1 448.20 245.6 448.32 240.2 448.44 244.6 448.56 240.9 448.68 244.4 448.80 246.0 448.92 243.6 449.04 244.2 449.16 242.6 449.28 244.2 449.40 245.7 449.52 243.5 449.64 243.7 449.76 244.6 449.88 245.3 450.00 241.3 450.12 244.1 450.24 242.9 450.36 244.8 450.48 245.6 450.60 244.4 450.72 246.0 450.84 242.3 450.96 243.2 451.08 242.3 451.20 244.0 451.32 244.0 451.44 243.5 451.56 241.8 451.68 243.7 451.80 243.1 451.92 244.8 452.04 243.3 452.16 245.7 452.28 244.1 452.40 240.7 452.52 243.4 452.64 241.4 452.76 245.3 452.88 246.0 453.00 243.6 453.12 244.4 453.24 241.3 453.36 240.4 453.48 242.7 453.60 243.2 453.72 241.1 453.84 243.7 453.96 244.1 454.08 244.6 454.20 246.1 454.32 244.8 454.44 242.9 454.56 243.7 454.68 244.5 454.80 241.7 454.92 245.6 455.04 244.9 455.16 243.0 455.28 242.4 455.40 246.6 455.52 244.7 455.64 244.9 455.76 246.3 455.88 244.9 456.00 243.7 456.12 244.5 456.24 241.8 456.36 244.5 456.48 240.7 456.60 243.9 456.72 244.2 456.84 240.7 456.96 246.4 457.08 241.3 457.20 244.9 457.32 242.3 457.44 243.6 457.56 242.0 457.68 246.2 457.80 244.7 457.92 245.9 458.04 244.2 458.16 244.1 458.28 243.1 458.40 242.5 458.52 243.8 458.64 243.1 458.76 242.5 458.88 240.5 459.00 242.2 459.12 243.7 459.24 241.9 459.36 243.2 459.48 242.4 459.60 240.9 459.72 241.1 459.84 241.3 459.96 242.0 460.08 242.0 460.20 244.3 460.32 240.6 460.44 239.1 460.56 243.5 460.68 241.5 460.80 242.1 460.92 245.4 461.04 244.6 461.16 243.1 461.28 243.7 461.40 242.3 461.52 243.7 461.64 241.1 461.76 240.9 461.88 241.2 462.00 244.6 462.12 244.5 462.24 240.9 462.36 243.8 462.48 241.6 462.60 243.6 462.72 241.3 462.84 243.3 462.96 241.5 463.08 241.2 463.20 241.6 463.32 241.9 463.44 240.7 463.56 239.3 463.68 244.3 463.80 240.9 463.92 238.5 464.04 238.2 464.16 238.2 464.28 240.4 464.40 243.6 464.52 238.7 464.64 240.8 464.76 238.3 464.88 243.1 465.00 241.8 465.12 241.7 465.24 243.4 465.36 243.8 465.48 242.8 465.60 240.1 465.72 238.9 465.84 239.3 465.96 238.1 466.08 243.9 466.20 240.7 466.32 241.2 466.44 241.3 466.56 244.2 466.68 240.1 466.80 243.0 466.92 241.6 467.04 240.9 467.16 238.0 467.28 242.7 467.40 239.9 467.52 240.4 467.64 241.6 467.76 241.4 467.88 243.1 468.00 240.1 468.12 241.5 468.24 241.7 468.36 241.3 468.48 242.4 468.60 240.9 468.72 243.3 468.84 240.2 468.96 239.0 469.08 241.3 469.20 243.4 469.32 240.6 469.44 240.4 469.56 240.9 469.68 241.8 469.80 241.2 469.92 242.0 470.04 238.7 470.16 244.0 470.28 242.5 470.40 240.2 470.52 243.9 470.64 242.4 470.76 244.1 470.88 239.7 471.00 244.4 471.12 241.8 471.24 238.4 471.36 243.0 471.48 241.2 471.60 240.1 471.72 241.4 471.84 238.6 471.96 242.8 472.08 241.5 472.20 241.4 472.32 244.2 472.44 241.9 472.56 240.8 472.68 240.3 472.80 241.8 472.92 243.7 473.04 241.0 473.16 240.3 473.28 243.5 473.40 242.1 473.52 242.0 473.64 245.2 473.76 240.1 473.88 242.4 474.00 239.2 474.12 241.6 474.24 243.1 474.36 244.0 474.48 240.1 474.60 243.6 474.72 243.5 474.84 242.0 474.96 245.4 475.08 242.3 475.20 240.8 475.32 243.0 475.44 239.2 475.56 244.9 475.68 244.0 475.80 241.7 475.92 243.4 476.04 243.3 476.16 245.5 476.28 241.4 476.40 240.3 476.52 239.2 476.64 242.0 476.76 239.9 476.88 242.2 477.00 243.2 477.12 241.8 477.24 241.0 477.36 244.5 477.48 242.3 477.60 243.0 477.72 244.2 477.84 240.5 477.96 241.1 478.08 245.8 478.20 242.4 478.32 241.0 478.44 242.3 478.56 241.8 478.68 240.7 478.80 242.1 478.92 242.7 479.04 242.7 479.16 243.6 479.28 239.9 479.40 240.2 479.52 244.0 479.64 242.0 479.76 244.7 479.88 243.2 480.00 240.3 480.12 243.5 480.24 241.0 480.36 243.1 480.48 244.7 480.60 245.8 480.72 242.5 480.84 243.7 480.96 243.1 481.08 243.9 481.20 239.3 481.32 241.9 481.44 243.0 481.56 243.3 481.68 241.3 481.80 243.9 481.92 244.3 482.04 242.6 482.16 242.1 482.28 241.9 482.40 242.7 482.52 244.4 482.64 244.9 482.76 241.7 482.88 240.9 483.00 241.1 483.12 244.0 483.24 242.8 483.36 242.9 483.48 243.2 483.60 243.0 483.72 242.2 483.84 240.7 483.96 241.3 484.08 242.5 484.20 243.0 484.32 241.7 484.44 241.6 484.56 244.6 484.68 241.5 484.80 242.7 484.92 241.8 485.04 240.9 485.16 239.8 485.28 241.4 485.40 240.9 485.52 243.6 485.64 240.3 485.76 241.5 485.88 243.3 486.00 242.0 486.12 243.0 486.24 243.5 486.36 239.5 486.48 241.5 486.60 240.6 486.72 244.4 486.84 241.9 486.96 242.9 487.08 244.9 487.20 241.5 487.32 242.2 487.44 242.8 487.56 241.6 487.68 244.1 487.80 243.4 487.92 243.7 488.04 242.2 488.16 241.6 488.28 241.5 488.40 241.5 488.52 239.5 488.64 242.8 488.76 243.5 488.88 242.2 489.00 241.4 489.12 242.3 489.24 242.6 489.36 242.8 489.48 245.2 489.60 240.9 489.72 242.9 489.84 243.4 489.96 242.4 490.08 241.9 490.20 240.6 490.32 241.4 490.44 243.5 490.56 244.7 490.68 241.3 490.80 243.1 490.92 243.2 491.04 244.0 491.16 242.8 491.28 243.1 491.40 243.9 491.52 240.6 491.64 242.5 491.76 239.6 491.88 239.3 492.00 241.2 492.12 240.0 492.24 243.3 492.36 244.1 492.48 242.0 492.60 242.3 492.72 242.2 492.84 242.1 492.96 242.8 493.08 243.2 493.20 241.9 493.32 241.3 493.44 241.8 493.56 243.9 493.68 242.0 493.80 245.0 493.92 242.3 494.04 244.9 494.16 240.8 494.28 241.6 494.40 243.5 494.52 243.5 494.64 242.5 494.76 245.9 494.88 242.9 495.00 243.2 495.12 241.9 495.24 245.5 495.36 244.2 495.48 243.5 495.60 240.2 495.72 243.4 495.84 242.1 495.96 243.5 496.08 244.4 496.20 241.7 496.32 243.3 496.44 244.3 496.56 243.2 496.68 242.4 496.80 241.3 496.92 241.9 497.04 240.9 497.16 244.6 497.28 243.2 497.40 241.1 497.52 243.0 497.64 241.0 497.76 239.8 497.88 245.0 498.00 245.0 498.12 240.7 498.24 241.9 498.36 243.4 498.48 242.5 498.60 241.8 498.72 242.3 498.84 242.8 498.96 242.3 499.08 243.5 499.20 242.8 499.32 242.0 499.44 243.3 499.56 240.6 499.68 245.6 499.80 240.5 499.92 243.1 500.04 243.8 500.16 244.0 500.28 243.7 500.40 245.3 500.52 241.5 500.64 243.2 500.76 243.6 500.88 242.6 501.00 242.4 501.12 245.4 501.24 242.3 501.36 242.6 501.48 243.0 501.60 243.1 501.72 243.7 501.84 243.1 501.96 244.1 502.08 243.7 502.20 244.3 502.32 245.7 502.44 242.2 502.56 246.2 502.68 242.8 502.80 244.6 502.92 243.8 503.04 243.1 503.16 240.4 503.28 246.2 503.40 242.4 503.52 242.4 503.64 245.3 503.76 243.8 503.88 246.7 504.00 246.3 504.12 244.8 504.24 244.1 504.36 244.9 504.48 241.6 504.60 244.0 504.72 244.0 504.84 243.0 504.96 244.2 505.08 241.4 505.20 245.2 505.32 245.8 505.44 241.7 505.56 244.0 505.68 246.3 505.80 244.5 505.92 242.2 506.04 242.3 506.16 245.2 506.28 246.8 506.40 242.2 506.52 244.0 506.64 242.7 506.76 243.5 506.88 244.4 507.00 243.9 507.12 242.8 507.24 247.1 507.36 243.7 507.48 243.6 507.60 245.7 507.72 243.9 507.84 243.6 507.96 245.4 508.08 242.2 508.20 245.1 508.32 245.5 508.44 244.9 508.56 243.6 508.68 243.8 508.80 241.1 508.92 243.6 509.04 244.3 509.16 245.2 509.28 244.0 509.40 243.2 509.52 242.5 509.64 243.7 509.76 244.0 509.88 245.7 510.00 243.8 510.12 243.0 510.24 243.6 510.36 243.0 510.48 243.4 510.60 240.5 510.72 241.2 510.84 241.8 510.96 244.5 511.08 243.6 511.20 244.0 511.32 245.6 511.44 242.1 511.56 245.5 511.68 244.3 511.80 242.6 511.92 246.0 512.04 241.4 512.16 241.9 512.28 243.3 512.40 244.3 512.52 243.4 512.64 240.4 512.76 243.2 512.88 243.5 513.00 246.8 513.12 245.8 513.24 243.8 513.36 241.9 513.48 244.2 513.60 241.8 513.72 243.9 513.84 244.2 513.96 243.0 514.08 244.0 514.20 243.1 514.32 242.7 514.44 246.0 514.56 244.5 514.68 243.1 514.80 242.3 514.92 243.8 515.04 244.4 515.16 244.9 515.28 245.9 515.40 244.2 515.52 241.7 515.64 246.7 515.76 245.3 515.88 244.8 516.00 245.6 516.12 241.1 516.24 242.9 516.36 242.7 516.48 245.3 516.60 241.6 516.72 242.9 516.84 245.8 516.96 244.5 517.08 242.8 517.20 246.4 517.32 241.3 517.44 244.1 517.56 243.1 517.68 244.2 517.80 243.0 517.92 242.1 518.04 243.7 518.16 241.3 518.28 244.2 518.40 242.9 518.52 244.8 518.64 242.7 518.76 242.3 518.88 244.0 519.00 245.3 519.12 240.1 519.24 243.5 519.36 244.3 519.48 241.1 519.60 241.9 519.72 244.4 519.84 242.1 519.96 242.4 520.08 246.1 520.20 241.9 520.32 242.1 520.44 240.2 520.56 241.7 520.68 241.5 520.80 246.2 520.92 245.4 521.04 241.5 521.16 246.6 521.28 244.7 521.40 243.3 521.52 244.8 521.64 244.2 521.76 242.4 521.88 240.8 522.00 242.2 522.12 243.6 522.24 243.1 522.36 242.5 522.48 245.2 522.60 242.0 522.72 245.1 522.84 242.9 522.96 243.9 523.08 242.0 523.20 243.7 523.32 242.5 523.44 241.0 523.56 243.7 523.68 243.7 523.80 245.1 523.92 244.3 524.04 242.2 524.16 242.9 524.28 240.7 524.40 242.1 524.52 245.9 524.64 246.3 524.76 245.1 524.88 244.4 525.00 244.9 525.12 244.7 525.24 241.2 525.36 242.6 525.48 245.9 525.60 245.9 525.72 244.4 525.84 243.6 525.96 243.4 526.08 243.2 526.20 242.6 526.32 241.1 526.44 244.3 526.56 243.4 526.68 243.8 526.80 246.9 526.92 245.1 527.04 243.1 527.16 245.1 527.28 241.8 527.40 245.9 527.52 244.6 527.64 243.9 527.76 245.2 527.88 246.6 528.00 243.6 528.12 242.7 528.24 247.5 528.36 244.4 528.48 246.7 528.60 243.3 528.72 245.0 528.84 243.4 528.96 245.4 529.08 244.0 529.20 243.4 529.32 246.9 529.44 245.0 529.56 241.3 529.68 244.1 529.80 243.0 529.92 242.6 530.04 243.6 530.16 243.8 530.28 244.6 530.40 243.3 530.52 241.6 530.64 243.7 530.76 246.0 530.88 242.5 531.00 245.6 531.12 245.4 531.24 243.9 531.36 245.2 531.48 243.5 531.60 244.1 531.72 243.1 531.84 245.5 531.96 246.9 532.08 243.7 532.20 246.7 532.32 241.6 532.44 243.4 532.56 243.2 532.68 247.6 532.80 243.9 532.92 246.1 533.04 241.7 533.16 245.1 533.28 245.8 533.40 244.8 533.52 241.7 533.64 245.2 533.76 246.2 533.88 247.1 534.00 245.6 534.12 242.3 534.24 244.7 534.36 246.5 534.48 243.7 534.60 245.9 534.72 244.3 534.84 245.2 534.96 246.3 535.08 244.0 535.20 248.3 535.32 245.4 535.44 245.7 535.56 244.0 535.68 245.3 535.80 244.7 535.92 242.9" stroke="#0000ff" />
</g>
<g stroke="#000" stroke-width="1.7" fill="none">
<line x1="81" y1="339.60" x2="90" y2="339.60" />
<line x1="85" y1="318.94" x2="90" y2="318.94" />
<line x1="81" y1="298.28" x2="90" y2="298.28" />
<line x1="85" y1="277.61" x2="90" y2="277.61" />
<line x1="81" y1="256.95" x2="90" y2="256.95" />
<line x1="85" y1="236.29" x2="90" y2="236.29" />
<line x1="81" y1="215.62" x2="90" y2="215.62" />
<line x1="85" y1="194.96" x2="90" y2="194.96" />
<line x1="81" y1="174.30" x2="90" y2="174.30" />
<line x1="85" y1="153.64" x2="90" y2="153.64" />
<line x1="81" y1="132.98" x2="90" y2="132.98" />
<line x1="85" y1="112.31" x2="90" y2="112.31" />
<line x1="81" y1="91.65" x2="90" y2="91.65" />
<line x1="85" y1="70.99" x2="90" y2="70.99" />
<line x1="81" y1="50.33" x2="90" y2="50.33" />
<line x1="85" y1="29.66" x2="90" y2="29.66" />
<line x1="81" y1="9.00" x2="90" y2="9.00" />
<line x1="90.00" y1="339.6" x2="90.00" y2="347" />
<line x1="134.67" y1="339.6" x2="134.67" y2="343.5" />
<line x1="179.34" y1="339.6" x2="179.34" y2="347" />
<line x1="224.01" y1="339.6" x2="224.01" y2="343.5" />
<line x1="268.68" y1="339.6" x2="268.68" y2="347" />
<line x1="313.35" y1="339.6" x2="313.35" y2="343.5" />
<line x1="358.02" y1="339.6" x2="358.02" y2="347" />
<line x1="402.69" y1="339.6" x2="402.69" y2="343.5" />
<line x1="447.36" y1="339.6" x2="447.36" y2="347" />
<line x1="492.03" y1="339.6" x2="492.03" y2="343.5" />
<line x1="536.70" y1="339.6" x2="536.70" y2="347" />
</g>
<rect x="89" y="8" width="1.85" height="339" fill="#000"/>
<rect x="89" y="8" width="448.5" height="2" fill="#000"/>
<rect x="535.9" y="8" width="1.5" height="339" fill="#000"/>
<rect x="89" y="338.8" width="448" height="1.8" fill="#000"/>
<g font-size="15.4" fill="#000">
<text x="75.5" y="344.30" text-anchor="end" letter-spacing="-0.45">0</text>
<text x="75.5" y="302.98" text-anchor="end" letter-spacing="-0.45">500</text>
<text x="75.5" y="261.65" text-anchor="end" letter-spacing="-0.45">1000</text>
<text x="75.5" y="220.32" text-anchor="end" letter-spacing="-0.45">1500</text>
<text x="75.5" y="179.00" text-anchor="end" letter-spacing="-0.45">2000</text>
<text x="75.5" y="137.68" text-anchor="end" letter-spacing="-0.45">2500</text>
<text x="75.5" y="96.35" text-anchor="end" letter-spacing="-0.45">3000</text>
<text x="75.5" y="55.03" text-anchor="end" letter-spacing="-0.45">3500</text>
<text x="75.5" y="13.10" text-anchor="end" letter-spacing="-0.45">4000</text>
<text x="90.00" y="362.0" text-anchor="middle" letter-spacing="-0.6">0</text>
<text x="179.34" y="362.0" text-anchor="middle" letter-spacing="-0.6">20</text>
<text x="268.68" y="362.0" text-anchor="middle" letter-spacing="-0.6">40</text>
<text x="358.02" y="362.0" text-anchor="middle" letter-spacing="-0.6">60</text>
<text x="447.36" y="362.0" text-anchor="middle" letter-spacing="-0.6">80</text>
<text x="536.70" y="362.0" text-anchor="middle" letter-spacing="-0.6">100</text>
</g>
<rect x="291.5" y="12.5" width="243.8" height="81" fill="#fff" stroke="#2a2a2a" stroke-width="1.1"/>
<g stroke-width="2.8" stroke-linecap="round">
<line x1="301.3" y1="27.5" x2="341.4" y2="27.5" stroke="#000"/>
<line x1="301.3" y1="51.5" x2="341.4" y2="51.5" stroke="#ff0000"/>
<line x1="301.3" y1="75.5" x2="341.4" y2="75.5" stroke="#0000ff"/>
</g>
<g font-size="17.9" fill="#000" style="font-kerning:none">
<text x="346.3" y="33.9">CoFe-Ac/<tspan font-size="10.5" dx="0.2" dy="6.7">Ex</tspan></text>
<text x="346.3" y="58.1">CoFe-Ac/<tspan font-size="10.5" dx="0.2" dy="6.7">Ex</tspan><tspan font-size="18.2" dy="-6.7">(2000mg/l)</tspan></text>
<text x="346.3" y="82">CoFe-Ac/<tspan font-size="10.5" dx="0.2" dy="6.7">Ex</tspan><tspan font-size="18.2" dy="-6.7">(2400mg/l)</tspan></text>
</g>
<g font-weight="bold" fill="#000">
<text x="93" y="34" font-size="20">(A)</text>
<text x="140" y="37.4" font-size="20.5">7.67Å</text>
<text x="510.3" y="229" font-size="18.5">(c)</text>
<text x="509.3" y="273" font-size="18.5">(b)</text>
<text x="510.3" y="307.5" font-size="18.5">(a)</text>
<text x="241.9" y="390.6" font-size="17.5">2 Théta (degrees)</text>
<text transform="translate(17.1,219.7) rotate(-90)" font-size="17.3">Intensity (u.a)</text>
</g>
</svg>
</body></html>
